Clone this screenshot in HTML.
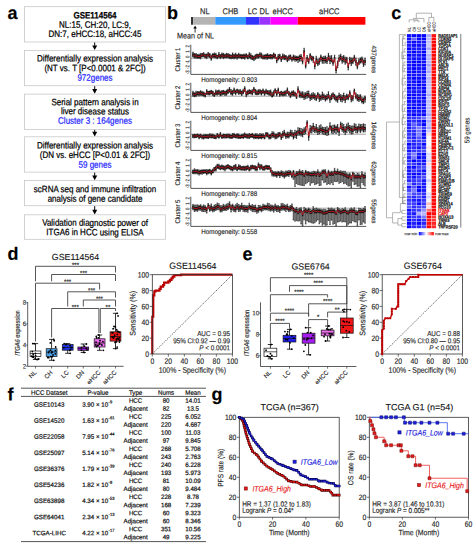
<!DOCTYPE html>
<html><head><meta charset="utf-8">
<style>
html,body{margin:0;padding:0;background:#fff;width:476px;height:550px;overflow:hidden}
svg{display:block;font-family:"Liberation Sans", sans-serif;text-rendering:geometricPrecision}
</style></head><body>
<svg width="476" height="550" viewBox="0 0 476 550">
<rect x="0" y="0" width="476" height="550" fill="#fff"/>
<text x="0" y="0" transform="translate(7.50 18.90) rotate(0.05)" font-size="18.0" font-weight="bold" fill="#000" stroke="#000" stroke-width="0.15">a</text>
<rect x="24.50" y="6.70" width="141.00" height="35.30" fill="#fff" stroke="#c8c8c8" stroke-width="0.8"/>
<text x="0" y="2.88" transform="translate(95.00 15.10) rotate(0.05) scale(1.0 1.17)" font-size="8" text-anchor="middle" fill="#000" font-weight="bold" stroke="#000" stroke-width="0.2">GSE114564</text>
<text x="0" y="2.88" transform="translate(95.00 24.50) rotate(0.05) scale(1.0 1.17)" font-size="8" text-anchor="middle" fill="#000" stroke="#000" stroke-width="0.2">NL:15, CH:20, LC:9,</text>
<text x="0" y="2.88" transform="translate(95.00 33.60) rotate(0.05) scale(1.0 1.17)" font-size="8" text-anchor="middle" fill="#000" stroke="#000" stroke-width="0.2">DN:7, eHCC:18, aHCC:45</text>
<line x1="94.70" y1="42.50" x2="94.70" y2="45.90" stroke="#000" stroke-width="1.0"/>
<path d="M92.20,45.40 L97.20,45.40 L94.70,50.10 Z" stroke="#000" stroke-width="0" fill="#000"/>
<rect x="24.50" y="50.40" width="141.00" height="35.30" fill="#fff" stroke="#c8c8c8" stroke-width="0.8"/>
<text x="0" y="2.88" transform="translate(95.00 58.20) rotate(0.05) scale(1.0 1.17)" font-size="8" text-anchor="middle" fill="#000" stroke="#000" stroke-width="0.2">Differentially expression analysis</text>
<text x="0" y="2.88" transform="translate(95.00 67.90) rotate(0.05) scale(1.0 1.17)" font-size="8" text-anchor="middle" fill="#000" stroke="#000" stroke-width="0.2">(NT vs. T [P&lt;0.0001 &amp; 2FC])</text>
<text x="0" y="2.88" transform="translate(95.00 77.30) rotate(0.05) scale(1.0 1.17)" font-size="8" text-anchor="middle" fill="#2a2aff" stroke="#2a2aff" stroke-width="0.2">972genes</text>
<line x1="94.70" y1="86.20" x2="94.70" y2="89.60" stroke="#000" stroke-width="1.0"/>
<path d="M92.20,89.10 L97.20,89.10 L94.70,93.80 Z" stroke="#000" stroke-width="0" fill="#000"/>
<rect x="24.50" y="94.10" width="141.00" height="35.30" fill="#fff" stroke="#c8c8c8" stroke-width="0.8"/>
<text x="0" y="2.88" transform="translate(95.00 101.80) rotate(0.05) scale(1.0 1.17)" font-size="8" text-anchor="middle" fill="#000" stroke="#000" stroke-width="0.2">Serial pattern analysis in</text>
<text x="0" y="2.88" transform="translate(95.00 111.00) rotate(0.05) scale(1.0 1.17)" font-size="8" text-anchor="middle" fill="#000" stroke="#000" stroke-width="0.2">liver disease status</text>
<text x="0" y="2.88" transform="translate(95.00 120.30) rotate(0.05) scale(1.0 1.17)" font-size="8" text-anchor="middle" fill="#2a2aff" stroke="#2a2aff" stroke-width="0.2">Cluster 3 : 164genes</text>
<line x1="94.70" y1="129.90" x2="94.70" y2="132.30" stroke="#000" stroke-width="1.0"/>
<path d="M92.20,131.80 L97.20,131.80 L94.70,136.50 Z" stroke="#000" stroke-width="0" fill="#000"/>
<rect x="24.50" y="136.80" width="141.00" height="35.30" fill="#fff" stroke="#c8c8c8" stroke-width="0.8"/>
<text x="0" y="2.88" transform="translate(95.00 145.20) rotate(0.05) scale(1.0 1.17)" font-size="8" text-anchor="middle" fill="#000" stroke="#000" stroke-width="0.2">Differentially expression analysis</text>
<text x="0" y="2.88" transform="translate(95.00 154.60) rotate(0.05) scale(1.0 1.17)" font-size="8" text-anchor="middle" fill="#000" stroke="#000" stroke-width="0.2">(DN vs. eHCC [P&lt;0.01 &amp; 2FC])</text>
<text x="0" y="2.88" transform="translate(95.00 164.40) rotate(0.05) scale(1.0 1.17)" font-size="8" text-anchor="middle" fill="#2a2aff" stroke="#2a2aff" stroke-width="0.2">59 genes</text>
<line x1="94.70" y1="172.60" x2="94.70" y2="176.00" stroke="#000" stroke-width="1.0"/>
<path d="M92.20,175.50 L97.20,175.50 L94.70,180.20 Z" stroke="#000" stroke-width="0" fill="#000"/>
<rect x="24.50" y="180.50" width="141.00" height="25.20" fill="#fff" stroke="#c8c8c8" stroke-width="0.8"/>
<text x="0" y="2.88" transform="translate(95.00 188.90) rotate(0.05) scale(1.0 1.17)" font-size="8" text-anchor="middle" fill="#000" stroke="#000" stroke-width="0.2">scRNA seq and immune infiltration</text>
<text x="0" y="2.88" transform="translate(95.00 198.30) rotate(0.05) scale(1.0 1.17)" font-size="8" text-anchor="middle" fill="#000" stroke="#000" stroke-width="0.2">analysis of gene candidate</text>
<line x1="94.70" y1="206.20" x2="94.70" y2="210.30" stroke="#000" stroke-width="1.0"/>
<path d="M92.20,209.80 L97.20,209.80 L94.70,214.50 Z" stroke="#000" stroke-width="0" fill="#000"/>
<rect x="24.50" y="214.80" width="141.00" height="24.50" fill="#fff" stroke="#c8c8c8" stroke-width="0.8"/>
<text x="0" y="2.88" transform="translate(95.00 222.50) rotate(0.05) scale(1.0 1.17)" font-size="8" text-anchor="middle" fill="#000" stroke="#000" stroke-width="0.2">Validation diagnostic power of</text>
<text x="0" y="2.88" transform="translate(95.00 232.00) rotate(0.05) scale(1.0 1.17)" font-size="8" text-anchor="middle" fill="#000" stroke="#000" stroke-width="0.2">ITGA6 in HCC using ELISA</text>
<text x="0" y="0" transform="translate(167.00 18.90) rotate(0.05)" font-size="18.0" font-weight="bold" fill="#000" stroke="#000" stroke-width="0.15">b</text>
<rect x="191.00" y="17.00" width="2.20" height="7.70" fill="#333333" stroke="none" stroke-width="1"/>
<rect x="193.20" y="17.00" width="22.10" height="7.70" fill="#b4b4b4" stroke="none" stroke-width="1"/>
<rect x="215.30" y="17.00" width="30.70" height="7.70" fill="#3399ff" stroke="none" stroke-width="1"/>
<rect x="246.00" y="17.00" width="13.40" height="7.70" fill="#3333ff" stroke="none" stroke-width="1"/>
<rect x="259.40" y="17.00" width="10.90" height="7.70" fill="#9933ff" stroke="none" stroke-width="1"/>
<rect x="270.30" y="17.00" width="27.50" height="7.70" fill="#ff00ff" stroke="none" stroke-width="1"/>
<rect x="297.80" y="17.00" width="67.60" height="7.70" fill="#ff0000" stroke="none" stroke-width="1"/>
<text x="0" y="2.70" transform="translate(204.80 11.20) rotate(0.05) scale(1.0 1.15)" font-size="7.5" text-anchor="middle" fill="#222" stroke="#222" stroke-width="0.12">NL</text>
<text x="0" y="2.70" transform="translate(230.40 11.20) rotate(0.05) scale(1.0 1.15)" font-size="7.5" text-anchor="middle" fill="#222" stroke="#222" stroke-width="0.12">CHB</text>
<text x="0" y="2.70" transform="translate(252.50 11.20) rotate(0.05) scale(1.0 1.15)" font-size="7.5" text-anchor="middle" fill="#222" stroke="#222" stroke-width="0.12">LC</text>
<text x="0" y="2.70" transform="translate(264.30 11.20) rotate(0.05) scale(1.0 1.15)" font-size="7.5" text-anchor="middle" fill="#222" stroke="#222" stroke-width="0.12">DL</text>
<text x="0" y="2.70" transform="translate(282.70 11.20) rotate(0.05) scale(1.0 1.15)" font-size="7.5" text-anchor="middle" fill="#222" stroke="#222" stroke-width="0.12">eHCC</text>
<text x="0" y="2.70" transform="translate(329.30 11.20) rotate(0.05) scale(1.0 1.15)" font-size="7.5" text-anchor="middle" fill="#222" stroke="#222" stroke-width="0.12">aHCC</text>
<line x1="195.10" y1="27.50" x2="195.10" y2="32.50" stroke="#000" stroke-width="0.8"/>
<path d="M193.3,28.6 L196.9,28.6 L195.1,25.8 Z" stroke="#000" stroke-width="0" fill="#000"/>
<text x="0" y="2.59" transform="translate(195.50 35.50) rotate(0.05) scale(1.0 1.15)" font-size="7.2" text-anchor="middle" fill="#222" stroke="#222" stroke-width="0.12">Mean of NL</text>
<text x="0" y="2.27" transform="translate(374.20 59.25) rotate(90.05) scale(1.0 1.05)" font-size="6.3" text-anchor="middle" fill="#222" stroke="#222" stroke-width="0.12">437genes</text>
<text x="0" y="2.16" transform="translate(177.60 59.55) rotate(-89.95) scale(1.0 1.14)" font-size="6.0" text-anchor="middle" fill="#222" stroke="#222" stroke-width="0.12">Cluster 1</text>
<text x="0" y="1.55" transform="translate(187.40 46.30) rotate(-89.95) scale(1.0 1.2)" font-size="4.3" text-anchor="middle" fill="#333" stroke="#333" stroke-width="0.12">2</text>
<text x="0" y="1.55" transform="translate(187.40 51.50) rotate(-89.95) scale(1.0 1.2)" font-size="4.3" text-anchor="middle" fill="#333" stroke="#333" stroke-width="0.12">1</text>
<text x="0" y="1.55" transform="translate(187.40 56.70) rotate(-89.95) scale(1.0 1.2)" font-size="4.3" text-anchor="middle" fill="#333" stroke="#333" stroke-width="0.12">0</text>
<text x="0" y="1.55" transform="translate(187.40 61.90) rotate(-89.95) scale(1.0 1.2)" font-size="4.3" text-anchor="middle" fill="#333" stroke="#333" stroke-width="0.12">-1</text>
<text x="0" y="1.55" transform="translate(187.40 67.10) rotate(-89.95) scale(1.0 1.2)" font-size="4.3" text-anchor="middle" fill="#333" stroke="#333" stroke-width="0.12">-2</text>
<text x="0" y="1.55" transform="translate(187.40 72.30) rotate(-89.95) scale(1.0 1.2)" font-size="4.3" text-anchor="middle" fill="#333" stroke="#333" stroke-width="0.12">-3</text>
<text x="0" y="2.25" transform="translate(201.20 79.60) rotate(0.05) scale(1.0 1.1)" font-size="6.25" text-anchor="start" fill="#222" stroke="#222" stroke-width="0.12">Homogeneity: 0.803</text>
<line x1="191.00" y1="58.20" x2="366.00" y2="58.20" stroke="#9a9a9a" stroke-width="0.9"/>
<path d="M193.00,52.11V56.98M194.52,53.62V58.07M196.04,53.52V58.34M197.57,54.62V58.24M199.09,54.09V58.26M200.61,53.38V58.86M202.13,53.39V56.83M203.65,52.68V56.66M205.18,54.22V57.95M206.70,53.94V58.60M208.22,52.54V57.10M209.74,53.38V57.51M211.27,55.07V60.15M212.79,53.66V57.55M214.31,53.02V57.71M215.83,53.22V58.00M217.35,55.33V58.80M218.88,52.57V57.53M220.40,54.68V58.68M221.92,53.00V57.60M223.44,53.34V58.69M224.96,54.29V57.98M226.49,53.25V57.80M228.01,53.53V58.03M229.53,54.37V58.50M231.05,55.01V58.90M232.58,52.96V58.41M234.10,54.27V58.90M235.62,53.16V58.30M237.14,54.70V59.17M238.66,53.24V57.95M240.19,54.29V58.09M241.71,54.62V58.90M243.23,54.17V58.48M244.75,54.17V59.20M246.27,53.79V57.54M247.80,55.07V58.95M249.32,52.66V58.00M250.84,53.81V59.02M252.36,55.60V59.65M253.88,56.06V60.48M255.41,54.76V59.34M256.93,54.01V58.37M258.45,54.38V58.08M259.97,52.70V57.23M261.50,53.15V58.03M263.02,54.98V59.06M264.54,54.92V58.94M266.06,54.31V59.15M267.58,53.69V59.16M269.11,54.76V58.40M270.63,54.44V58.83M272.15,54.85V58.97M273.67,53.02V57.89M275.19,54.30V58.41M276.72,57.31V62.74M278.24,54.56V60.09M279.76,54.17V58.84M281.28,56.62V61.49M282.81,53.88V59.16M284.33,54.74V59.66M285.85,55.53V59.78M287.37,56.83V61.74M288.89,55.22V60.36M290.42,54.90V59.29M291.94,57.01V61.17M293.46,55.01V60.02M294.98,55.85V61.20M296.50,56.30V60.95M298.03,56.29V62.40M299.55,55.13V61.18M301.07,54.58V61.02M302.59,57.86V63.87M304.12,48.30V55.35M305.64,62.62V68.10M307.16,55.62V61.46M308.68,58.72V63.40M310.20,53.77V59.37M311.73,56.00V60.73M313.25,56.59V62.33M314.77,62.25V68.83M316.29,56.25V63.46M317.81,59.56V65.60M319.34,58.18V64.31M320.86,54.98V61.33M322.38,57.16V63.16M323.90,56.37V63.31M325.42,55.99V62.78M326.95,57.49V63.46M328.47,53.37V60.26M329.99,55.95V63.63M331.51,55.62V62.00M333.04,59.96V65.25M334.56,55.22V61.81M336.08,66.73V72.96M337.60,60.89V67.90M339.12,55.18V61.51M340.65,54.22V60.08M342.17,56.34V63.16M343.69,55.60V62.01M345.21,57.13V64.13M346.73,57.30V62.93M348.26,63.56V69.93M349.78,57.31V63.69M351.30,58.01V65.57M352.82,58.08V63.61M354.35,55.26V61.08M355.87,58.19V65.13M357.39,62.64V68.84M358.91,58.91V64.67M360.43,57.88V63.11M361.96,56.99V62.81M363.48,59.96V66.38M365.00,58.21V65.04" stroke="#333" stroke-width="1.1" fill="none"/>
<path d="M192.30,52.11h1.4M192.30,56.98h1.4M193.82,53.62h1.4M193.82,58.07h1.4M195.34,53.52h1.4M195.34,58.34h1.4M196.87,54.62h1.4M196.87,58.24h1.4M198.39,54.09h1.4M198.39,58.26h1.4M199.91,53.38h1.4M199.91,58.86h1.4M201.43,53.39h1.4M201.43,56.83h1.4M202.95,52.68h1.4M202.95,56.66h1.4M204.48,54.22h1.4M204.48,57.95h1.4M206.00,53.94h1.4M206.00,58.60h1.4M207.52,52.54h1.4M207.52,57.10h1.4M209.04,53.38h1.4M209.04,57.51h1.4M210.57,55.07h1.4M210.57,60.15h1.4M212.09,53.66h1.4M212.09,57.55h1.4M213.61,53.02h1.4M213.61,57.71h1.4M215.13,53.22h1.4M215.13,58.00h1.4M216.65,55.33h1.4M216.65,58.80h1.4M218.18,52.57h1.4M218.18,57.53h1.4M219.70,54.68h1.4M219.70,58.68h1.4M221.22,53.00h1.4M221.22,57.60h1.4M222.74,53.34h1.4M222.74,58.69h1.4M224.26,54.29h1.4M224.26,57.98h1.4M225.79,53.25h1.4M225.79,57.80h1.4M227.31,53.53h1.4M227.31,58.03h1.4M228.83,54.37h1.4M228.83,58.50h1.4M230.35,55.01h1.4M230.35,58.90h1.4M231.88,52.96h1.4M231.88,58.41h1.4M233.40,54.27h1.4M233.40,58.90h1.4M234.92,53.16h1.4M234.92,58.30h1.4M236.44,54.70h1.4M236.44,59.17h1.4M237.96,53.24h1.4M237.96,57.95h1.4M239.49,54.29h1.4M239.49,58.09h1.4M241.01,54.62h1.4M241.01,58.90h1.4M242.53,54.17h1.4M242.53,58.48h1.4M244.05,54.17h1.4M244.05,59.20h1.4M245.57,53.79h1.4M245.57,57.54h1.4M247.10,55.07h1.4M247.10,58.95h1.4M248.62,52.66h1.4M248.62,58.00h1.4M250.14,53.81h1.4M250.14,59.02h1.4M251.66,55.60h1.4M251.66,59.65h1.4M253.18,56.06h1.4M253.18,60.48h1.4M254.71,54.76h1.4M254.71,59.34h1.4M256.23,54.01h1.4M256.23,58.37h1.4M257.75,54.38h1.4M257.75,58.08h1.4M259.27,52.70h1.4M259.27,57.23h1.4M260.80,53.15h1.4M260.80,58.03h1.4M262.32,54.98h1.4M262.32,59.06h1.4M263.84,54.92h1.4M263.84,58.94h1.4M265.36,54.31h1.4M265.36,59.15h1.4M266.88,53.69h1.4M266.88,59.16h1.4M268.41,54.76h1.4M268.41,58.40h1.4M269.93,54.44h1.4M269.93,58.83h1.4M271.45,54.85h1.4M271.45,58.97h1.4M272.97,53.02h1.4M272.97,57.89h1.4M274.49,54.30h1.4M274.49,58.41h1.4M276.02,57.31h1.4M276.02,62.74h1.4M277.54,54.56h1.4M277.54,60.09h1.4M279.06,54.17h1.4M279.06,58.84h1.4M280.58,56.62h1.4M280.58,61.49h1.4M282.11,53.88h1.4M282.11,59.16h1.4M283.63,54.74h1.4M283.63,59.66h1.4M285.15,55.53h1.4M285.15,59.78h1.4M286.67,56.83h1.4M286.67,61.74h1.4M288.19,55.22h1.4M288.19,60.36h1.4M289.72,54.90h1.4M289.72,59.29h1.4M291.24,57.01h1.4M291.24,61.17h1.4M292.76,55.01h1.4M292.76,60.02h1.4M294.28,55.85h1.4M294.28,61.20h1.4M295.80,56.30h1.4M295.80,60.95h1.4M297.33,56.29h1.4M297.33,62.40h1.4M298.85,55.13h1.4M298.85,61.18h1.4M300.37,54.58h1.4M300.37,61.02h1.4M301.89,57.86h1.4M301.89,63.87h1.4M303.42,48.30h1.4M303.42,55.35h1.4M304.94,62.62h1.4M304.94,68.10h1.4M306.46,55.62h1.4M306.46,61.46h1.4M307.98,58.72h1.4M307.98,63.40h1.4M309.50,53.77h1.4M309.50,59.37h1.4M311.03,56.00h1.4M311.03,60.73h1.4M312.55,56.59h1.4M312.55,62.33h1.4M314.07,62.25h1.4M314.07,68.83h1.4M315.59,56.25h1.4M315.59,63.46h1.4M317.11,59.56h1.4M317.11,65.60h1.4M318.64,58.18h1.4M318.64,64.31h1.4M320.16,54.98h1.4M320.16,61.33h1.4M321.68,57.16h1.4M321.68,63.16h1.4M323.20,56.37h1.4M323.20,63.31h1.4M324.72,55.99h1.4M324.72,62.78h1.4M326.25,57.49h1.4M326.25,63.46h1.4M327.77,53.37h1.4M327.77,60.26h1.4M329.29,55.95h1.4M329.29,63.63h1.4M330.81,55.62h1.4M330.81,62.00h1.4M332.34,59.96h1.4M332.34,65.25h1.4M333.86,55.22h1.4M333.86,61.81h1.4M335.38,66.73h1.4M335.38,72.96h1.4M336.90,60.89h1.4M336.90,67.90h1.4M338.42,55.18h1.4M338.42,61.51h1.4M339.95,54.22h1.4M339.95,60.08h1.4M341.47,56.34h1.4M341.47,63.16h1.4M342.99,55.60h1.4M342.99,62.01h1.4M344.51,57.13h1.4M344.51,64.13h1.4M346.03,57.30h1.4M346.03,62.93h1.4M347.56,63.56h1.4M347.56,69.93h1.4M349.08,57.31h1.4M349.08,63.69h1.4M350.60,58.01h1.4M350.60,65.57h1.4M352.12,58.08h1.4M352.12,63.61h1.4M353.65,55.26h1.4M353.65,61.08h1.4M355.17,58.19h1.4M355.17,65.13h1.4M356.69,62.64h1.4M356.69,68.84h1.4M358.21,58.91h1.4M358.21,64.67h1.4M359.73,57.88h1.4M359.73,63.11h1.4M361.26,56.99h1.4M361.26,62.81h1.4M362.78,59.96h1.4M362.78,66.38h1.4M364.30,58.21h1.4M364.30,65.04h1.4" stroke="#222" stroke-width="0.7" fill="none"/>
<path d="M193.00,53.27v3.2M194.52,54.23v3.2M196.04,54.30v3.2M197.57,54.69v3.2M199.09,54.96v3.2M200.61,54.63v3.2M202.13,53.55v3.2M203.65,53.33v3.2M205.18,54.22v3.2M206.70,54.49v3.2M208.22,53.17v3.2M209.74,53.96v3.2M211.27,56.17v3.2M212.79,54.05v3.2M214.31,54.02v3.2M215.83,54.33v3.2M217.35,55.30v3.2M218.88,53.77v3.2M220.40,54.76v3.2M221.92,54.03v3.2M223.44,54.62v3.2M224.96,54.43v3.2M226.49,54.32v3.2M228.01,54.27v3.2M229.53,54.54v3.2M231.05,55.16v3.2M232.58,54.28v3.2M234.10,54.68v3.2M235.62,54.33v3.2M237.14,54.83v3.2M238.66,54.30v3.2M240.19,54.70v3.2M241.71,54.96v3.2M243.23,54.69v3.2M244.75,54.98v3.2M246.27,54.06v3.2M247.80,55.43v3.2M249.32,53.70v3.2M250.84,55.05v3.2M252.36,56.20v3.2M253.88,56.41v3.2M255.41,55.14v3.2M256.93,54.28v3.2M258.45,54.50v3.2M259.97,53.59v3.2M261.50,54.47v3.2M263.02,55.64v3.2M264.54,55.20v3.2M266.06,54.86v3.2M267.58,55.11v3.2M269.11,55.00v3.2M270.63,54.51v3.2M272.15,54.93v3.2M273.67,53.75v3.2M275.19,54.46v3.2M276.72,58.41v3.2M278.24,55.74v3.2M279.76,54.73v3.2M281.28,57.27v3.2M282.81,55.17v3.2M284.33,55.63v3.2M285.85,55.71v3.2M287.37,57.94v3.2M288.89,56.34v3.2M290.42,55.09v3.2M291.94,57.13v3.2M293.46,56.09v3.2M294.98,56.81v3.2M296.50,56.82v3.2M298.03,57.10v3.2M299.55,56.22v3.2M301.07,55.86v3.2M302.59,59.41v3.2M304.12,50.33v3.2M305.64,63.51v3.2M307.16,57.01v3.2M308.68,59.36v3.2M310.20,54.35v3.2M311.73,56.53v3.2M313.25,57.14v3.2M314.77,63.89v3.2M316.29,58.47v3.2M317.81,61.34v3.2M319.34,59.30v3.2M320.86,56.19v3.2M322.38,57.81v3.2M323.90,58.00v3.2M325.42,57.51v3.2M326.95,59.16v3.2M328.47,55.34v3.2M329.99,58.22v3.2M331.51,57.54v3.2M333.04,60.61v3.2M334.56,57.10v3.2M336.08,67.83v3.2M337.60,62.69v3.2M339.12,57.39v3.2M340.65,55.66v3.2M342.17,58.36v3.2M343.69,56.79v3.2M345.21,59.37v3.2M346.73,58.16v3.2M348.26,64.78v3.2M349.78,58.69v3.2M351.30,60.24v3.2M352.82,59.43v3.2M354.35,56.62v3.2M355.87,59.80v3.2M357.39,64.38v3.2M358.91,60.52v3.2M360.43,58.83v3.2M361.96,58.27v3.2M363.48,61.61v3.2M365.00,59.81v3.2" stroke="#151515" stroke-width="1.5" fill="none"/>
<polyline points="193.00,54.87 194.52,55.83 196.04,55.90 197.57,56.29 199.09,56.56 200.61,56.23 202.13,55.15 203.65,54.93 205.18,55.82 206.70,56.09 208.22,54.77 209.74,55.56 211.27,57.77 212.79,55.65 214.31,55.62 215.83,55.93 217.35,56.90 218.88,55.37 220.40,56.36 221.92,55.63 223.44,56.22 224.96,56.03 226.49,55.92 228.01,55.87 229.53,56.14 231.05,56.76 232.58,55.88 234.10,56.28 235.62,55.93 237.14,56.43 238.66,55.90 240.19,56.30 241.71,56.56 243.23,56.29 244.75,56.58 246.27,55.66 247.80,57.03 249.32,55.30 250.84,56.65 252.36,57.80 253.88,58.01 255.41,56.74 256.93,55.88 258.45,56.10 259.97,55.19 261.50,56.07 263.02,57.24 264.54,56.80 266.06,56.46 267.58,56.71 269.11,56.60 270.63,56.11 272.15,56.53 273.67,55.35 275.19,56.06 276.72,60.01 278.24,57.34 279.76,56.33 281.28,58.87 282.81,56.77 284.33,57.23 285.85,57.31 287.37,59.54 288.89,57.94 290.42,56.69 291.94,58.73 293.46,57.69 294.98,58.41 296.50,58.42 298.03,58.70 299.55,57.82 301.07,57.46 302.59,61.01 304.12,51.93 305.64,65.11 307.16,58.61 308.68,60.96 310.20,55.95 311.73,58.13 313.25,58.74 314.77,65.49 316.29,60.07 317.81,62.94 319.34,60.90 320.86,57.79 322.38,59.41 323.90,59.60 325.42,59.11 326.95,60.76 328.47,56.94 329.99,59.82 331.51,59.14 333.04,62.21 334.56,58.70 336.08,69.43 337.60,64.29 339.12,58.99 340.65,57.26 342.17,59.96 343.69,58.39 345.21,60.97 346.73,59.76 348.26,66.38 349.78,60.29 351.30,61.84 352.82,61.03 354.35,58.22 355.87,61.40 357.39,65.98 358.91,62.12 360.43,60.43 361.96,59.87 363.48,63.21 365.00,61.41" fill="none" stroke="#c8141e" stroke-width="0.9"/>
<line x1="190.80" y1="44.70" x2="190.80" y2="74.40" stroke="#444" stroke-width="0.9"/>
<line x1="190.80" y1="74.40" x2="366.20" y2="74.40" stroke="#444" stroke-width="0.9"/>
<text x="0" y="2.27" transform="translate(374.20 97.25) rotate(90.05) scale(1.0 1.05)" font-size="6.3" text-anchor="middle" fill="#222" stroke="#222" stroke-width="0.12">252genes</text>
<text x="0" y="2.16" transform="translate(177.60 97.55) rotate(-89.95) scale(1.0 1.14)" font-size="6.0" text-anchor="middle" fill="#222" stroke="#222" stroke-width="0.12">Cluster 2</text>
<text x="0" y="1.55" transform="translate(187.40 84.30) rotate(-89.95) scale(1.0 1.2)" font-size="4.3" text-anchor="middle" fill="#333" stroke="#333" stroke-width="0.12">2</text>
<text x="0" y="1.55" transform="translate(187.40 89.50) rotate(-89.95) scale(1.0 1.2)" font-size="4.3" text-anchor="middle" fill="#333" stroke="#333" stroke-width="0.12">1</text>
<text x="0" y="1.55" transform="translate(187.40 94.70) rotate(-89.95) scale(1.0 1.2)" font-size="4.3" text-anchor="middle" fill="#333" stroke="#333" stroke-width="0.12">0</text>
<text x="0" y="1.55" transform="translate(187.40 99.90) rotate(-89.95) scale(1.0 1.2)" font-size="4.3" text-anchor="middle" fill="#333" stroke="#333" stroke-width="0.12">-1</text>
<text x="0" y="1.55" transform="translate(187.40 105.10) rotate(-89.95) scale(1.0 1.2)" font-size="4.3" text-anchor="middle" fill="#333" stroke="#333" stroke-width="0.12">-2</text>
<text x="0" y="1.55" transform="translate(187.40 110.30) rotate(-89.95) scale(1.0 1.2)" font-size="4.3" text-anchor="middle" fill="#333" stroke="#333" stroke-width="0.12">-3</text>
<text x="0" y="2.25" transform="translate(201.20 117.60) rotate(0.05) scale(1.0 1.1)" font-size="6.25" text-anchor="start" fill="#222" stroke="#222" stroke-width="0.12">Homogeneity: 0.804</text>
<line x1="191.00" y1="96.20" x2="366.00" y2="96.20" stroke="#9a9a9a" stroke-width="0.9"/>
<path d="M193.00,91.22V96.37M194.52,92.84V96.76M196.04,91.17V96.57M197.57,91.58V95.20M199.09,91.73V95.89M200.61,90.77V95.33M202.13,91.43V95.57M203.65,92.02V96.19M205.18,93.18V97.06M206.70,89.64V94.38M208.22,91.33V94.76M209.74,91.06V94.91M211.27,90.35V93.97M212.79,91.08V95.44M214.31,92.95V96.39M215.83,89.94V94.94M217.35,90.70V95.11M218.88,89.97V94.42M220.40,91.19V95.78M221.92,90.59V95.23M223.44,90.41V94.43M224.96,91.26V95.46M226.49,90.15V95.25M228.01,89.20V93.65M229.53,87.54V92.19M231.05,89.47V94.77M232.58,90.41V95.19M234.10,88.05V93.27M235.62,90.20V94.80M237.14,89.13V92.89M238.66,89.90V94.36M240.19,89.61V94.02M241.71,91.03V95.50M243.23,89.14V93.81M244.75,86.77V91.71M246.27,91.35V96.76M247.80,90.24V94.87M249.32,89.71V93.67M250.84,90.25V94.00M252.36,89.69V94.87M253.88,87.35V92.54M255.41,89.35V94.45M256.93,90.35V94.82M258.45,89.71V94.55M259.97,89.38V94.09M261.50,90.65V95.10M263.02,88.98V93.59M264.54,90.88V95.36M266.06,89.22V93.93M267.58,90.66V94.34M269.11,90.43V95.30M270.63,89.97V95.43M272.15,92.30V97.12M273.67,90.83V95.98M275.19,88.79V93.11M276.72,90.52V96.04M278.24,88.12V93.35M279.76,92.05V96.31M281.28,91.21V95.28M282.81,91.94V96.03M284.33,91.21V95.65M285.85,90.73V95.61M287.37,87.90V93.51M288.89,91.45V95.37M290.42,92.81V97.55M291.94,91.23V95.82M293.46,90.69V95.88M294.98,92.06V96.07M296.50,93.63V98.42M298.03,86.76V92.37M299.55,91.02V97.33M301.07,92.04V97.71M302.59,91.74V97.70M304.12,92.78V99.43M305.64,92.84V98.75M307.16,91.25V98.11M308.68,91.03V97.61M310.20,94.84V100.54M311.73,93.28V99.42M313.25,92.65V98.50M314.77,93.80V99.68M316.29,95.38V100.44M317.81,92.63V98.14M319.34,94.24V101.52M320.86,95.03V100.36M322.38,92.10V99.34M323.90,93.98V99.52M325.42,95.62V101.09M326.95,94.32V99.92M328.47,91.84V98.16M329.99,95.63V102.30M331.51,93.89V99.78M333.04,92.80V98.30M334.56,94.35V99.71M336.08,96.07V101.16M337.60,95.96V102.28M339.12,93.09V99.31M340.65,94.68V101.28M342.17,95.22V101.92M343.69,93.11V100.16M345.21,95.83V102.54M346.73,94.09V99.39M348.26,94.83V99.76M349.78,90.86V97.05M351.30,95.27V101.83M352.82,95.71V100.79M354.35,89.04V94.10M355.87,92.95V98.68M357.39,94.54V100.67M358.91,95.00V101.47M360.43,94.73V100.43M361.96,97.39V102.90M363.48,97.88V103.63M365.00,96.06V102.24" stroke="#333" stroke-width="1.1" fill="none"/>
<path d="M192.30,91.22h1.4M192.30,96.37h1.4M193.82,92.84h1.4M193.82,96.76h1.4M195.34,91.17h1.4M195.34,96.57h1.4M196.87,91.58h1.4M196.87,95.20h1.4M198.39,91.73h1.4M198.39,95.89h1.4M199.91,90.77h1.4M199.91,95.33h1.4M201.43,91.43h1.4M201.43,95.57h1.4M202.95,92.02h1.4M202.95,96.19h1.4M204.48,93.18h1.4M204.48,97.06h1.4M206.00,89.64h1.4M206.00,94.38h1.4M207.52,91.33h1.4M207.52,94.76h1.4M209.04,91.06h1.4M209.04,94.91h1.4M210.57,90.35h1.4M210.57,93.97h1.4M212.09,91.08h1.4M212.09,95.44h1.4M213.61,92.95h1.4M213.61,96.39h1.4M215.13,89.94h1.4M215.13,94.94h1.4M216.65,90.70h1.4M216.65,95.11h1.4M218.18,89.97h1.4M218.18,94.42h1.4M219.70,91.19h1.4M219.70,95.78h1.4M221.22,90.59h1.4M221.22,95.23h1.4M222.74,90.41h1.4M222.74,94.43h1.4M224.26,91.26h1.4M224.26,95.46h1.4M225.79,90.15h1.4M225.79,95.25h1.4M227.31,89.20h1.4M227.31,93.65h1.4M228.83,87.54h1.4M228.83,92.19h1.4M230.35,89.47h1.4M230.35,94.77h1.4M231.88,90.41h1.4M231.88,95.19h1.4M233.40,88.05h1.4M233.40,93.27h1.4M234.92,90.20h1.4M234.92,94.80h1.4M236.44,89.13h1.4M236.44,92.89h1.4M237.96,89.90h1.4M237.96,94.36h1.4M239.49,89.61h1.4M239.49,94.02h1.4M241.01,91.03h1.4M241.01,95.50h1.4M242.53,89.14h1.4M242.53,93.81h1.4M244.05,86.77h1.4M244.05,91.71h1.4M245.57,91.35h1.4M245.57,96.76h1.4M247.10,90.24h1.4M247.10,94.87h1.4M248.62,89.71h1.4M248.62,93.67h1.4M250.14,90.25h1.4M250.14,94.00h1.4M251.66,89.69h1.4M251.66,94.87h1.4M253.18,87.35h1.4M253.18,92.54h1.4M254.71,89.35h1.4M254.71,94.45h1.4M256.23,90.35h1.4M256.23,94.82h1.4M257.75,89.71h1.4M257.75,94.55h1.4M259.27,89.38h1.4M259.27,94.09h1.4M260.80,90.65h1.4M260.80,95.10h1.4M262.32,88.98h1.4M262.32,93.59h1.4M263.84,90.88h1.4M263.84,95.36h1.4M265.36,89.22h1.4M265.36,93.93h1.4M266.88,90.66h1.4M266.88,94.34h1.4M268.41,90.43h1.4M268.41,95.30h1.4M269.93,89.97h1.4M269.93,95.43h1.4M271.45,92.30h1.4M271.45,97.12h1.4M272.97,90.83h1.4M272.97,95.98h1.4M274.49,88.79h1.4M274.49,93.11h1.4M276.02,90.52h1.4M276.02,96.04h1.4M277.54,88.12h1.4M277.54,93.35h1.4M279.06,92.05h1.4M279.06,96.31h1.4M280.58,91.21h1.4M280.58,95.28h1.4M282.11,91.94h1.4M282.11,96.03h1.4M283.63,91.21h1.4M283.63,95.65h1.4M285.15,90.73h1.4M285.15,95.61h1.4M286.67,87.90h1.4M286.67,93.51h1.4M288.19,91.45h1.4M288.19,95.37h1.4M289.72,92.81h1.4M289.72,97.55h1.4M291.24,91.23h1.4M291.24,95.82h1.4M292.76,90.69h1.4M292.76,95.88h1.4M294.28,92.06h1.4M294.28,96.07h1.4M295.80,93.63h1.4M295.80,98.42h1.4M297.33,86.76h1.4M297.33,92.37h1.4M298.85,91.02h1.4M298.85,97.33h1.4M300.37,92.04h1.4M300.37,97.71h1.4M301.89,91.74h1.4M301.89,97.70h1.4M303.42,92.78h1.4M303.42,99.43h1.4M304.94,92.84h1.4M304.94,98.75h1.4M306.46,91.25h1.4M306.46,98.11h1.4M307.98,91.03h1.4M307.98,97.61h1.4M309.50,94.84h1.4M309.50,100.54h1.4M311.03,93.28h1.4M311.03,99.42h1.4M312.55,92.65h1.4M312.55,98.50h1.4M314.07,93.80h1.4M314.07,99.68h1.4M315.59,95.38h1.4M315.59,100.44h1.4M317.11,92.63h1.4M317.11,98.14h1.4M318.64,94.24h1.4M318.64,101.52h1.4M320.16,95.03h1.4M320.16,100.36h1.4M321.68,92.10h1.4M321.68,99.34h1.4M323.20,93.98h1.4M323.20,99.52h1.4M324.72,95.62h1.4M324.72,101.09h1.4M326.25,94.32h1.4M326.25,99.92h1.4M327.77,91.84h1.4M327.77,98.16h1.4M329.29,95.63h1.4M329.29,102.30h1.4M330.81,93.89h1.4M330.81,99.78h1.4M332.34,92.80h1.4M332.34,98.30h1.4M333.86,94.35h1.4M333.86,99.71h1.4M335.38,96.07h1.4M335.38,101.16h1.4M336.90,95.96h1.4M336.90,102.28h1.4M338.42,93.09h1.4M338.42,99.31h1.4M339.95,94.68h1.4M339.95,101.28h1.4M341.47,95.22h1.4M341.47,101.92h1.4M342.99,93.11h1.4M342.99,100.16h1.4M344.51,95.83h1.4M344.51,102.54h1.4M346.03,94.09h1.4M346.03,99.39h1.4M347.56,94.83h1.4M347.56,99.76h1.4M349.08,90.86h1.4M349.08,97.05h1.4M350.60,95.27h1.4M350.60,101.83h1.4M352.12,95.71h1.4M352.12,100.79h1.4M353.65,89.04h1.4M353.65,94.10h1.4M355.17,92.95h1.4M355.17,98.68h1.4M356.69,94.54h1.4M356.69,100.67h1.4M358.21,95.00h1.4M358.21,101.47h1.4M359.73,94.73h1.4M359.73,100.43h1.4M361.26,97.39h1.4M361.26,102.90h1.4M362.78,97.88h1.4M362.78,103.63h1.4M364.30,96.06h1.4M364.30,102.24h1.4" stroke="#222" stroke-width="0.7" fill="none"/>
<path d="M193.00,92.23v3.2M194.52,93.19v3.2M196.04,92.43v3.2M197.57,91.71v3.2M199.09,91.81v3.2M200.61,91.29v3.2M202.13,92.29v3.2M203.65,92.25v3.2M205.18,93.29v3.2M206.70,90.61v3.2M208.22,91.38v3.2M209.74,91.08v3.2M211.27,90.51v3.2M212.79,91.32v3.2M214.31,93.04v3.2M215.83,91.20v3.2M217.35,91.31v3.2M218.88,90.53v3.2M220.40,92.30v3.2M221.92,91.18v3.2M223.44,90.62v3.2M224.96,91.26v3.2M226.49,91.31v3.2M228.01,89.74v3.2M229.53,88.63v3.2M231.05,90.71v3.2M232.58,90.96v3.2M234.10,89.25v3.2M235.62,90.75v3.2M237.14,89.22v3.2M238.66,90.38v3.2M240.19,90.47v3.2M241.71,91.50v3.2M243.23,89.94v3.2M244.75,87.66v3.2M246.27,92.42v3.2M247.80,91.28v3.2M249.32,90.28v3.2M250.84,90.41v3.2M252.36,90.96v3.2M253.88,88.16v3.2M255.41,90.27v3.2M256.93,91.43v3.2M258.45,91.04v3.2M259.97,90.10v3.2M261.50,90.76v3.2M263.02,89.85v3.2M264.54,91.32v3.2M266.06,90.27v3.2M267.58,90.72v3.2M269.11,91.53v3.2M270.63,91.28v3.2M272.15,93.68v3.2M273.67,92.16v3.2M275.19,89.19v3.2M276.72,91.90v3.2M278.24,89.34v3.2M279.76,92.27v3.2M281.28,91.34v3.2M282.81,92.18v3.2M284.33,91.65v3.2M285.85,91.39v3.2M287.37,89.33v3.2M288.89,91.86v3.2M290.42,93.77v3.2M291.94,91.69v3.2M293.46,91.68v3.2M294.98,92.41v3.2M296.50,94.98v3.2M298.03,88.38v3.2M299.55,92.73v3.2M301.07,93.21v3.2M302.59,93.75v3.2M304.12,94.73v3.2M305.64,93.80v3.2M307.16,92.92v3.2M308.68,93.19v3.2M310.20,95.51v3.2M311.73,94.65v3.2M313.25,94.55v3.2M314.77,94.85v3.2M316.29,96.39v3.2M317.81,93.34v3.2M319.34,96.40v3.2M320.86,96.08v3.2M322.38,94.28v3.2M323.90,95.14v3.2M325.42,96.47v3.2M326.95,95.83v3.2M328.47,93.93v3.2M329.99,97.15v3.2M331.51,95.84v3.2M333.04,93.45v3.2M334.56,95.00v3.2M336.08,97.02v3.2M337.60,97.40v3.2M339.12,94.80v3.2M340.65,96.47v3.2M342.17,96.92v3.2M343.69,95.11v3.2M345.21,97.61v3.2M346.73,95.35v3.2M348.26,95.63v3.2M349.78,91.89v3.2M351.30,96.94v3.2M352.82,96.32v3.2M354.35,89.93v3.2M355.87,94.52v3.2M357.39,96.40v3.2M358.91,96.97v3.2M360.43,95.84v3.2M361.96,98.75v3.2M363.48,99.07v3.2M365.00,97.06v3.2" stroke="#151515" stroke-width="1.5" fill="none"/>
<polyline points="193.00,93.83 194.52,94.79 196.04,94.03 197.57,93.31 199.09,93.41 200.61,92.89 202.13,93.89 203.65,93.85 205.18,94.89 206.70,92.21 208.22,92.98 209.74,92.68 211.27,92.11 212.79,92.92 214.31,94.64 215.83,92.80 217.35,92.91 218.88,92.13 220.40,93.90 221.92,92.78 223.44,92.22 224.96,92.86 226.49,92.91 228.01,91.34 229.53,90.23 231.05,92.31 232.58,92.56 234.10,90.85 235.62,92.35 237.14,90.82 238.66,91.98 240.19,92.07 241.71,93.10 243.23,91.54 244.75,89.26 246.27,94.02 247.80,92.88 249.32,91.88 250.84,92.01 252.36,92.56 253.88,89.76 255.41,91.87 256.93,93.03 258.45,92.64 259.97,91.70 261.50,92.36 263.02,91.45 264.54,92.92 266.06,91.87 267.58,92.32 269.11,93.13 270.63,92.88 272.15,95.28 273.67,93.76 275.19,90.79 276.72,93.50 278.24,90.94 279.76,93.87 281.28,92.94 282.81,93.78 284.33,93.25 285.85,92.99 287.37,90.93 288.89,93.46 290.42,95.37 291.94,93.29 293.46,93.28 294.98,94.01 296.50,96.58 298.03,89.98 299.55,94.33 301.07,94.81 302.59,95.35 304.12,96.33 305.64,95.40 307.16,94.52 308.68,94.79 310.20,97.11 311.73,96.25 313.25,96.15 314.77,96.45 316.29,97.99 317.81,94.94 319.34,98.00 320.86,97.68 322.38,95.88 323.90,96.74 325.42,98.07 326.95,97.43 328.47,95.53 329.99,98.75 331.51,97.44 333.04,95.05 334.56,96.60 336.08,98.62 337.60,99.00 339.12,96.40 340.65,98.07 342.17,98.52 343.69,96.71 345.21,99.21 346.73,96.95 348.26,97.23 349.78,93.49 351.30,98.54 352.82,97.92 354.35,91.53 355.87,96.12 357.39,98.00 358.91,98.57 360.43,97.44 361.96,100.35 363.48,100.67 365.00,98.66" fill="none" stroke="#c8141e" stroke-width="0.9"/>
<line x1="190.80" y1="82.70" x2="190.80" y2="112.40" stroke="#444" stroke-width="0.9"/>
<line x1="190.80" y1="112.40" x2="366.20" y2="112.40" stroke="#444" stroke-width="0.9"/>
<text x="0" y="2.27" transform="translate(374.20 135.25) rotate(90.05) scale(1.0 1.05)" font-size="6.3" text-anchor="middle" fill="#222" stroke="#222" stroke-width="0.12">164genes</text>
<text x="0" y="2.16" transform="translate(177.60 135.55) rotate(-89.95) scale(1.0 1.14)" font-size="6.0" text-anchor="middle" fill="#222" stroke="#222" stroke-width="0.12">Cluster 3</text>
<text x="0" y="1.55" transform="translate(187.40 122.30) rotate(-89.95) scale(1.0 1.2)" font-size="4.3" text-anchor="middle" fill="#333" stroke="#333" stroke-width="0.12">2</text>
<text x="0" y="1.55" transform="translate(187.40 127.50) rotate(-89.95) scale(1.0 1.2)" font-size="4.3" text-anchor="middle" fill="#333" stroke="#333" stroke-width="0.12">1</text>
<text x="0" y="1.55" transform="translate(187.40 132.70) rotate(-89.95) scale(1.0 1.2)" font-size="4.3" text-anchor="middle" fill="#333" stroke="#333" stroke-width="0.12">0</text>
<text x="0" y="1.55" transform="translate(187.40 137.90) rotate(-89.95) scale(1.0 1.2)" font-size="4.3" text-anchor="middle" fill="#333" stroke="#333" stroke-width="0.12">-1</text>
<text x="0" y="1.55" transform="translate(187.40 143.10) rotate(-89.95) scale(1.0 1.2)" font-size="4.3" text-anchor="middle" fill="#333" stroke="#333" stroke-width="0.12">-2</text>
<text x="0" y="1.55" transform="translate(187.40 148.30) rotate(-89.95) scale(1.0 1.2)" font-size="4.3" text-anchor="middle" fill="#333" stroke="#333" stroke-width="0.12">-3</text>
<text x="0" y="2.25" transform="translate(201.20 155.60) rotate(0.05) scale(1.0 1.1)" font-size="6.25" text-anchor="start" fill="#222" stroke="#222" stroke-width="0.12">Homogeneity: 0.815</text>
<line x1="191.00" y1="134.20" x2="366.00" y2="134.20" stroke="#9a9a9a" stroke-width="0.9"/>
<path d="M193.00,134.73V137.73M194.52,134.22V137.89M196.04,134.60V137.53M197.57,133.89V137.10M199.09,134.64V138.82M200.61,134.16V137.56M202.13,135.43V138.79M203.65,134.69V139.01M205.18,134.46V138.05M206.70,134.56V138.21M208.22,134.61V138.56M209.74,133.79V137.77M211.27,134.14V138.01M212.79,134.13V137.96M214.31,135.08V138.48M215.83,135.65V138.79M217.35,133.56V137.37M218.88,134.91V138.18M220.40,132.42V136.78M221.92,135.18V138.35M223.44,134.06V137.97M224.96,134.40V138.14M226.49,134.21V138.06M228.01,133.98V137.78M229.53,134.18V138.13M231.05,135.01V138.40M232.58,133.60V138.15M234.10,133.38V137.47M235.62,134.74V137.93M237.14,133.71V138.13M238.66,134.02V138.54M240.19,135.23V138.51M241.71,134.44V137.98M243.23,133.89V138.41M244.75,132.89V137.60M246.27,134.20V138.00M247.80,134.14V138.32M249.32,133.56V138.57M250.84,134.19V137.57M252.36,133.42V137.52M253.88,134.38V138.85M255.41,133.79V138.51M256.93,133.82V138.60M258.45,134.79V138.82M259.97,133.60V138.48M261.50,134.02V138.89M263.02,133.76V137.90M264.54,135.41V138.90M266.06,132.50V137.00M267.58,132.82V136.92M269.11,134.87V139.12M270.63,134.24V138.76M272.15,131.72V137.33M273.67,132.02V137.26M275.19,133.97V138.92M276.72,133.94V138.59M278.24,132.52V137.20M279.76,132.43V136.55M281.28,134.04V139.44M282.81,131.47V137.58M284.33,130.31V135.87M285.85,133.17V138.40M287.37,132.11V137.73M288.89,132.27V138.05M290.42,130.13V135.96M291.94,130.43V136.60M293.46,132.71V139.01M294.98,130.28V137.45M296.50,130.96V138.47M298.03,127.77V135.28M299.55,128.10V135.13M301.07,128.53V136.06M302.59,129.21V136.84M304.12,127.85V134.59M305.64,126.69V133.56M307.16,120.70V126.47M308.68,132.18V140.19M310.20,125.53V132.83M311.73,126.26V132.98M313.25,123.44V131.39M314.77,126.49V132.55M316.29,124.47V132.17M317.81,127.70V134.48M319.34,125.70V133.93M320.86,124.86V132.47M322.38,126.94V133.84M323.90,127.60V134.45M325.42,127.36V134.76M326.95,126.64V135.49M328.47,128.07V134.94M329.99,122.78V130.11M331.51,125.91V132.99M333.04,125.29V133.73M334.56,124.88V132.59M336.08,126.03V133.39M337.60,124.54V132.14M339.12,127.93V135.39M340.65,122.14V128.71M342.17,123.37V131.24M343.69,124.44V132.40M345.21,126.62V134.60M346.73,124.05V132.53M348.26,122.93V131.04M349.78,125.57V132.97M351.30,126.07V134.10M352.82,125.89V133.81M354.35,123.74V130.65M355.87,124.26V132.65M357.39,126.41V133.04M358.91,124.02V131.26M360.43,124.48V132.54M361.96,124.47V131.06M363.48,123.87V132.07M365.00,124.44V131.80" stroke="#333" stroke-width="1.1" fill="none"/>
<path d="M192.30,134.73h1.4M192.30,137.73h1.4M193.82,134.22h1.4M193.82,137.89h1.4M195.34,134.60h1.4M195.34,137.53h1.4M196.87,133.89h1.4M196.87,137.10h1.4M198.39,134.64h1.4M198.39,138.82h1.4M199.91,134.16h1.4M199.91,137.56h1.4M201.43,135.43h1.4M201.43,138.79h1.4M202.95,134.69h1.4M202.95,139.01h1.4M204.48,134.46h1.4M204.48,138.05h1.4M206.00,134.56h1.4M206.00,138.21h1.4M207.52,134.61h1.4M207.52,138.56h1.4M209.04,133.79h1.4M209.04,137.77h1.4M210.57,134.14h1.4M210.57,138.01h1.4M212.09,134.13h1.4M212.09,137.96h1.4M213.61,135.08h1.4M213.61,138.48h1.4M215.13,135.65h1.4M215.13,138.79h1.4M216.65,133.56h1.4M216.65,137.37h1.4M218.18,134.91h1.4M218.18,138.18h1.4M219.70,132.42h1.4M219.70,136.78h1.4M221.22,135.18h1.4M221.22,138.35h1.4M222.74,134.06h1.4M222.74,137.97h1.4M224.26,134.40h1.4M224.26,138.14h1.4M225.79,134.21h1.4M225.79,138.06h1.4M227.31,133.98h1.4M227.31,137.78h1.4M228.83,134.18h1.4M228.83,138.13h1.4M230.35,135.01h1.4M230.35,138.40h1.4M231.88,133.60h1.4M231.88,138.15h1.4M233.40,133.38h1.4M233.40,137.47h1.4M234.92,134.74h1.4M234.92,137.93h1.4M236.44,133.71h1.4M236.44,138.13h1.4M237.96,134.02h1.4M237.96,138.54h1.4M239.49,135.23h1.4M239.49,138.51h1.4M241.01,134.44h1.4M241.01,137.98h1.4M242.53,133.89h1.4M242.53,138.41h1.4M244.05,132.89h1.4M244.05,137.60h1.4M245.57,134.20h1.4M245.57,138.00h1.4M247.10,134.14h1.4M247.10,138.32h1.4M248.62,133.56h1.4M248.62,138.57h1.4M250.14,134.19h1.4M250.14,137.57h1.4M251.66,133.42h1.4M251.66,137.52h1.4M253.18,134.38h1.4M253.18,138.85h1.4M254.71,133.79h1.4M254.71,138.51h1.4M256.23,133.82h1.4M256.23,138.60h1.4M257.75,134.79h1.4M257.75,138.82h1.4M259.27,133.60h1.4M259.27,138.48h1.4M260.80,134.02h1.4M260.80,138.89h1.4M262.32,133.76h1.4M262.32,137.90h1.4M263.84,135.41h1.4M263.84,138.90h1.4M265.36,132.50h1.4M265.36,137.00h1.4M266.88,132.82h1.4M266.88,136.92h1.4M268.41,134.87h1.4M268.41,139.12h1.4M269.93,134.24h1.4M269.93,138.76h1.4M271.45,131.72h1.4M271.45,137.33h1.4M272.97,132.02h1.4M272.97,137.26h1.4M274.49,133.97h1.4M274.49,138.92h1.4M276.02,133.94h1.4M276.02,138.59h1.4M277.54,132.52h1.4M277.54,137.20h1.4M279.06,132.43h1.4M279.06,136.55h1.4M280.58,134.04h1.4M280.58,139.44h1.4M282.11,131.47h1.4M282.11,137.58h1.4M283.63,130.31h1.4M283.63,135.87h1.4M285.15,133.17h1.4M285.15,138.40h1.4M286.67,132.11h1.4M286.67,137.73h1.4M288.19,132.27h1.4M288.19,138.05h1.4M289.72,130.13h1.4M289.72,135.96h1.4M291.24,130.43h1.4M291.24,136.60h1.4M292.76,132.71h1.4M292.76,139.01h1.4M294.28,130.28h1.4M294.28,137.45h1.4M295.80,130.96h1.4M295.80,138.47h1.4M297.33,127.77h1.4M297.33,135.28h1.4M298.85,128.10h1.4M298.85,135.13h1.4M300.37,128.53h1.4M300.37,136.06h1.4M301.89,129.21h1.4M301.89,136.84h1.4M303.42,127.85h1.4M303.42,134.59h1.4M304.94,126.69h1.4M304.94,133.56h1.4M306.46,120.70h1.4M306.46,126.47h1.4M307.98,132.18h1.4M307.98,140.19h1.4M309.50,125.53h1.4M309.50,132.83h1.4M311.03,126.26h1.4M311.03,132.98h1.4M312.55,123.44h1.4M312.55,131.39h1.4M314.07,126.49h1.4M314.07,132.55h1.4M315.59,124.47h1.4M315.59,132.17h1.4M317.11,127.70h1.4M317.11,134.48h1.4M318.64,125.70h1.4M318.64,133.93h1.4M320.16,124.86h1.4M320.16,132.47h1.4M321.68,126.94h1.4M321.68,133.84h1.4M323.20,127.60h1.4M323.20,134.45h1.4M324.72,127.36h1.4M324.72,134.76h1.4M326.25,126.64h1.4M326.25,135.49h1.4M327.77,128.07h1.4M327.77,134.94h1.4M329.29,122.78h1.4M329.29,130.11h1.4M330.81,125.91h1.4M330.81,132.99h1.4M332.34,125.29h1.4M332.34,133.73h1.4M333.86,124.88h1.4M333.86,132.59h1.4M335.38,126.03h1.4M335.38,133.39h1.4M336.90,124.54h1.4M336.90,132.14h1.4M338.42,127.93h1.4M338.42,135.39h1.4M339.95,122.14h1.4M339.95,128.71h1.4M341.47,123.37h1.4M341.47,131.24h1.4M342.99,124.44h1.4M342.99,132.40h1.4M344.51,126.62h1.4M344.51,134.60h1.4M346.03,124.05h1.4M346.03,132.53h1.4M347.56,122.93h1.4M347.56,131.04h1.4M349.08,125.57h1.4M349.08,132.97h1.4M350.60,126.07h1.4M350.60,134.10h1.4M352.12,125.89h1.4M352.12,133.81h1.4M353.65,123.74h1.4M353.65,130.65h1.4M355.17,124.26h1.4M355.17,132.65h1.4M356.69,126.41h1.4M356.69,133.04h1.4M358.21,124.02h1.4M358.21,131.26h1.4M359.73,124.48h1.4M359.73,132.54h1.4M361.26,124.47h1.4M361.26,131.06h1.4M362.78,123.87h1.4M362.78,132.07h1.4M364.30,124.44h1.4M364.30,131.80h1.4" stroke="#222" stroke-width="0.7" fill="none"/>
<path d="M193.00,134.40v3.2M194.52,134.29v3.2M196.04,134.44v3.2M197.57,133.92v3.2M199.09,135.02v3.2M200.61,134.14v3.2M202.13,135.13v3.2M203.65,135.33v3.2M205.18,134.97v3.2M206.70,134.81v3.2M208.22,135.29v3.2M209.74,134.40v3.2M211.27,134.81v3.2M212.79,134.48v3.2M214.31,135.18v3.2M215.83,135.48v3.2M217.35,133.73v3.2M218.88,134.78v3.2M220.40,133.15v3.2M221.92,134.96v3.2M223.44,134.49v3.2M224.96,134.18v3.2M226.49,134.72v3.2M228.01,134.22v3.2M229.53,134.44v3.2M231.05,135.12v3.2M232.58,134.54v3.2M234.10,134.06v3.2M235.62,134.72v3.2M237.14,134.36v3.2M238.66,134.87v3.2M240.19,135.17v3.2M241.71,134.78v3.2M243.23,134.87v3.2M244.75,133.69v3.2M246.27,134.53v3.2M247.80,134.50v3.2M249.32,134.66v3.2M250.84,134.08v3.2M252.36,133.72v3.2M253.88,134.91v3.2M255.41,134.73v3.2M256.93,134.87v3.2M258.45,135.14v3.2M259.97,134.77v3.2M261.50,134.86v3.2M263.02,134.48v3.2M264.54,135.43v3.2M266.06,132.85v3.2M267.58,133.23v3.2M269.11,134.98v3.2M270.63,134.93v3.2M272.15,132.98v3.2M273.67,133.24v3.2M275.19,134.50v3.2M276.72,134.46v3.2M278.24,133.58v3.2M279.76,132.74v3.2M281.28,135.42v3.2M282.81,132.95v3.2M284.33,132.10v3.2M285.85,133.98v3.2M287.37,133.64v3.2M288.89,133.78v3.2M290.42,131.94v3.2M291.94,132.38v3.2M293.46,134.34v3.2M294.98,132.29v3.2M296.50,132.76v3.2M298.03,130.42v3.2M299.55,130.06v3.2M301.07,131.31v3.2M302.59,131.64v3.2M304.12,129.38v3.2M305.64,128.65v3.2M307.16,121.70v3.2M308.68,134.51v3.2M310.20,128.18v3.2M311.73,127.39v3.2M313.25,125.54v3.2M314.77,128.13v3.2M316.29,127.19v3.2M317.81,129.33v3.2M319.34,128.81v3.2M320.86,127.80v3.2M322.38,128.70v3.2M323.90,129.03v3.2M325.42,130.30v3.2M326.95,129.65v3.2M328.47,129.38v3.2M329.99,125.38v3.2M331.51,127.46v3.2M333.04,128.31v3.2M334.56,126.59v3.2M336.08,127.28v3.2M337.60,126.79v3.2M339.12,129.57v3.2M340.65,123.77v3.2M342.17,126.72v3.2M343.69,127.26v3.2M345.21,129.00v3.2M346.73,126.67v3.2M348.26,125.63v3.2M349.78,127.09v3.2M351.30,128.23v3.2M352.82,128.87v3.2M354.35,126.05v3.2M355.87,127.09v3.2M357.39,127.61v3.2M358.91,126.23v3.2M360.43,127.00v3.2M361.96,126.22v3.2M363.48,126.54v3.2M365.00,127.05v3.2" stroke="#151515" stroke-width="1.5" fill="none"/>
<polyline points="193.00,136.00 194.52,135.89 196.04,136.04 197.57,135.52 199.09,136.62 200.61,135.74 202.13,136.73 203.65,136.93 205.18,136.57 206.70,136.41 208.22,136.89 209.74,136.00 211.27,136.41 212.79,136.08 214.31,136.78 215.83,137.08 217.35,135.33 218.88,136.38 220.40,134.75 221.92,136.56 223.44,136.09 224.96,135.78 226.49,136.32 228.01,135.82 229.53,136.04 231.05,136.72 232.58,136.14 234.10,135.66 235.62,136.32 237.14,135.96 238.66,136.47 240.19,136.77 241.71,136.38 243.23,136.47 244.75,135.29 246.27,136.13 247.80,136.10 249.32,136.26 250.84,135.68 252.36,135.32 253.88,136.51 255.41,136.33 256.93,136.47 258.45,136.74 259.97,136.37 261.50,136.46 263.02,136.08 264.54,137.03 266.06,134.45 267.58,134.83 269.11,136.58 270.63,136.53 272.15,134.58 273.67,134.84 275.19,136.10 276.72,136.06 278.24,135.18 279.76,134.34 281.28,137.02 282.81,134.55 284.33,133.70 285.85,135.58 287.37,135.24 288.89,135.38 290.42,133.54 291.94,133.98 293.46,135.94 294.98,133.89 296.50,134.36 298.03,132.02 299.55,131.66 301.07,132.91 302.59,133.24 304.12,130.98 305.64,130.25 307.16,123.30 308.68,136.11 310.20,129.78 311.73,128.99 313.25,127.14 314.77,129.73 316.29,128.79 317.81,130.93 319.34,130.41 320.86,129.40 322.38,130.30 323.90,130.63 325.42,131.90 326.95,131.25 328.47,130.98 329.99,126.98 331.51,129.06 333.04,129.91 334.56,128.19 336.08,128.88 337.60,128.39 339.12,131.17 340.65,125.37 342.17,128.32 343.69,128.86 345.21,130.60 346.73,128.27 348.26,127.23 349.78,128.69 351.30,129.83 352.82,130.47 354.35,127.65 355.87,128.69 357.39,129.21 358.91,127.83 360.43,128.60 361.96,127.82 363.48,128.14 365.00,128.65" fill="none" stroke="#c8141e" stroke-width="0.9"/>
<line x1="190.80" y1="120.70" x2="190.80" y2="150.40" stroke="#444" stroke-width="0.9"/>
<line x1="190.80" y1="150.40" x2="366.20" y2="150.40" stroke="#444" stroke-width="0.9"/>
<text x="0" y="2.27" transform="translate(374.20 173.25) rotate(90.05) scale(1.0 1.05)" font-size="6.3" text-anchor="middle" fill="#222" stroke="#222" stroke-width="0.12">62genes</text>
<text x="0" y="2.16" transform="translate(177.60 173.55) rotate(-89.95) scale(1.0 1.14)" font-size="6.0" text-anchor="middle" fill="#222" stroke="#222" stroke-width="0.12">Cluster 4</text>
<text x="0" y="1.55" transform="translate(187.40 160.30) rotate(-89.95) scale(1.0 1.2)" font-size="4.3" text-anchor="middle" fill="#333" stroke="#333" stroke-width="0.12">2</text>
<text x="0" y="1.55" transform="translate(187.40 165.50) rotate(-89.95) scale(1.0 1.2)" font-size="4.3" text-anchor="middle" fill="#333" stroke="#333" stroke-width="0.12">1</text>
<text x="0" y="1.55" transform="translate(187.40 170.70) rotate(-89.95) scale(1.0 1.2)" font-size="4.3" text-anchor="middle" fill="#333" stroke="#333" stroke-width="0.12">0</text>
<text x="0" y="1.55" transform="translate(187.40 175.90) rotate(-89.95) scale(1.0 1.2)" font-size="4.3" text-anchor="middle" fill="#333" stroke="#333" stroke-width="0.12">-1</text>
<text x="0" y="1.55" transform="translate(187.40 181.10) rotate(-89.95) scale(1.0 1.2)" font-size="4.3" text-anchor="middle" fill="#333" stroke="#333" stroke-width="0.12">-2</text>
<text x="0" y="1.55" transform="translate(187.40 186.30) rotate(-89.95) scale(1.0 1.2)" font-size="4.3" text-anchor="middle" fill="#333" stroke="#333" stroke-width="0.12">-3</text>
<text x="0" y="2.25" transform="translate(201.20 193.60) rotate(0.05) scale(1.0 1.1)" font-size="6.25" text-anchor="start" fill="#222" stroke="#222" stroke-width="0.12">Homogeneity: 0.788</text>
<line x1="191.00" y1="172.20" x2="366.00" y2="172.20" stroke="#9a9a9a" stroke-width="0.9"/>
<path d="M193.00,170.01V173.69M194.52,168.86V173.78M196.04,169.68V173.77M197.57,169.63V174.07M199.09,169.95V175.12M200.61,170.19V174.02M202.13,169.84V174.22M203.65,169.77V173.54M205.18,169.83V173.16M206.70,169.57V174.83M208.22,169.77V173.84M209.74,169.32V173.28M211.27,170.35V174.96M212.79,169.07V173.10M214.31,167.46V171.07M215.83,166.08V171.04M217.35,164.25V168.44M218.88,164.21V168.89M220.40,165.80V169.63M221.92,164.92V169.00M223.44,165.69V169.81M224.96,166.07V170.84M226.49,165.24V169.08M228.01,164.70V168.67M229.53,165.74V169.13M231.05,166.28V170.20M232.58,166.89V170.79M234.10,165.39V169.71M235.62,164.37V169.41M237.14,167.15V170.69M238.66,164.75V169.43M240.19,165.36V170.08M241.71,166.58V170.13M243.23,166.23V170.21M244.75,166.27V170.56M246.27,166.12V170.19M247.80,165.20V169.41M249.32,167.17V170.91M250.84,165.46V170.02M252.36,165.07V168.84M253.88,165.79V169.06M255.41,165.79V170.38M256.93,166.56V170.81M258.45,162.88V167.50M259.97,164.45V169.76M261.50,164.72V168.85M263.02,166.38V170.14M264.54,166.12V170.14M266.06,165.28V169.08M267.58,165.54V169.53M269.11,165.72V169.38M270.63,167.64V171.98M272.15,170.58V176.03M273.67,171.87V176.14M275.19,171.70V176.18M276.72,171.96V177.21M278.24,171.36V175.57M279.76,172.07V177.46M281.28,170.79V175.86M282.81,171.42V176.69M284.33,172.28V178.11M285.85,170.94V176.72M287.37,171.07V175.88M288.89,170.41V176.60M290.42,170.87V174.92M291.94,172.79V177.81M293.46,170.52V179.35M294.98,173.76V186.59M296.50,171.38V183.43M298.03,171.48V184.61M299.55,169.69V184.81M301.07,171.27V185.23M302.59,170.51V185.39M304.12,173.21V185.69M305.64,170.53V183.79M307.16,171.81V182.75M308.68,171.65V181.57M310.20,172.42V185.20M311.73,172.03V183.00M313.25,171.25V182.39M314.77,171.35V184.68M316.29,171.90V184.03M317.81,169.83V183.23M319.34,172.13V185.58M320.86,172.13V185.24M322.38,170.17V180.02M323.90,169.80V182.59M325.42,169.69V182.03M326.95,173.22V184.45M328.47,170.23V183.50M329.99,172.27V184.25M331.51,171.16V182.69M333.04,171.69V184.65M334.56,168.38V181.33M336.08,171.10V181.65M337.60,169.01V181.27M339.12,171.21V183.31M340.65,170.66V182.50M342.17,171.39V181.60M343.69,171.20V183.69M345.21,171.37V183.18M346.73,173.15V184.45M348.26,174.03V185.93M349.78,173.25V185.75M351.30,175.24V187.90M352.82,172.23V181.36M354.35,173.58V184.54M355.87,174.87V184.14M357.39,173.33V186.25M358.91,173.87V186.11M360.43,175.23V187.50M361.96,171.85V182.53M363.48,174.38V184.74M365.00,173.31V186.06" stroke="#5e5e5e" stroke-width="1.4" fill="none"/>
<path d="M192.30,170.01h1.4M192.30,173.69h1.4M193.82,168.86h1.4M193.82,173.78h1.4M195.34,169.68h1.4M195.34,173.77h1.4M196.87,169.63h1.4M196.87,174.07h1.4M198.39,169.95h1.4M198.39,175.12h1.4M199.91,170.19h1.4M199.91,174.02h1.4M201.43,169.84h1.4M201.43,174.22h1.4M202.95,169.77h1.4M202.95,173.54h1.4M204.48,169.83h1.4M204.48,173.16h1.4M206.00,169.57h1.4M206.00,174.83h1.4M207.52,169.77h1.4M207.52,173.84h1.4M209.04,169.32h1.4M209.04,173.28h1.4M210.57,170.35h1.4M210.57,174.96h1.4M212.09,169.07h1.4M212.09,173.10h1.4M213.61,167.46h1.4M213.61,171.07h1.4M215.13,166.08h1.4M215.13,171.04h1.4M216.65,164.25h1.4M216.65,168.44h1.4M218.18,164.21h1.4M218.18,168.89h1.4M219.70,165.80h1.4M219.70,169.63h1.4M221.22,164.92h1.4M221.22,169.00h1.4M222.74,165.69h1.4M222.74,169.81h1.4M224.26,166.07h1.4M224.26,170.84h1.4M225.79,165.24h1.4M225.79,169.08h1.4M227.31,164.70h1.4M227.31,168.67h1.4M228.83,165.74h1.4M228.83,169.13h1.4M230.35,166.28h1.4M230.35,170.20h1.4M231.88,166.89h1.4M231.88,170.79h1.4M233.40,165.39h1.4M233.40,169.71h1.4M234.92,164.37h1.4M234.92,169.41h1.4M236.44,167.15h1.4M236.44,170.69h1.4M237.96,164.75h1.4M237.96,169.43h1.4M239.49,165.36h1.4M239.49,170.08h1.4M241.01,166.58h1.4M241.01,170.13h1.4M242.53,166.23h1.4M242.53,170.21h1.4M244.05,166.27h1.4M244.05,170.56h1.4M245.57,166.12h1.4M245.57,170.19h1.4M247.10,165.20h1.4M247.10,169.41h1.4M248.62,167.17h1.4M248.62,170.91h1.4M250.14,165.46h1.4M250.14,170.02h1.4M251.66,165.07h1.4M251.66,168.84h1.4M253.18,165.79h1.4M253.18,169.06h1.4M254.71,165.79h1.4M254.71,170.38h1.4M256.23,166.56h1.4M256.23,170.81h1.4M257.75,162.88h1.4M257.75,167.50h1.4M259.27,164.45h1.4M259.27,169.76h1.4M260.80,164.72h1.4M260.80,168.85h1.4M262.32,166.38h1.4M262.32,170.14h1.4M263.84,166.12h1.4M263.84,170.14h1.4M265.36,165.28h1.4M265.36,169.08h1.4M266.88,165.54h1.4M266.88,169.53h1.4M268.41,165.72h1.4M268.41,169.38h1.4M269.93,167.64h1.4M269.93,171.98h1.4M271.45,170.58h1.4M271.45,176.03h1.4M272.97,171.87h1.4M272.97,176.14h1.4M274.49,171.70h1.4M274.49,176.18h1.4M276.02,171.96h1.4M276.02,177.21h1.4M277.54,171.36h1.4M277.54,175.57h1.4M279.06,172.07h1.4M279.06,177.46h1.4M280.58,170.79h1.4M280.58,175.86h1.4M282.11,171.42h1.4M282.11,176.69h1.4M283.63,172.28h1.4M283.63,178.11h1.4M285.15,170.94h1.4M285.15,176.72h1.4M286.67,171.07h1.4M286.67,175.88h1.4M288.19,170.41h1.4M288.19,176.60h1.4M289.72,170.87h1.4M289.72,174.92h1.4M291.24,172.79h1.4M291.24,177.81h1.4M292.76,170.52h1.4M292.76,179.35h1.4M294.28,173.76h1.4M294.28,186.59h1.4M295.80,171.38h1.4M295.80,183.43h1.4M297.33,171.48h1.4M297.33,184.61h1.4M298.85,169.69h1.4M298.85,184.81h1.4M300.37,171.27h1.4M300.37,185.23h1.4M301.89,170.51h1.4M301.89,185.39h1.4M303.42,173.21h1.4M303.42,185.69h1.4M304.94,170.53h1.4M304.94,183.79h1.4M306.46,171.81h1.4M306.46,182.75h1.4M307.98,171.65h1.4M307.98,181.57h1.4M309.50,172.42h1.4M309.50,185.20h1.4M311.03,172.03h1.4M311.03,183.00h1.4M312.55,171.25h1.4M312.55,182.39h1.4M314.07,171.35h1.4M314.07,184.68h1.4M315.59,171.90h1.4M315.59,184.03h1.4M317.11,169.83h1.4M317.11,183.23h1.4M318.64,172.13h1.4M318.64,185.58h1.4M320.16,172.13h1.4M320.16,185.24h1.4M321.68,170.17h1.4M321.68,180.02h1.4M323.20,169.80h1.4M323.20,182.59h1.4M324.72,169.69h1.4M324.72,182.03h1.4M326.25,173.22h1.4M326.25,184.45h1.4M327.77,170.23h1.4M327.77,183.50h1.4M329.29,172.27h1.4M329.29,184.25h1.4M330.81,171.16h1.4M330.81,182.69h1.4M332.34,171.69h1.4M332.34,184.65h1.4M333.86,168.38h1.4M333.86,181.33h1.4M335.38,171.10h1.4M335.38,181.65h1.4M336.90,169.01h1.4M336.90,181.27h1.4M338.42,171.21h1.4M338.42,183.31h1.4M339.95,170.66h1.4M339.95,182.50h1.4M341.47,171.39h1.4M341.47,181.60h1.4M342.99,171.20h1.4M342.99,183.69h1.4M344.51,171.37h1.4M344.51,183.18h1.4M346.03,173.15h1.4M346.03,184.45h1.4M347.56,174.03h1.4M347.56,185.93h1.4M349.08,173.25h1.4M349.08,185.75h1.4M350.60,175.24h1.4M350.60,187.90h1.4M352.12,172.23h1.4M352.12,181.36h1.4M353.65,173.58h1.4M353.65,184.54h1.4M355.17,174.87h1.4M355.17,184.14h1.4M356.69,173.33h1.4M356.69,186.25h1.4M358.21,173.87h1.4M358.21,186.11h1.4M359.73,175.23h1.4M359.73,187.50h1.4M361.26,171.85h1.4M361.26,182.53h1.4M362.78,174.38h1.4M362.78,184.74h1.4M364.30,173.31h1.4M364.30,186.06h1.4" stroke="#222" stroke-width="0.7" fill="none"/>
<path d="M193.00,170.28v3.2M194.52,169.71v3.2M196.04,170.16v3.2M197.57,169.86v3.2M199.09,170.90v3.2M200.61,170.32v3.2M202.13,170.09v3.2M203.65,169.90v3.2M205.18,169.87v3.2M206.70,170.83v3.2M208.22,170.05v3.2M209.74,169.58v3.2M211.27,170.73v3.2M212.79,169.81v3.2M214.31,167.48v3.2M215.83,166.94v3.2M217.35,164.80v3.2M218.88,165.26v3.2M220.40,166.20v3.2M221.92,165.59v3.2M223.44,166.25v3.2M224.96,166.60v3.2M226.49,165.45v3.2M228.01,164.73v3.2M229.53,165.70v3.2M231.05,166.57v3.2M232.58,167.18v3.2M234.10,165.54v3.2M235.62,165.26v3.2M237.14,167.12v3.2M238.66,165.86v3.2M240.19,166.32v3.2M241.71,166.84v3.2M243.23,166.37v3.2M244.75,166.77v3.2M246.27,166.24v3.2M247.80,166.02v3.2M249.32,167.38v3.2M250.84,165.91v3.2M252.36,165.30v3.2M253.88,165.78v3.2M255.41,166.57v3.2M256.93,166.90v3.2M258.45,164.03v3.2M259.97,165.65v3.2M261.50,164.97v3.2M263.02,166.83v3.2M264.54,166.57v3.2M266.06,165.43v3.2M267.58,166.11v3.2M269.11,165.79v3.2M270.63,168.37v3.2M272.15,171.66v3.2M273.67,172.13v3.2M275.19,172.56v3.2M276.72,172.98v3.2M278.24,172.00v3.2M279.76,172.87v3.2M281.28,172.10v3.2M282.81,172.42v3.2M284.33,173.46v3.2M285.85,172.43v3.2M287.37,172.00v3.2M288.89,172.02v3.2M290.42,171.21v3.2M291.94,173.89v3.2M293.46,171.05v3.2M294.98,174.42v3.2M296.50,172.56v3.2M298.03,172.58v3.2M299.55,171.35v3.2M301.07,172.14v3.2M302.59,171.95v3.2M304.12,173.79v3.2M305.64,171.32v3.2M307.16,172.52v3.2M308.68,172.19v3.2M310.20,172.93v3.2M311.73,173.17v3.2M313.25,173.04v3.2M314.77,172.36v3.2M316.29,173.45v3.2M317.81,171.58v3.2M319.34,173.68v3.2M320.86,173.13v3.2M322.38,170.86v3.2M323.90,170.40v3.2M325.42,171.15v3.2M326.95,174.82v3.2M328.47,171.11v3.2M329.99,172.71v3.2M331.51,172.20v3.2M333.04,172.77v3.2M334.56,170.48v3.2M336.08,171.77v3.2M337.60,171.04v3.2M339.12,171.67v3.2M340.65,172.17v3.2M342.17,172.27v3.2M343.69,173.19v3.2M345.21,173.55v3.2M346.73,174.44v3.2M348.26,175.44v3.2M349.78,174.19v3.2M351.30,177.17v3.2M352.82,172.74v3.2M354.35,175.38v3.2M355.87,175.36v3.2M357.39,175.24v3.2M358.91,175.06v3.2M360.43,175.89v3.2M361.96,173.60v3.2M363.48,175.28v3.2M365.00,174.98v3.2" stroke="#151515" stroke-width="1.5" fill="none"/>
<polyline points="193.00,171.88 194.52,171.31 196.04,171.76 197.57,171.46 199.09,172.50 200.61,171.92 202.13,171.69 203.65,171.50 205.18,171.47 206.70,172.43 208.22,171.65 209.74,171.18 211.27,172.33 212.79,171.41 214.31,169.08 215.83,168.54 217.35,166.40 218.88,166.86 220.40,167.80 221.92,167.19 223.44,167.85 224.96,168.20 226.49,167.05 228.01,166.33 229.53,167.30 231.05,168.17 232.58,168.78 234.10,167.14 235.62,166.86 237.14,168.72 238.66,167.46 240.19,167.92 241.71,168.44 243.23,167.97 244.75,168.37 246.27,167.84 247.80,167.62 249.32,168.98 250.84,167.51 252.36,166.90 253.88,167.38 255.41,168.17 256.93,168.50 258.45,165.63 259.97,167.25 261.50,166.57 263.02,168.43 264.54,168.17 266.06,167.03 267.58,167.71 269.11,167.39 270.63,169.97 272.15,173.26 273.67,173.73 275.19,174.16 276.72,174.58 278.24,173.60 279.76,174.47 281.28,173.70 282.81,174.02 284.33,175.06 285.85,174.03 287.37,173.60 288.89,173.62 290.42,172.81 291.94,175.49 293.46,172.65 294.98,176.02 296.50,174.16 298.03,174.18 299.55,172.95 301.07,173.74 302.59,173.55 304.12,175.39 305.64,172.92 307.16,174.12 308.68,173.79 310.20,174.53 311.73,174.77 313.25,174.64 314.77,173.96 316.29,175.05 317.81,173.18 319.34,175.28 320.86,174.73 322.38,172.46 323.90,172.00 325.42,172.75 326.95,176.42 328.47,172.71 329.99,174.31 331.51,173.80 333.04,174.37 334.56,172.08 336.08,173.37 337.60,172.64 339.12,173.27 340.65,173.77 342.17,173.87 343.69,174.79 345.21,175.15 346.73,176.04 348.26,177.04 349.78,175.79 351.30,178.77 352.82,174.34 354.35,176.98 355.87,176.96 357.39,176.84 358.91,176.66 360.43,177.49 361.96,175.20 363.48,176.88 365.00,176.58" fill="none" stroke="#c8141e" stroke-width="0.9"/>
<line x1="190.80" y1="158.70" x2="190.80" y2="188.40" stroke="#444" stroke-width="0.9"/>
<line x1="190.80" y1="188.40" x2="366.20" y2="188.40" stroke="#444" stroke-width="0.9"/>
<text x="0" y="2.27" transform="translate(374.20 211.25) rotate(90.05) scale(1.0 1.05)" font-size="6.3" text-anchor="middle" fill="#222" stroke="#222" stroke-width="0.12">55genes</text>
<text x="0" y="2.16" transform="translate(177.60 211.55) rotate(-89.95) scale(1.0 1.14)" font-size="6.0" text-anchor="middle" fill="#222" stroke="#222" stroke-width="0.12">Cluster 5</text>
<text x="0" y="1.55" transform="translate(187.40 198.30) rotate(-89.95) scale(1.0 1.2)" font-size="4.3" text-anchor="middle" fill="#333" stroke="#333" stroke-width="0.12">2</text>
<text x="0" y="1.55" transform="translate(187.40 203.50) rotate(-89.95) scale(1.0 1.2)" font-size="4.3" text-anchor="middle" fill="#333" stroke="#333" stroke-width="0.12">1</text>
<text x="0" y="1.55" transform="translate(187.40 208.70) rotate(-89.95) scale(1.0 1.2)" font-size="4.3" text-anchor="middle" fill="#333" stroke="#333" stroke-width="0.12">0</text>
<text x="0" y="1.55" transform="translate(187.40 213.90) rotate(-89.95) scale(1.0 1.2)" font-size="4.3" text-anchor="middle" fill="#333" stroke="#333" stroke-width="0.12">-1</text>
<text x="0" y="1.55" transform="translate(187.40 219.10) rotate(-89.95) scale(1.0 1.2)" font-size="4.3" text-anchor="middle" fill="#333" stroke="#333" stroke-width="0.12">-2</text>
<text x="0" y="1.55" transform="translate(187.40 224.30) rotate(-89.95) scale(1.0 1.2)" font-size="4.3" text-anchor="middle" fill="#333" stroke="#333" stroke-width="0.12">-3</text>
<text x="0" y="2.25" transform="translate(201.20 231.60) rotate(0.05) scale(1.0 1.1)" font-size="6.25" text-anchor="start" fill="#222" stroke="#222" stroke-width="0.12">Homogeneity: 0.558</text>
<line x1="191.00" y1="208.20" x2="366.00" y2="208.20" stroke="#9a9a9a" stroke-width="0.9"/>
<path d="M193.00,204.41V209.77M194.52,205.03V211.44M196.04,205.07V211.04M197.57,204.87V211.29M199.09,205.40V210.13M200.61,204.71V210.27M202.13,206.03V211.54M203.65,204.89V211.49M205.18,205.69V211.64M206.70,207.22V213.10M208.22,203.51V208.80M209.74,205.42V211.28M211.27,203.91V210.40M212.79,206.69V211.86M214.31,205.12V211.13M215.83,204.61V210.41M217.35,202.97V209.71M218.88,203.73V209.76M220.40,205.75V211.96M221.92,205.65V211.76M223.44,204.27V210.47M224.96,205.27V210.59M226.49,204.10V210.32M228.01,203.47V209.70M229.53,201.87V207.98M231.05,204.99V212.00M232.58,204.18V210.10M234.10,205.90V211.45M235.62,204.77V211.93M237.14,203.32V209.80M238.66,204.55V211.42M240.19,205.34V211.23M241.71,203.22V209.40M243.23,205.60V211.32M244.75,205.36V211.79M246.27,205.85V211.72M247.80,205.72V212.28M249.32,203.19V209.18M250.84,205.47V210.35M252.36,204.54V211.57M253.88,205.51V211.70M255.41,205.06V211.74M256.93,207.76V213.33M258.45,205.36V212.27M259.97,205.45V210.60M261.50,206.42V211.81M263.02,204.23V210.60M264.54,204.96V209.80M266.06,205.22V209.96M267.58,203.17V210.04M269.11,203.64V210.72M270.63,204.93V211.10M272.15,205.20V210.66M273.67,205.89V212.11M275.19,204.06V210.59M276.72,205.71V211.64M278.24,205.40V211.44M279.76,206.46V212.48M281.28,203.68V210.23M282.81,203.57V210.07M284.33,204.73V210.22M285.85,205.11V211.54M287.37,204.22V210.11M288.89,206.41V211.68M290.42,205.59V211.16M291.94,203.90V210.87M293.46,207.43V219.90M294.98,208.82V221.13M296.50,207.36V220.61M298.03,208.94V221.11M299.55,208.07V220.82M301.07,207.74V223.98M302.59,210.98V225.90M304.12,207.38V219.85M305.64,208.29V223.93M307.16,209.16V220.88M308.68,208.09V221.95M310.20,209.21V222.15M311.73,209.95V222.84M313.25,206.64V223.22M314.77,208.80V222.76M316.29,208.05V221.32M317.81,208.88V219.90M319.34,209.05V223.78M320.86,209.23V222.21M322.38,209.75V225.14M323.90,209.32V224.02M325.42,209.63V225.36M326.95,210.28V224.96M328.47,208.09V220.50M329.99,208.83V224.51M331.51,208.03V220.13M333.04,209.06V224.16M334.56,208.92V223.38M336.08,210.47V225.90M337.60,207.53V222.08M339.12,208.69V221.68M340.65,209.72V221.12M342.17,208.79V222.11M343.69,209.12V221.49M345.21,207.81V221.92M346.73,209.90V225.77M348.26,210.25V224.22M349.78,209.12V223.02M351.30,207.95V222.96M352.82,208.98V220.74M354.35,207.83V221.72M355.87,210.12V222.12M357.39,210.89V225.87M358.91,208.26V220.04M360.43,208.63V224.57M361.96,209.25V224.26M363.48,208.30V222.04M365.00,206.51V223.17" stroke="#5e5e5e" stroke-width="1.4" fill="none"/>
<path d="M192.30,204.41h1.4M192.30,209.77h1.4M193.82,205.03h1.4M193.82,211.44h1.4M195.34,205.07h1.4M195.34,211.04h1.4M196.87,204.87h1.4M196.87,211.29h1.4M198.39,205.40h1.4M198.39,210.13h1.4M199.91,204.71h1.4M199.91,210.27h1.4M201.43,206.03h1.4M201.43,211.54h1.4M202.95,204.89h1.4M202.95,211.49h1.4M204.48,205.69h1.4M204.48,211.64h1.4M206.00,207.22h1.4M206.00,213.10h1.4M207.52,203.51h1.4M207.52,208.80h1.4M209.04,205.42h1.4M209.04,211.28h1.4M210.57,203.91h1.4M210.57,210.40h1.4M212.09,206.69h1.4M212.09,211.86h1.4M213.61,205.12h1.4M213.61,211.13h1.4M215.13,204.61h1.4M215.13,210.41h1.4M216.65,202.97h1.4M216.65,209.71h1.4M218.18,203.73h1.4M218.18,209.76h1.4M219.70,205.75h1.4M219.70,211.96h1.4M221.22,205.65h1.4M221.22,211.76h1.4M222.74,204.27h1.4M222.74,210.47h1.4M224.26,205.27h1.4M224.26,210.59h1.4M225.79,204.10h1.4M225.79,210.32h1.4M227.31,203.47h1.4M227.31,209.70h1.4M228.83,201.87h1.4M228.83,207.98h1.4M230.35,204.99h1.4M230.35,212.00h1.4M231.88,204.18h1.4M231.88,210.10h1.4M233.40,205.90h1.4M233.40,211.45h1.4M234.92,204.77h1.4M234.92,211.93h1.4M236.44,203.32h1.4M236.44,209.80h1.4M237.96,204.55h1.4M237.96,211.42h1.4M239.49,205.34h1.4M239.49,211.23h1.4M241.01,203.22h1.4M241.01,209.40h1.4M242.53,205.60h1.4M242.53,211.32h1.4M244.05,205.36h1.4M244.05,211.79h1.4M245.57,205.85h1.4M245.57,211.72h1.4M247.10,205.72h1.4M247.10,212.28h1.4M248.62,203.19h1.4M248.62,209.18h1.4M250.14,205.47h1.4M250.14,210.35h1.4M251.66,204.54h1.4M251.66,211.57h1.4M253.18,205.51h1.4M253.18,211.70h1.4M254.71,205.06h1.4M254.71,211.74h1.4M256.23,207.76h1.4M256.23,213.33h1.4M257.75,205.36h1.4M257.75,212.27h1.4M259.27,205.45h1.4M259.27,210.60h1.4M260.80,206.42h1.4M260.80,211.81h1.4M262.32,204.23h1.4M262.32,210.60h1.4M263.84,204.96h1.4M263.84,209.80h1.4M265.36,205.22h1.4M265.36,209.96h1.4M266.88,203.17h1.4M266.88,210.04h1.4M268.41,203.64h1.4M268.41,210.72h1.4M269.93,204.93h1.4M269.93,211.10h1.4M271.45,205.20h1.4M271.45,210.66h1.4M272.97,205.89h1.4M272.97,212.11h1.4M274.49,204.06h1.4M274.49,210.59h1.4M276.02,205.71h1.4M276.02,211.64h1.4M277.54,205.40h1.4M277.54,211.44h1.4M279.06,206.46h1.4M279.06,212.48h1.4M280.58,203.68h1.4M280.58,210.23h1.4M282.11,203.57h1.4M282.11,210.07h1.4M283.63,204.73h1.4M283.63,210.22h1.4M285.15,205.11h1.4M285.15,211.54h1.4M286.67,204.22h1.4M286.67,210.11h1.4M288.19,206.41h1.4M288.19,211.68h1.4M289.72,205.59h1.4M289.72,211.16h1.4M291.24,203.90h1.4M291.24,210.87h1.4M292.76,207.43h1.4M292.76,219.90h1.4M294.28,208.82h1.4M294.28,221.13h1.4M295.80,207.36h1.4M295.80,220.61h1.4M297.33,208.94h1.4M297.33,221.11h1.4M298.85,208.07h1.4M298.85,220.82h1.4M300.37,207.74h1.4M300.37,223.98h1.4M301.89,210.98h1.4M301.89,225.90h1.4M303.42,207.38h1.4M303.42,219.85h1.4M304.94,208.29h1.4M304.94,223.93h1.4M306.46,209.16h1.4M306.46,220.88h1.4M307.98,208.09h1.4M307.98,221.95h1.4M309.50,209.21h1.4M309.50,222.15h1.4M311.03,209.95h1.4M311.03,222.84h1.4M312.55,206.64h1.4M312.55,223.22h1.4M314.07,208.80h1.4M314.07,222.76h1.4M315.59,208.05h1.4M315.59,221.32h1.4M317.11,208.88h1.4M317.11,219.90h1.4M318.64,209.05h1.4M318.64,223.78h1.4M320.16,209.23h1.4M320.16,222.21h1.4M321.68,209.75h1.4M321.68,225.14h1.4M323.20,209.32h1.4M323.20,224.02h1.4M324.72,209.63h1.4M324.72,225.36h1.4M326.25,210.28h1.4M326.25,224.96h1.4M327.77,208.09h1.4M327.77,220.50h1.4M329.29,208.83h1.4M329.29,224.51h1.4M330.81,208.03h1.4M330.81,220.13h1.4M332.34,209.06h1.4M332.34,224.16h1.4M333.86,208.92h1.4M333.86,223.38h1.4M335.38,210.47h1.4M335.38,225.90h1.4M336.90,207.53h1.4M336.90,222.08h1.4M338.42,208.69h1.4M338.42,221.68h1.4M339.95,209.72h1.4M339.95,221.12h1.4M341.47,208.79h1.4M341.47,222.11h1.4M342.99,209.12h1.4M342.99,221.49h1.4M344.51,207.81h1.4M344.51,221.92h1.4M346.03,209.90h1.4M346.03,225.77h1.4M347.56,210.25h1.4M347.56,224.22h1.4M349.08,209.12h1.4M349.08,223.02h1.4M350.60,207.95h1.4M350.60,222.96h1.4M352.12,208.98h1.4M352.12,220.74h1.4M353.65,207.83h1.4M353.65,221.72h1.4M355.17,210.12h1.4M355.17,222.12h1.4M356.69,210.89h1.4M356.69,225.87h1.4M358.21,208.26h1.4M358.21,220.04h1.4M359.73,208.63h1.4M359.73,224.57h1.4M361.26,209.25h1.4M361.26,224.26h1.4M362.78,208.30h1.4M362.78,222.04h1.4M364.30,206.51h1.4M364.30,223.17h1.4" stroke="#222" stroke-width="0.7" fill="none"/>
<path d="M193.00,205.55v3.2M194.52,207.16v3.2M196.04,206.90v3.2M197.57,206.71v3.2M199.09,206.09v3.2M200.61,205.84v3.2M202.13,207.26v3.2M203.65,206.36v3.2M205.18,206.77v3.2M206.70,207.91v3.2M208.22,204.40v3.2M209.74,207.19v3.2M211.27,206.12v3.2M212.79,207.52v3.2M214.31,206.77v3.2M215.83,206.27v3.2M217.35,205.01v3.2M218.88,205.14v3.2M220.40,207.49v3.2M221.92,207.34v3.2M223.44,205.85v3.2M224.96,206.70v3.2M226.49,205.66v3.2M228.01,205.64v3.2M229.53,203.70v3.2M231.05,206.82v3.2M232.58,204.91v3.2M234.10,207.28v3.2M235.62,206.96v3.2M237.14,205.26v3.2M238.66,206.61v3.2M240.19,206.29v3.2M241.71,205.28v3.2M243.23,206.60v3.2M244.75,207.28v3.2M246.27,206.79v3.2M247.80,207.21v3.2M249.32,205.13v3.2M250.84,206.03v3.2M252.36,206.60v3.2M253.88,206.71v3.2M255.41,206.67v3.2M256.93,208.64v3.2M258.45,207.44v3.2M259.97,206.73v3.2M261.50,207.53v3.2M263.02,205.81v3.2M264.54,205.78v3.2M266.06,205.96v3.2M267.58,205.37v3.2M269.11,205.93v3.2M270.63,206.76v3.2M272.15,205.96v3.2M273.67,207.15v3.2M275.19,205.47v3.2M276.72,206.84v3.2M278.24,206.41v3.2M279.76,207.48v3.2M281.28,205.86v3.2M282.81,205.41v3.2M284.33,205.99v3.2M285.85,206.41v3.2M287.37,205.93v3.2M288.89,207.65v3.2M290.42,206.85v3.2M291.94,205.87v3.2M293.46,208.11v3.2M294.98,209.48v3.2M296.50,209.06v3.2M298.03,211.15v3.2M299.55,209.40v3.2M301.07,209.33v3.2M302.59,212.97v3.2M304.12,209.67v3.2M305.64,209.18v3.2M307.16,210.32v3.2M308.68,208.89v3.2M310.20,211.05v3.2M311.73,210.67v3.2M313.25,208.69v3.2M314.77,210.27v3.2M316.29,209.97v3.2M317.81,209.61v3.2M319.34,210.08v3.2M320.86,210.12v3.2M322.38,211.08v3.2M323.90,211.57v3.2M325.42,211.23v3.2M326.95,211.06v3.2M328.47,209.88v3.2M329.99,209.87v3.2M331.51,210.06v3.2M333.04,209.76v3.2M334.56,210.30v3.2M336.08,211.87v3.2M337.60,208.57v3.2M339.12,210.05v3.2M340.65,211.03v3.2M342.17,210.28v3.2M343.69,209.80v3.2M345.21,209.66v3.2M346.73,211.13v3.2M348.26,211.41v3.2M349.78,210.16v3.2M351.30,209.38v3.2M352.82,209.64v3.2M354.35,209.88v3.2M355.87,211.85v3.2M357.39,211.96v3.2M358.91,209.91v3.2M360.43,210.13v3.2M361.96,209.79v3.2M363.48,210.12v3.2M365.00,208.78v3.2" stroke="#151515" stroke-width="1.5" fill="none"/>
<polyline points="193.00,207.15 194.52,208.76 196.04,208.50 197.57,208.31 199.09,207.69 200.61,207.44 202.13,208.86 203.65,207.96 205.18,208.37 206.70,209.51 208.22,206.00 209.74,208.79 211.27,207.72 212.79,209.12 214.31,208.37 215.83,207.87 217.35,206.61 218.88,206.74 220.40,209.09 221.92,208.94 223.44,207.45 224.96,208.30 226.49,207.26 228.01,207.24 229.53,205.30 231.05,208.42 232.58,206.51 234.10,208.88 235.62,208.56 237.14,206.86 238.66,208.21 240.19,207.89 241.71,206.88 243.23,208.20 244.75,208.88 246.27,208.39 247.80,208.81 249.32,206.73 250.84,207.63 252.36,208.20 253.88,208.31 255.41,208.27 256.93,210.24 258.45,209.04 259.97,208.33 261.50,209.13 263.02,207.41 264.54,207.38 266.06,207.56 267.58,206.97 269.11,207.53 270.63,208.36 272.15,207.56 273.67,208.75 275.19,207.07 276.72,208.44 278.24,208.01 279.76,209.08 281.28,207.46 282.81,207.01 284.33,207.59 285.85,208.01 287.37,207.53 288.89,209.25 290.42,208.45 291.94,207.47 293.46,209.71 294.98,211.08 296.50,210.66 298.03,212.75 299.55,211.00 301.07,210.93 302.59,214.57 304.12,211.27 305.64,210.78 307.16,211.92 308.68,210.49 310.20,212.65 311.73,212.27 313.25,210.29 314.77,211.87 316.29,211.57 317.81,211.21 319.34,211.68 320.86,211.72 322.38,212.68 323.90,213.17 325.42,212.83 326.95,212.66 328.47,211.48 329.99,211.47 331.51,211.66 333.04,211.36 334.56,211.90 336.08,213.47 337.60,210.17 339.12,211.65 340.65,212.63 342.17,211.88 343.69,211.40 345.21,211.26 346.73,212.73 348.26,213.01 349.78,211.76 351.30,210.98 352.82,211.24 354.35,211.48 355.87,213.45 357.39,213.56 358.91,211.51 360.43,211.73 361.96,211.39 363.48,211.72 365.00,210.38" fill="none" stroke="#c8141e" stroke-width="0.9"/>
<line x1="190.80" y1="196.70" x2="190.80" y2="226.40" stroke="#444" stroke-width="0.9"/>
<line x1="190.80" y1="226.40" x2="366.20" y2="226.40" stroke="#444" stroke-width="0.9"/>
<text x="0" y="0" transform="translate(391.30 18.90) rotate(0.05)" font-size="18.0" font-weight="bold" fill="#000" stroke="#000" stroke-width="0.15">c</text>
<rect x="406.70" y="33.90" width="29.58" height="194.50" fill="#fff" stroke="none" stroke-width="1"/>
<rect x="406.90" y="34.10" width="4.53" height="2.90" fill="rgb(11,11,255)" stroke="none" stroke-width="1"/>
<rect x="411.83" y="34.10" width="4.53" height="2.90" fill="rgb(7,7,255)" stroke="none" stroke-width="1"/>
<rect x="416.76" y="34.10" width="4.53" height="2.90" fill="rgb(6,6,255)" stroke="none" stroke-width="1"/>
<rect x="421.69" y="34.10" width="4.53" height="2.90" fill="rgb(1,1,255)" stroke="none" stroke-width="1"/>
<rect x="426.62" y="34.10" width="4.53" height="2.90" fill="rgb(168,168,255)" stroke="none" stroke-width="1"/>
<rect x="431.55" y="34.10" width="4.53" height="2.90" fill="rgb(255,17,17)" stroke="none" stroke-width="1"/>
<rect x="406.90" y="37.40" width="4.53" height="2.90" fill="rgb(16,16,255)" stroke="none" stroke-width="1"/>
<rect x="411.83" y="37.40" width="4.53" height="2.90" fill="rgb(101,101,255)" stroke="none" stroke-width="1"/>
<rect x="416.76" y="37.40" width="4.53" height="2.90" fill="rgb(10,10,255)" stroke="none" stroke-width="1"/>
<rect x="421.69" y="37.40" width="4.53" height="2.90" fill="rgb(3,3,255)" stroke="none" stroke-width="1"/>
<rect x="426.62" y="37.40" width="4.53" height="2.90" fill="rgb(189,189,255)" stroke="none" stroke-width="1"/>
<rect x="431.55" y="37.40" width="4.53" height="2.90" fill="rgb(255,16,16)" stroke="none" stroke-width="1"/>
<rect x="406.90" y="40.69" width="4.53" height="2.90" fill="rgb(22,22,255)" stroke="none" stroke-width="1"/>
<rect x="411.83" y="40.69" width="4.53" height="2.90" fill="rgb(8,8,255)" stroke="none" stroke-width="1"/>
<rect x="416.76" y="40.69" width="4.53" height="2.90" fill="rgb(18,18,255)" stroke="none" stroke-width="1"/>
<rect x="421.69" y="40.69" width="4.53" height="2.90" fill="rgb(25,25,255)" stroke="none" stroke-width="1"/>
<rect x="426.62" y="40.69" width="4.53" height="2.90" fill="rgb(189,189,255)" stroke="none" stroke-width="1"/>
<rect x="431.55" y="40.69" width="4.53" height="2.90" fill="rgb(255,4,4)" stroke="none" stroke-width="1"/>
<rect x="406.90" y="43.99" width="4.53" height="2.90" fill="rgb(28,28,255)" stroke="none" stroke-width="1"/>
<rect x="411.83" y="43.99" width="4.53" height="2.90" fill="rgb(11,11,255)" stroke="none" stroke-width="1"/>
<rect x="416.76" y="43.99" width="4.53" height="2.90" fill="rgb(16,16,255)" stroke="none" stroke-width="1"/>
<rect x="421.69" y="43.99" width="4.53" height="2.90" fill="rgb(26,26,255)" stroke="none" stroke-width="1"/>
<rect x="426.62" y="43.99" width="4.53" height="2.90" fill="rgb(203,203,255)" stroke="none" stroke-width="1"/>
<rect x="431.55" y="43.99" width="4.53" height="2.90" fill="rgb(255,4,4)" stroke="none" stroke-width="1"/>
<rect x="406.90" y="47.29" width="4.53" height="2.90" fill="rgb(1,1,255)" stroke="none" stroke-width="1"/>
<rect x="411.83" y="47.29" width="4.53" height="2.90" fill="rgb(25,25,255)" stroke="none" stroke-width="1"/>
<rect x="416.76" y="47.29" width="4.53" height="2.90" fill="rgb(25,25,255)" stroke="none" stroke-width="1"/>
<rect x="421.69" y="47.29" width="4.53" height="2.90" fill="rgb(21,21,255)" stroke="none" stroke-width="1"/>
<rect x="426.62" y="47.29" width="4.53" height="2.90" fill="rgb(170,170,255)" stroke="none" stroke-width="1"/>
<rect x="431.55" y="47.29" width="4.53" height="2.90" fill="rgb(255,6,6)" stroke="none" stroke-width="1"/>
<rect x="406.90" y="50.58" width="4.53" height="2.90" fill="rgb(25,25,255)" stroke="none" stroke-width="1"/>
<rect x="411.83" y="50.58" width="4.53" height="2.90" fill="rgb(0,0,255)" stroke="none" stroke-width="1"/>
<rect x="416.76" y="50.58" width="4.53" height="2.90" fill="rgb(24,24,255)" stroke="none" stroke-width="1"/>
<rect x="421.69" y="50.58" width="4.53" height="2.90" fill="rgb(1,1,255)" stroke="none" stroke-width="1"/>
<rect x="426.62" y="50.58" width="4.53" height="2.90" fill="rgb(203,203,255)" stroke="none" stroke-width="1"/>
<rect x="431.55" y="50.58" width="4.53" height="2.90" fill="rgb(255,10,10)" stroke="none" stroke-width="1"/>
<rect x="406.90" y="53.88" width="4.53" height="2.90" fill="rgb(1,1,255)" stroke="none" stroke-width="1"/>
<rect x="411.83" y="53.88" width="4.53" height="2.90" fill="rgb(22,22,255)" stroke="none" stroke-width="1"/>
<rect x="416.76" y="53.88" width="4.53" height="2.90" fill="rgb(20,20,255)" stroke="none" stroke-width="1"/>
<rect x="421.69" y="53.88" width="4.53" height="2.90" fill="rgb(5,5,255)" stroke="none" stroke-width="1"/>
<rect x="426.62" y="53.88" width="4.53" height="2.90" fill="rgb(181,181,255)" stroke="none" stroke-width="1"/>
<rect x="431.55" y="53.88" width="4.53" height="2.90" fill="rgb(255,5,5)" stroke="none" stroke-width="1"/>
<rect x="406.90" y="57.18" width="4.53" height="2.90" fill="rgb(28,28,255)" stroke="none" stroke-width="1"/>
<rect x="411.83" y="57.18" width="4.53" height="2.90" fill="rgb(19,19,255)" stroke="none" stroke-width="1"/>
<rect x="416.76" y="57.18" width="4.53" height="2.90" fill="rgb(21,21,255)" stroke="none" stroke-width="1"/>
<rect x="421.69" y="57.18" width="4.53" height="2.90" fill="rgb(9,9,255)" stroke="none" stroke-width="1"/>
<rect x="426.62" y="57.18" width="4.53" height="2.90" fill="rgb(185,185,255)" stroke="none" stroke-width="1"/>
<rect x="431.55" y="57.18" width="4.53" height="2.90" fill="rgb(255,14,14)" stroke="none" stroke-width="1"/>
<rect x="406.90" y="60.47" width="4.53" height="2.90" fill="rgb(22,22,255)" stroke="none" stroke-width="1"/>
<rect x="411.83" y="60.47" width="4.53" height="2.90" fill="rgb(1,1,255)" stroke="none" stroke-width="1"/>
<rect x="416.76" y="60.47" width="4.53" height="2.90" fill="rgb(1,1,255)" stroke="none" stroke-width="1"/>
<rect x="421.69" y="60.47" width="4.53" height="2.90" fill="rgb(19,19,255)" stroke="none" stroke-width="1"/>
<rect x="426.62" y="60.47" width="4.53" height="2.90" fill="rgb(182,182,255)" stroke="none" stroke-width="1"/>
<rect x="431.55" y="60.47" width="4.53" height="2.90" fill="rgb(255,10,10)" stroke="none" stroke-width="1"/>
<rect x="406.90" y="63.77" width="4.53" height="2.90" fill="rgb(19,19,255)" stroke="none" stroke-width="1"/>
<rect x="411.83" y="63.77" width="4.53" height="2.90" fill="rgb(4,4,255)" stroke="none" stroke-width="1"/>
<rect x="416.76" y="63.77" width="4.53" height="2.90" fill="rgb(16,16,255)" stroke="none" stroke-width="1"/>
<rect x="421.69" y="63.77" width="4.53" height="2.90" fill="rgb(8,8,255)" stroke="none" stroke-width="1"/>
<rect x="426.62" y="63.77" width="4.53" height="2.90" fill="rgb(167,167,255)" stroke="none" stroke-width="1"/>
<rect x="431.55" y="63.77" width="4.53" height="2.90" fill="rgb(255,15,15)" stroke="none" stroke-width="1"/>
<rect x="406.90" y="67.07" width="4.53" height="2.90" fill="rgb(23,23,255)" stroke="none" stroke-width="1"/>
<rect x="411.83" y="67.07" width="4.53" height="2.90" fill="rgb(5,5,255)" stroke="none" stroke-width="1"/>
<rect x="416.76" y="67.07" width="4.53" height="2.90" fill="rgb(16,16,255)" stroke="none" stroke-width="1"/>
<rect x="421.69" y="67.07" width="4.53" height="2.90" fill="rgb(14,14,255)" stroke="none" stroke-width="1"/>
<rect x="426.62" y="67.07" width="4.53" height="2.90" fill="rgb(194,194,255)" stroke="none" stroke-width="1"/>
<rect x="431.55" y="67.07" width="4.53" height="2.90" fill="rgb(255,9,9)" stroke="none" stroke-width="1"/>
<rect x="406.90" y="70.36" width="4.53" height="2.90" fill="rgb(12,12,255)" stroke="none" stroke-width="1"/>
<rect x="411.83" y="70.36" width="4.53" height="2.90" fill="rgb(6,6,255)" stroke="none" stroke-width="1"/>
<rect x="416.76" y="70.36" width="4.53" height="2.90" fill="rgb(19,19,255)" stroke="none" stroke-width="1"/>
<rect x="421.69" y="70.36" width="4.53" height="2.90" fill="rgb(21,21,255)" stroke="none" stroke-width="1"/>
<rect x="426.62" y="70.36" width="4.53" height="2.90" fill="rgb(166,166,255)" stroke="none" stroke-width="1"/>
<rect x="431.55" y="70.36" width="4.53" height="2.90" fill="rgb(255,14,14)" stroke="none" stroke-width="1"/>
<rect x="406.90" y="73.66" width="4.53" height="2.90" fill="rgb(14,14,255)" stroke="none" stroke-width="1"/>
<rect x="411.83" y="73.66" width="4.53" height="2.90" fill="rgb(19,19,255)" stroke="none" stroke-width="1"/>
<rect x="416.76" y="73.66" width="4.53" height="2.90" fill="rgb(26,26,255)" stroke="none" stroke-width="1"/>
<rect x="421.69" y="73.66" width="4.53" height="2.90" fill="rgb(22,22,255)" stroke="none" stroke-width="1"/>
<rect x="426.62" y="73.66" width="4.53" height="2.90" fill="rgb(200,200,255)" stroke="none" stroke-width="1"/>
<rect x="431.55" y="73.66" width="4.53" height="2.90" fill="rgb(255,5,5)" stroke="none" stroke-width="1"/>
<rect x="406.90" y="76.96" width="4.53" height="2.90" fill="rgb(21,21,255)" stroke="none" stroke-width="1"/>
<rect x="411.83" y="76.96" width="4.53" height="2.90" fill="rgb(6,6,255)" stroke="none" stroke-width="1"/>
<rect x="416.76" y="76.96" width="4.53" height="2.90" fill="rgb(11,11,255)" stroke="none" stroke-width="1"/>
<rect x="421.69" y="76.96" width="4.53" height="2.90" fill="rgb(8,8,255)" stroke="none" stroke-width="1"/>
<rect x="426.62" y="76.96" width="4.53" height="2.90" fill="rgb(185,185,255)" stroke="none" stroke-width="1"/>
<rect x="431.55" y="76.96" width="4.53" height="2.90" fill="rgb(255,4,4)" stroke="none" stroke-width="1"/>
<rect x="406.90" y="80.25" width="4.53" height="2.90" fill="rgb(28,28,255)" stroke="none" stroke-width="1"/>
<rect x="411.83" y="80.25" width="4.53" height="2.90" fill="rgb(12,12,255)" stroke="none" stroke-width="1"/>
<rect x="416.76" y="80.25" width="4.53" height="2.90" fill="rgb(2,2,255)" stroke="none" stroke-width="1"/>
<rect x="421.69" y="80.25" width="4.53" height="2.90" fill="rgb(29,29,255)" stroke="none" stroke-width="1"/>
<rect x="426.62" y="80.25" width="4.53" height="2.90" fill="rgb(190,190,255)" stroke="none" stroke-width="1"/>
<rect x="431.55" y="80.25" width="4.53" height="2.90" fill="rgb(255,13,13)" stroke="none" stroke-width="1"/>
<rect x="406.90" y="83.55" width="4.53" height="2.90" fill="rgb(10,10,255)" stroke="none" stroke-width="1"/>
<rect x="411.83" y="83.55" width="4.53" height="2.90" fill="rgb(26,26,255)" stroke="none" stroke-width="1"/>
<rect x="416.76" y="83.55" width="4.53" height="2.90" fill="rgb(0,0,255)" stroke="none" stroke-width="1"/>
<rect x="421.69" y="83.55" width="4.53" height="2.90" fill="rgb(11,11,255)" stroke="none" stroke-width="1"/>
<rect x="426.62" y="83.55" width="4.53" height="2.90" fill="rgb(191,191,255)" stroke="none" stroke-width="1"/>
<rect x="431.55" y="83.55" width="4.53" height="2.90" fill="rgb(255,14,14)" stroke="none" stroke-width="1"/>
<rect x="406.90" y="86.85" width="4.53" height="2.90" fill="rgb(0,0,255)" stroke="none" stroke-width="1"/>
<rect x="411.83" y="86.85" width="4.53" height="2.90" fill="rgb(13,13,255)" stroke="none" stroke-width="1"/>
<rect x="416.76" y="86.85" width="4.53" height="2.90" fill="rgb(26,26,255)" stroke="none" stroke-width="1"/>
<rect x="421.69" y="86.85" width="4.53" height="2.90" fill="rgb(3,3,255)" stroke="none" stroke-width="1"/>
<rect x="426.62" y="86.85" width="4.53" height="2.90" fill="rgb(197,197,255)" stroke="none" stroke-width="1"/>
<rect x="431.55" y="86.85" width="4.53" height="2.90" fill="rgb(255,11,11)" stroke="none" stroke-width="1"/>
<rect x="406.90" y="90.14" width="4.53" height="2.90" fill="rgb(28,28,255)" stroke="none" stroke-width="1"/>
<rect x="411.83" y="90.14" width="4.53" height="2.90" fill="rgb(17,17,255)" stroke="none" stroke-width="1"/>
<rect x="416.76" y="90.14" width="4.53" height="2.90" fill="rgb(26,26,255)" stroke="none" stroke-width="1"/>
<rect x="421.69" y="90.14" width="4.53" height="2.90" fill="rgb(2,2,255)" stroke="none" stroke-width="1"/>
<rect x="426.62" y="90.14" width="4.53" height="2.90" fill="rgb(197,197,255)" stroke="none" stroke-width="1"/>
<rect x="431.55" y="90.14" width="4.53" height="2.90" fill="rgb(255,8,8)" stroke="none" stroke-width="1"/>
<rect x="406.90" y="93.44" width="4.53" height="2.90" fill="rgb(1,1,255)" stroke="none" stroke-width="1"/>
<rect x="411.83" y="93.44" width="4.53" height="2.90" fill="rgb(9,9,255)" stroke="none" stroke-width="1"/>
<rect x="416.76" y="93.44" width="4.53" height="2.90" fill="rgb(20,20,255)" stroke="none" stroke-width="1"/>
<rect x="421.69" y="93.44" width="4.53" height="2.90" fill="rgb(22,22,255)" stroke="none" stroke-width="1"/>
<rect x="426.62" y="93.44" width="4.53" height="2.90" fill="rgb(169,169,255)" stroke="none" stroke-width="1"/>
<rect x="431.55" y="93.44" width="4.53" height="2.90" fill="rgb(255,15,15)" stroke="none" stroke-width="1"/>
<rect x="406.90" y="96.74" width="4.53" height="2.90" fill="rgb(5,5,255)" stroke="none" stroke-width="1"/>
<rect x="411.83" y="96.74" width="4.53" height="2.90" fill="rgb(14,14,255)" stroke="none" stroke-width="1"/>
<rect x="416.76" y="96.74" width="4.53" height="2.90" fill="rgb(25,25,255)" stroke="none" stroke-width="1"/>
<rect x="421.69" y="96.74" width="4.53" height="2.90" fill="rgb(1,1,255)" stroke="none" stroke-width="1"/>
<rect x="426.62" y="96.74" width="4.53" height="2.90" fill="rgb(197,197,255)" stroke="none" stroke-width="1"/>
<rect x="431.55" y="96.74" width="4.53" height="2.90" fill="rgb(255,9,9)" stroke="none" stroke-width="1"/>
<rect x="406.90" y="100.03" width="4.53" height="2.90" fill="rgb(14,14,255)" stroke="none" stroke-width="1"/>
<rect x="411.83" y="100.03" width="4.53" height="2.90" fill="rgb(13,13,255)" stroke="none" stroke-width="1"/>
<rect x="416.76" y="100.03" width="4.53" height="2.90" fill="rgb(15,15,255)" stroke="none" stroke-width="1"/>
<rect x="421.69" y="100.03" width="4.53" height="2.90" fill="rgb(28,28,255)" stroke="none" stroke-width="1"/>
<rect x="426.62" y="100.03" width="4.53" height="2.90" fill="rgb(190,190,255)" stroke="none" stroke-width="1"/>
<rect x="431.55" y="100.03" width="4.53" height="2.90" fill="rgb(255,7,7)" stroke="none" stroke-width="1"/>
<rect x="406.90" y="103.33" width="4.53" height="2.90" fill="rgb(29,29,255)" stroke="none" stroke-width="1"/>
<rect x="411.83" y="103.33" width="4.53" height="2.90" fill="rgb(21,21,255)" stroke="none" stroke-width="1"/>
<rect x="416.76" y="103.33" width="4.53" height="2.90" fill="rgb(13,13,255)" stroke="none" stroke-width="1"/>
<rect x="421.69" y="103.33" width="4.53" height="2.90" fill="rgb(10,10,255)" stroke="none" stroke-width="1"/>
<rect x="426.62" y="103.33" width="4.53" height="2.90" fill="rgb(193,193,255)" stroke="none" stroke-width="1"/>
<rect x="431.55" y="103.33" width="4.53" height="2.90" fill="rgb(255,0,0)" stroke="none" stroke-width="1"/>
<rect x="406.90" y="106.63" width="4.53" height="2.90" fill="rgb(8,8,255)" stroke="none" stroke-width="1"/>
<rect x="411.83" y="106.63" width="4.53" height="2.90" fill="rgb(1,1,255)" stroke="none" stroke-width="1"/>
<rect x="416.76" y="106.63" width="4.53" height="2.90" fill="rgb(20,20,255)" stroke="none" stroke-width="1"/>
<rect x="421.69" y="106.63" width="4.53" height="2.90" fill="rgb(25,25,255)" stroke="none" stroke-width="1"/>
<rect x="426.62" y="106.63" width="4.53" height="2.90" fill="rgb(185,185,255)" stroke="none" stroke-width="1"/>
<rect x="431.55" y="106.63" width="4.53" height="2.90" fill="rgb(255,4,4)" stroke="none" stroke-width="1"/>
<rect x="406.90" y="109.92" width="4.53" height="2.90" fill="rgb(20,20,255)" stroke="none" stroke-width="1"/>
<rect x="411.83" y="109.92" width="4.53" height="2.90" fill="rgb(22,22,255)" stroke="none" stroke-width="1"/>
<rect x="416.76" y="109.92" width="4.53" height="2.90" fill="rgb(21,21,255)" stroke="none" stroke-width="1"/>
<rect x="421.69" y="109.92" width="4.53" height="2.90" fill="rgb(15,15,255)" stroke="none" stroke-width="1"/>
<rect x="426.62" y="109.92" width="4.53" height="2.90" fill="rgb(190,190,255)" stroke="none" stroke-width="1"/>
<rect x="431.55" y="109.92" width="4.53" height="2.90" fill="rgb(255,12,12)" stroke="none" stroke-width="1"/>
<rect x="406.90" y="113.22" width="4.53" height="2.90" fill="rgb(20,20,255)" stroke="none" stroke-width="1"/>
<rect x="411.83" y="113.22" width="4.53" height="2.90" fill="rgb(1,1,255)" stroke="none" stroke-width="1"/>
<rect x="416.76" y="113.22" width="4.53" height="2.90" fill="rgb(18,18,255)" stroke="none" stroke-width="1"/>
<rect x="421.69" y="113.22" width="4.53" height="2.90" fill="rgb(2,2,255)" stroke="none" stroke-width="1"/>
<rect x="426.62" y="113.22" width="4.53" height="2.90" fill="rgb(170,170,255)" stroke="none" stroke-width="1"/>
<rect x="431.55" y="113.22" width="4.53" height="2.90" fill="rgb(255,9,9)" stroke="none" stroke-width="1"/>
<rect x="406.90" y="116.52" width="4.53" height="2.90" fill="rgb(48,48,255)" stroke="none" stroke-width="1"/>
<rect x="411.83" y="116.52" width="4.53" height="2.90" fill="rgb(50,50,255)" stroke="none" stroke-width="1"/>
<rect x="416.76" y="116.52" width="4.53" height="2.90" fill="rgb(65,65,255)" stroke="none" stroke-width="1"/>
<rect x="421.69" y="116.52" width="4.53" height="2.90" fill="rgb(107,107,255)" stroke="none" stroke-width="1"/>
<rect x="426.62" y="116.52" width="4.53" height="2.90" fill="rgb(193,193,255)" stroke="none" stroke-width="1"/>
<rect x="431.55" y="116.52" width="4.53" height="2.90" fill="rgb(255,16,16)" stroke="none" stroke-width="1"/>
<rect x="406.90" y="119.81" width="4.53" height="2.90" fill="rgb(25,25,255)" stroke="none" stroke-width="1"/>
<rect x="411.83" y="119.81" width="4.53" height="2.90" fill="rgb(44,44,255)" stroke="none" stroke-width="1"/>
<rect x="416.76" y="119.81" width="4.53" height="2.90" fill="rgb(29,29,255)" stroke="none" stroke-width="1"/>
<rect x="421.69" y="119.81" width="4.53" height="2.90" fill="rgb(4,4,255)" stroke="none" stroke-width="1"/>
<rect x="426.62" y="119.81" width="4.53" height="2.90" fill="rgb(168,168,255)" stroke="none" stroke-width="1"/>
<rect x="431.55" y="119.81" width="4.53" height="2.90" fill="rgb(255,12,12)" stroke="none" stroke-width="1"/>
<rect x="406.90" y="123.11" width="4.53" height="2.90" fill="rgb(34,34,255)" stroke="none" stroke-width="1"/>
<rect x="411.83" y="123.11" width="4.53" height="2.90" fill="rgb(94,94,255)" stroke="none" stroke-width="1"/>
<rect x="416.76" y="123.11" width="4.53" height="2.90" fill="rgb(55,55,255)" stroke="none" stroke-width="1"/>
<rect x="421.69" y="123.11" width="4.53" height="2.90" fill="rgb(0,0,255)" stroke="none" stroke-width="1"/>
<rect x="426.62" y="123.11" width="4.53" height="2.90" fill="rgb(195,195,255)" stroke="none" stroke-width="1"/>
<rect x="431.55" y="123.11" width="4.53" height="2.90" fill="rgb(255,5,5)" stroke="none" stroke-width="1"/>
<rect x="406.90" y="126.41" width="4.53" height="2.90" fill="rgb(28,28,255)" stroke="none" stroke-width="1"/>
<rect x="411.83" y="126.41" width="4.53" height="2.90" fill="rgb(73,73,255)" stroke="none" stroke-width="1"/>
<rect x="416.76" y="126.41" width="4.53" height="2.90" fill="rgb(120,120,255)" stroke="none" stroke-width="1"/>
<rect x="421.69" y="126.41" width="4.53" height="2.90" fill="rgb(59,59,255)" stroke="none" stroke-width="1"/>
<rect x="426.62" y="126.41" width="4.53" height="2.90" fill="rgb(166,166,255)" stroke="none" stroke-width="1"/>
<rect x="431.55" y="126.41" width="4.53" height="2.90" fill="rgb(255,9,9)" stroke="none" stroke-width="1"/>
<rect x="406.90" y="129.70" width="4.53" height="2.90" fill="rgb(34,34,255)" stroke="none" stroke-width="1"/>
<rect x="411.83" y="129.70" width="4.53" height="2.90" fill="rgb(44,44,255)" stroke="none" stroke-width="1"/>
<rect x="416.76" y="129.70" width="4.53" height="2.90" fill="rgb(116,116,255)" stroke="none" stroke-width="1"/>
<rect x="421.69" y="129.70" width="4.53" height="2.90" fill="rgb(25,25,255)" stroke="none" stroke-width="1"/>
<rect x="426.62" y="129.70" width="4.53" height="2.90" fill="rgb(203,203,255)" stroke="none" stroke-width="1"/>
<rect x="431.55" y="129.70" width="4.53" height="2.90" fill="rgb(255,10,10)" stroke="none" stroke-width="1"/>
<rect x="406.90" y="133.00" width="4.53" height="2.90" fill="rgb(55,55,255)" stroke="none" stroke-width="1"/>
<rect x="411.83" y="133.00" width="4.53" height="2.90" fill="rgb(45,45,255)" stroke="none" stroke-width="1"/>
<rect x="416.76" y="133.00" width="4.53" height="2.90" fill="rgb(125,125,255)" stroke="none" stroke-width="1"/>
<rect x="421.69" y="133.00" width="4.53" height="2.90" fill="rgb(12,12,255)" stroke="none" stroke-width="1"/>
<rect x="426.62" y="133.00" width="4.53" height="2.90" fill="rgb(255,225,225)" stroke="none" stroke-width="1"/>
<rect x="431.55" y="133.00" width="4.53" height="2.90" fill="rgb(255,8,8)" stroke="none" stroke-width="1"/>
<rect x="406.90" y="136.29" width="4.53" height="2.90" fill="rgb(50,50,255)" stroke="none" stroke-width="1"/>
<rect x="411.83" y="136.29" width="4.53" height="2.90" fill="rgb(32,32,255)" stroke="none" stroke-width="1"/>
<rect x="416.76" y="136.29" width="4.53" height="2.90" fill="rgb(81,81,255)" stroke="none" stroke-width="1"/>
<rect x="421.69" y="136.29" width="4.53" height="2.90" fill="rgb(13,13,255)" stroke="none" stroke-width="1"/>
<rect x="426.62" y="136.29" width="4.53" height="2.90" fill="rgb(251,251,255)" stroke="none" stroke-width="1"/>
<rect x="431.55" y="136.29" width="4.53" height="2.90" fill="rgb(255,15,15)" stroke="none" stroke-width="1"/>
<rect x="406.90" y="139.59" width="4.53" height="2.90" fill="rgb(81,81,255)" stroke="none" stroke-width="1"/>
<rect x="411.83" y="139.59" width="4.53" height="2.90" fill="rgb(40,40,255)" stroke="none" stroke-width="1"/>
<rect x="416.76" y="139.59" width="4.53" height="2.90" fill="rgb(61,61,255)" stroke="none" stroke-width="1"/>
<rect x="421.69" y="139.59" width="4.53" height="2.90" fill="rgb(66,66,255)" stroke="none" stroke-width="1"/>
<rect x="426.62" y="139.59" width="4.53" height="2.90" fill="rgb(255,250,250)" stroke="none" stroke-width="1"/>
<rect x="431.55" y="139.59" width="4.53" height="2.90" fill="rgb(255,12,12)" stroke="none" stroke-width="1"/>
<rect x="406.90" y="142.89" width="4.53" height="2.90" fill="rgb(6,6,255)" stroke="none" stroke-width="1"/>
<rect x="411.83" y="142.89" width="4.53" height="2.90" fill="rgb(35,35,255)" stroke="none" stroke-width="1"/>
<rect x="416.76" y="142.89" width="4.53" height="2.90" fill="rgb(51,51,255)" stroke="none" stroke-width="1"/>
<rect x="421.69" y="142.89" width="4.53" height="2.90" fill="rgb(9,9,255)" stroke="none" stroke-width="1"/>
<rect x="426.62" y="142.89" width="4.53" height="2.90" fill="rgb(254,254,255)" stroke="none" stroke-width="1"/>
<rect x="431.55" y="142.89" width="4.53" height="2.90" fill="rgb(255,0,0)" stroke="none" stroke-width="1"/>
<rect x="406.90" y="146.18" width="4.53" height="2.90" fill="rgb(38,38,255)" stroke="none" stroke-width="1"/>
<rect x="411.83" y="146.18" width="4.53" height="2.90" fill="rgb(39,39,255)" stroke="none" stroke-width="1"/>
<rect x="416.76" y="146.18" width="4.53" height="2.90" fill="rgb(22,22,255)" stroke="none" stroke-width="1"/>
<rect x="421.69" y="146.18" width="4.53" height="2.90" fill="rgb(47,47,255)" stroke="none" stroke-width="1"/>
<rect x="426.62" y="146.18" width="4.53" height="2.90" fill="rgb(255,230,230)" stroke="none" stroke-width="1"/>
<rect x="431.55" y="146.18" width="4.53" height="2.90" fill="rgb(255,7,7)" stroke="none" stroke-width="1"/>
<rect x="406.90" y="149.48" width="4.53" height="2.90" fill="rgb(19,19,255)" stroke="none" stroke-width="1"/>
<rect x="411.83" y="149.48" width="4.53" height="2.90" fill="rgb(53,53,255)" stroke="none" stroke-width="1"/>
<rect x="416.76" y="149.48" width="4.53" height="2.90" fill="rgb(57,57,255)" stroke="none" stroke-width="1"/>
<rect x="421.69" y="149.48" width="4.53" height="2.90" fill="rgb(74,74,255)" stroke="none" stroke-width="1"/>
<rect x="426.62" y="149.48" width="4.53" height="2.90" fill="rgb(255,244,244)" stroke="none" stroke-width="1"/>
<rect x="431.55" y="149.48" width="4.53" height="2.90" fill="rgb(255,1,1)" stroke="none" stroke-width="1"/>
<rect x="406.90" y="152.78" width="4.53" height="2.90" fill="rgb(65,65,255)" stroke="none" stroke-width="1"/>
<rect x="411.83" y="152.78" width="4.53" height="2.90" fill="rgb(125,125,255)" stroke="none" stroke-width="1"/>
<rect x="416.76" y="152.78" width="4.53" height="2.90" fill="rgb(26,26,255)" stroke="none" stroke-width="1"/>
<rect x="421.69" y="152.78" width="4.53" height="2.90" fill="rgb(2,2,255)" stroke="none" stroke-width="1"/>
<rect x="426.62" y="152.78" width="4.53" height="2.90" fill="rgb(219,219,255)" stroke="none" stroke-width="1"/>
<rect x="431.55" y="152.78" width="4.53" height="2.90" fill="rgb(255,17,17)" stroke="none" stroke-width="1"/>
<rect x="406.90" y="156.07" width="4.53" height="2.90" fill="rgb(35,35,255)" stroke="none" stroke-width="1"/>
<rect x="411.83" y="156.07" width="4.53" height="2.90" fill="rgb(112,112,255)" stroke="none" stroke-width="1"/>
<rect x="416.76" y="156.07" width="4.53" height="2.90" fill="rgb(4,4,255)" stroke="none" stroke-width="1"/>
<rect x="421.69" y="156.07" width="4.53" height="2.90" fill="rgb(16,16,255)" stroke="none" stroke-width="1"/>
<rect x="426.62" y="156.07" width="4.53" height="2.90" fill="rgb(228,228,255)" stroke="none" stroke-width="1"/>
<rect x="431.55" y="156.07" width="4.53" height="2.90" fill="rgb(255,12,12)" stroke="none" stroke-width="1"/>
<rect x="406.90" y="159.37" width="4.53" height="2.90" fill="rgb(38,38,255)" stroke="none" stroke-width="1"/>
<rect x="411.83" y="159.37" width="4.53" height="2.90" fill="rgb(0,0,255)" stroke="none" stroke-width="1"/>
<rect x="416.76" y="159.37" width="4.53" height="2.90" fill="rgb(36,36,255)" stroke="none" stroke-width="1"/>
<rect x="421.69" y="159.37" width="4.53" height="2.90" fill="rgb(10,10,255)" stroke="none" stroke-width="1"/>
<rect x="426.62" y="159.37" width="4.53" height="2.90" fill="rgb(213,213,255)" stroke="none" stroke-width="1"/>
<rect x="431.55" y="159.37" width="4.53" height="2.90" fill="rgb(255,17,17)" stroke="none" stroke-width="1"/>
<rect x="406.90" y="162.67" width="4.53" height="2.90" fill="rgb(66,66,255)" stroke="none" stroke-width="1"/>
<rect x="411.83" y="162.67" width="4.53" height="2.90" fill="rgb(54,54,255)" stroke="none" stroke-width="1"/>
<rect x="416.76" y="162.67" width="4.53" height="2.90" fill="rgb(22,22,255)" stroke="none" stroke-width="1"/>
<rect x="421.69" y="162.67" width="4.53" height="2.90" fill="rgb(29,29,255)" stroke="none" stroke-width="1"/>
<rect x="426.62" y="162.67" width="4.53" height="2.90" fill="rgb(255,219,219)" stroke="none" stroke-width="1"/>
<rect x="431.55" y="162.67" width="4.53" height="2.90" fill="rgb(255,11,11)" stroke="none" stroke-width="1"/>
<rect x="406.90" y="165.96" width="4.53" height="2.90" fill="rgb(24,24,255)" stroke="none" stroke-width="1"/>
<rect x="411.83" y="165.96" width="4.53" height="2.90" fill="rgb(14,14,255)" stroke="none" stroke-width="1"/>
<rect x="416.76" y="165.96" width="4.53" height="2.90" fill="rgb(66,66,255)" stroke="none" stroke-width="1"/>
<rect x="421.69" y="165.96" width="4.53" height="2.90" fill="rgb(76,76,255)" stroke="none" stroke-width="1"/>
<rect x="426.62" y="165.96" width="4.53" height="2.90" fill="rgb(232,232,255)" stroke="none" stroke-width="1"/>
<rect x="431.55" y="165.96" width="4.53" height="2.90" fill="rgb(255,15,15)" stroke="none" stroke-width="1"/>
<rect x="406.90" y="169.26" width="4.53" height="2.90" fill="rgb(23,23,255)" stroke="none" stroke-width="1"/>
<rect x="411.83" y="169.26" width="4.53" height="2.90" fill="rgb(61,61,255)" stroke="none" stroke-width="1"/>
<rect x="416.76" y="169.26" width="4.53" height="2.90" fill="rgb(43,43,255)" stroke="none" stroke-width="1"/>
<rect x="421.69" y="169.26" width="4.53" height="2.90" fill="rgb(14,14,255)" stroke="none" stroke-width="1"/>
<rect x="426.62" y="169.26" width="4.53" height="2.90" fill="rgb(231,231,255)" stroke="none" stroke-width="1"/>
<rect x="431.55" y="169.26" width="4.53" height="2.90" fill="rgb(255,0,0)" stroke="none" stroke-width="1"/>
<rect x="406.90" y="172.56" width="4.53" height="2.90" fill="rgb(26,26,255)" stroke="none" stroke-width="1"/>
<rect x="411.83" y="172.56" width="4.53" height="2.90" fill="rgb(10,10,255)" stroke="none" stroke-width="1"/>
<rect x="416.76" y="172.56" width="4.53" height="2.90" fill="rgb(12,12,255)" stroke="none" stroke-width="1"/>
<rect x="421.69" y="172.56" width="4.53" height="2.90" fill="rgb(40,40,255)" stroke="none" stroke-width="1"/>
<rect x="426.62" y="172.56" width="4.53" height="2.90" fill="rgb(229,229,255)" stroke="none" stroke-width="1"/>
<rect x="431.55" y="172.56" width="4.53" height="2.90" fill="rgb(255,1,1)" stroke="none" stroke-width="1"/>
<rect x="406.90" y="175.85" width="4.53" height="2.90" fill="rgb(40,40,255)" stroke="none" stroke-width="1"/>
<rect x="411.83" y="175.85" width="4.53" height="2.90" fill="rgb(18,18,255)" stroke="none" stroke-width="1"/>
<rect x="416.76" y="175.85" width="4.53" height="2.90" fill="rgb(53,53,255)" stroke="none" stroke-width="1"/>
<rect x="421.69" y="175.85" width="4.53" height="2.90" fill="rgb(76,76,255)" stroke="none" stroke-width="1"/>
<rect x="426.62" y="175.85" width="4.53" height="2.90" fill="rgb(241,241,255)" stroke="none" stroke-width="1"/>
<rect x="431.55" y="175.85" width="4.53" height="2.90" fill="rgb(255,6,6)" stroke="none" stroke-width="1"/>
<rect x="406.90" y="179.15" width="4.53" height="2.90" fill="rgb(40,40,255)" stroke="none" stroke-width="1"/>
<rect x="411.83" y="179.15" width="4.53" height="2.90" fill="rgb(52,52,255)" stroke="none" stroke-width="1"/>
<rect x="416.76" y="179.15" width="4.53" height="2.90" fill="rgb(63,63,255)" stroke="none" stroke-width="1"/>
<rect x="421.69" y="179.15" width="4.53" height="2.90" fill="rgb(23,23,255)" stroke="none" stroke-width="1"/>
<rect x="426.62" y="179.15" width="4.53" height="2.90" fill="rgb(206,206,255)" stroke="none" stroke-width="1"/>
<rect x="431.55" y="179.15" width="4.53" height="2.90" fill="rgb(255,8,8)" stroke="none" stroke-width="1"/>
<rect x="406.90" y="182.45" width="4.53" height="2.90" fill="rgb(122,122,255)" stroke="none" stroke-width="1"/>
<rect x="411.83" y="182.45" width="4.53" height="2.90" fill="rgb(35,35,255)" stroke="none" stroke-width="1"/>
<rect x="416.76" y="182.45" width="4.53" height="2.90" fill="rgb(72,72,255)" stroke="none" stroke-width="1"/>
<rect x="421.69" y="182.45" width="4.53" height="2.90" fill="rgb(20,20,255)" stroke="none" stroke-width="1"/>
<rect x="426.62" y="182.45" width="4.53" height="2.90" fill="rgb(234,234,255)" stroke="none" stroke-width="1"/>
<rect x="431.55" y="182.45" width="4.53" height="2.90" fill="rgb(255,17,17)" stroke="none" stroke-width="1"/>
<rect x="406.90" y="185.74" width="4.53" height="2.90" fill="rgb(21,21,255)" stroke="none" stroke-width="1"/>
<rect x="411.83" y="185.74" width="4.53" height="2.90" fill="rgb(80,80,255)" stroke="none" stroke-width="1"/>
<rect x="416.76" y="185.74" width="4.53" height="2.90" fill="rgb(0,0,255)" stroke="none" stroke-width="1"/>
<rect x="421.69" y="185.74" width="4.53" height="2.90" fill="rgb(22,22,255)" stroke="none" stroke-width="1"/>
<rect x="426.62" y="185.74" width="4.53" height="2.90" fill="rgb(238,238,255)" stroke="none" stroke-width="1"/>
<rect x="431.55" y="185.74" width="4.53" height="2.90" fill="rgb(255,3,3)" stroke="none" stroke-width="1"/>
<rect x="406.90" y="189.04" width="4.53" height="2.90" fill="rgb(67,67,255)" stroke="none" stroke-width="1"/>
<rect x="411.83" y="189.04" width="4.53" height="2.90" fill="rgb(117,117,255)" stroke="none" stroke-width="1"/>
<rect x="416.76" y="189.04" width="4.53" height="2.90" fill="rgb(0,0,255)" stroke="none" stroke-width="1"/>
<rect x="421.69" y="189.04" width="4.53" height="2.90" fill="rgb(22,22,255)" stroke="none" stroke-width="1"/>
<rect x="426.62" y="189.04" width="4.53" height="2.90" fill="rgb(255,253,253)" stroke="none" stroke-width="1"/>
<rect x="431.55" y="189.04" width="4.53" height="2.90" fill="rgb(255,14,14)" stroke="none" stroke-width="1"/>
<rect x="406.90" y="192.34" width="4.53" height="2.90" fill="rgb(124,124,255)" stroke="none" stroke-width="1"/>
<rect x="411.83" y="192.34" width="4.53" height="2.90" fill="rgb(73,73,255)" stroke="none" stroke-width="1"/>
<rect x="416.76" y="192.34" width="4.53" height="2.90" fill="rgb(68,68,255)" stroke="none" stroke-width="1"/>
<rect x="421.69" y="192.34" width="4.53" height="2.90" fill="rgb(47,47,255)" stroke="none" stroke-width="1"/>
<rect x="426.62" y="192.34" width="4.53" height="2.90" fill="rgb(226,226,255)" stroke="none" stroke-width="1"/>
<rect x="431.55" y="192.34" width="4.53" height="2.90" fill="rgb(255,2,2)" stroke="none" stroke-width="1"/>
<rect x="406.90" y="195.63" width="4.53" height="2.90" fill="rgb(66,66,255)" stroke="none" stroke-width="1"/>
<rect x="411.83" y="195.63" width="4.53" height="2.90" fill="rgb(43,43,255)" stroke="none" stroke-width="1"/>
<rect x="416.76" y="195.63" width="4.53" height="2.90" fill="rgb(74,74,255)" stroke="none" stroke-width="1"/>
<rect x="421.69" y="195.63" width="4.53" height="2.90" fill="rgb(30,30,255)" stroke="none" stroke-width="1"/>
<rect x="426.62" y="195.63" width="4.53" height="2.90" fill="rgb(211,211,255)" stroke="none" stroke-width="1"/>
<rect x="431.55" y="195.63" width="4.53" height="2.90" fill="rgb(255,15,15)" stroke="none" stroke-width="1"/>
<rect x="406.90" y="198.93" width="4.53" height="2.90" fill="rgb(53,53,255)" stroke="none" stroke-width="1"/>
<rect x="411.83" y="198.93" width="4.53" height="2.90" fill="rgb(32,32,255)" stroke="none" stroke-width="1"/>
<rect x="416.76" y="198.93" width="4.53" height="2.90" fill="rgb(24,24,255)" stroke="none" stroke-width="1"/>
<rect x="421.69" y="198.93" width="4.53" height="2.90" fill="rgb(54,54,255)" stroke="none" stroke-width="1"/>
<rect x="426.62" y="198.93" width="4.53" height="2.90" fill="rgb(244,244,255)" stroke="none" stroke-width="1"/>
<rect x="431.55" y="198.93" width="4.53" height="2.90" fill="rgb(255,13,13)" stroke="none" stroke-width="1"/>
<rect x="406.90" y="202.23" width="4.53" height="2.90" fill="rgb(71,71,255)" stroke="none" stroke-width="1"/>
<rect x="411.83" y="202.23" width="4.53" height="2.90" fill="rgb(58,58,255)" stroke="none" stroke-width="1"/>
<rect x="416.76" y="202.23" width="4.53" height="2.90" fill="rgb(12,12,255)" stroke="none" stroke-width="1"/>
<rect x="421.69" y="202.23" width="4.53" height="2.90" fill="rgb(54,54,255)" stroke="none" stroke-width="1"/>
<rect x="426.62" y="202.23" width="4.53" height="2.90" fill="rgb(255,188,188)" stroke="none" stroke-width="1"/>
<rect x="431.55" y="202.23" width="4.53" height="2.90" fill="rgb(255,2,2)" stroke="none" stroke-width="1"/>
<rect x="406.90" y="205.52" width="4.53" height="2.90" fill="rgb(95,95,255)" stroke="none" stroke-width="1"/>
<rect x="411.83" y="205.52" width="4.53" height="2.90" fill="rgb(46,46,255)" stroke="none" stroke-width="1"/>
<rect x="416.76" y="205.52" width="4.53" height="2.90" fill="rgb(66,66,255)" stroke="none" stroke-width="1"/>
<rect x="421.69" y="205.52" width="4.53" height="2.90" fill="rgb(75,75,255)" stroke="none" stroke-width="1"/>
<rect x="426.62" y="205.52" width="4.53" height="2.90" fill="rgb(255,224,224)" stroke="none" stroke-width="1"/>
<rect x="431.55" y="205.52" width="4.53" height="2.90" fill="rgb(255,15,15)" stroke="none" stroke-width="1"/>
<rect x="406.90" y="208.82" width="4.53" height="2.90" fill="rgb(15,15,255)" stroke="none" stroke-width="1"/>
<rect x="411.83" y="208.82" width="4.53" height="2.90" fill="rgb(51,51,255)" stroke="none" stroke-width="1"/>
<rect x="416.76" y="208.82" width="4.53" height="2.90" fill="rgb(66,66,255)" stroke="none" stroke-width="1"/>
<rect x="421.69" y="208.82" width="4.53" height="2.90" fill="rgb(142,142,255)" stroke="none" stroke-width="1"/>
<rect x="426.62" y="208.82" width="4.53" height="2.90" fill="rgb(255,111,111)" stroke="none" stroke-width="1"/>
<rect x="431.55" y="208.82" width="4.53" height="2.90" fill="rgb(255,5,5)" stroke="none" stroke-width="1"/>
<rect x="406.90" y="212.12" width="4.53" height="2.90" fill="rgb(37,37,255)" stroke="none" stroke-width="1"/>
<rect x="411.83" y="212.12" width="4.53" height="2.90" fill="rgb(26,26,255)" stroke="none" stroke-width="1"/>
<rect x="416.76" y="212.12" width="4.53" height="2.90" fill="rgb(171,171,255)" stroke="none" stroke-width="1"/>
<rect x="421.69" y="212.12" width="4.53" height="2.90" fill="rgb(184,184,255)" stroke="none" stroke-width="1"/>
<rect x="426.62" y="212.12" width="4.53" height="2.90" fill="rgb(255,1,1)" stroke="none" stroke-width="1"/>
<rect x="431.55" y="212.12" width="4.53" height="2.90" fill="rgb(255,8,8)" stroke="none" stroke-width="1"/>
<rect x="406.90" y="215.41" width="4.53" height="2.90" fill="rgb(29,29,255)" stroke="none" stroke-width="1"/>
<rect x="411.83" y="215.41" width="4.53" height="2.90" fill="rgb(57,57,255)" stroke="none" stroke-width="1"/>
<rect x="416.76" y="215.41" width="4.53" height="2.90" fill="rgb(54,54,255)" stroke="none" stroke-width="1"/>
<rect x="421.69" y="215.41" width="4.53" height="2.90" fill="rgb(119,119,255)" stroke="none" stroke-width="1"/>
<rect x="426.62" y="215.41" width="4.53" height="2.90" fill="rgb(255,6,6)" stroke="none" stroke-width="1"/>
<rect x="431.55" y="215.41" width="4.53" height="2.90" fill="rgb(255,56,56)" stroke="none" stroke-width="1"/>
<rect x="406.90" y="218.71" width="4.53" height="2.90" fill="rgb(14,14,255)" stroke="none" stroke-width="1"/>
<rect x="411.83" y="218.71" width="4.53" height="2.90" fill="rgb(45,45,255)" stroke="none" stroke-width="1"/>
<rect x="416.76" y="218.71" width="4.53" height="2.90" fill="rgb(19,19,255)" stroke="none" stroke-width="1"/>
<rect x="421.69" y="218.71" width="4.53" height="2.90" fill="rgb(49,49,255)" stroke="none" stroke-width="1"/>
<rect x="426.62" y="218.71" width="4.53" height="2.90" fill="rgb(255,23,23)" stroke="none" stroke-width="1"/>
<rect x="431.55" y="218.71" width="4.53" height="2.90" fill="rgb(255,56,56)" stroke="none" stroke-width="1"/>
<rect x="406.90" y="222.01" width="4.53" height="2.90" fill="rgb(6,6,255)" stroke="none" stroke-width="1"/>
<rect x="411.83" y="222.01" width="4.53" height="2.90" fill="rgb(30,30,255)" stroke="none" stroke-width="1"/>
<rect x="416.76" y="222.01" width="4.53" height="2.90" fill="rgb(7,7,255)" stroke="none" stroke-width="1"/>
<rect x="421.69" y="222.01" width="4.53" height="2.90" fill="rgb(36,36,255)" stroke="none" stroke-width="1"/>
<rect x="426.62" y="222.01" width="4.53" height="2.90" fill="rgb(255,15,15)" stroke="none" stroke-width="1"/>
<rect x="431.55" y="222.01" width="4.53" height="2.90" fill="rgb(255,34,34)" stroke="none" stroke-width="1"/>
<rect x="406.90" y="225.30" width="4.53" height="2.90" fill="rgb(9,9,255)" stroke="none" stroke-width="1"/>
<rect x="411.83" y="225.30" width="4.53" height="2.90" fill="rgb(43,43,255)" stroke="none" stroke-width="1"/>
<rect x="416.76" y="225.30" width="4.53" height="2.90" fill="rgb(40,40,255)" stroke="none" stroke-width="1"/>
<rect x="421.69" y="225.30" width="4.53" height="2.90" fill="rgb(73,73,255)" stroke="none" stroke-width="1"/>
<rect x="426.62" y="225.30" width="4.53" height="2.90" fill="rgb(255,4,4)" stroke="none" stroke-width="1"/>
<rect x="431.55" y="225.30" width="4.53" height="2.90" fill="rgb(255,39,39)" stroke="none" stroke-width="1"/>
<text x="0" y="3.60" transform="translate(438.30 35.55) rotate(0.35) scale(0.38 0.44)" font-size="10" text-anchor="start" fill="#333" stroke="#333" stroke-width="0.9">RAD51AP1</text>
<text x="0" y="3.60" transform="translate(438.30 38.84) rotate(0.35) scale(0.38 0.44)" font-size="10" text-anchor="start" fill="#333" stroke="#333" stroke-width="0.9">CDKN3</text>
<text x="0" y="3.60" transform="translate(438.30 42.14) rotate(0.35) scale(0.38 0.44)" font-size="10" text-anchor="start" fill="#333" stroke="#333" stroke-width="0.9">CENPF</text>
<text x="0" y="3.60" transform="translate(438.30 45.44) rotate(0.35) scale(0.38 0.44)" font-size="10" text-anchor="start" fill="#333" stroke="#333" stroke-width="0.9">TOP2A</text>
<text x="0" y="3.60" transform="translate(438.30 48.73) rotate(0.35) scale(0.38 0.44)" font-size="10" text-anchor="start" fill="#333" stroke="#333" stroke-width="0.9">CDK1</text>
<text x="0" y="3.60" transform="translate(438.30 52.03) rotate(0.35) scale(0.38 0.44)" font-size="10" text-anchor="start" fill="#333" stroke="#333" stroke-width="0.9">KIF20A</text>
<text x="0" y="3.60" transform="translate(438.30 55.33) rotate(0.35) scale(0.38 0.44)" font-size="10" text-anchor="start" fill="#333" stroke="#333" stroke-width="0.9">NUSAP1</text>
<text x="0" y="3.60" transform="translate(438.30 58.62) rotate(0.35) scale(0.38 0.44)" font-size="10" text-anchor="start" fill="#333" stroke="#333" stroke-width="0.9">DLGAP5</text>
<text x="0" y="3.60" transform="translate(438.30 61.92) rotate(0.35) scale(0.38 0.44)" font-size="10" text-anchor="start" fill="#333" stroke="#333" stroke-width="0.9">PLK1</text>
<text x="0" y="3.60" transform="translate(438.30 65.22) rotate(0.35) scale(0.38 0.44)" font-size="10" text-anchor="start" fill="#333" stroke="#333" stroke-width="0.9">ANLN</text>
<text x="0" y="3.60" transform="translate(438.30 68.51) rotate(0.35) scale(0.38 0.44)" font-size="10" text-anchor="start" fill="#333" stroke="#333" stroke-width="0.9">PRC1</text>
<text x="0" y="3.60" transform="translate(438.30 71.81) rotate(0.35) scale(0.38 0.44)" font-size="10" text-anchor="start" fill="#333" stroke="#333" stroke-width="0.9">TTK</text>
<text x="0" y="3.60" transform="translate(438.30 75.11) rotate(0.35) scale(0.38 0.44)" font-size="10" text-anchor="start" fill="#333" stroke="#333" stroke-width="0.9">MELK</text>
<text x="0" y="3.60" transform="translate(438.30 78.40) rotate(0.35) scale(0.38 0.44)" font-size="10" text-anchor="start" fill="#333" stroke="#333" stroke-width="0.9">KIF14</text>
<text x="0" y="3.60" transform="translate(438.30 81.70) rotate(0.35) scale(0.38 0.44)" font-size="10" text-anchor="start" fill="#333" stroke="#333" stroke-width="0.9">CCNB1</text>
<text x="0" y="3.60" transform="translate(438.30 85.00) rotate(0.35) scale(0.38 0.44)" font-size="10" text-anchor="start" fill="#333" stroke="#333" stroke-width="0.9">CENPA</text>
<text x="0" y="3.60" transform="translate(438.30 88.29) rotate(0.35) scale(0.38 0.44)" font-size="10" text-anchor="start" fill="#333" stroke="#333" stroke-width="0.9">ASPM</text>
<text x="0" y="3.60" transform="translate(438.30 91.59) rotate(0.35) scale(0.38 0.44)" font-size="10" text-anchor="start" fill="#333" stroke="#333" stroke-width="0.9">BUB1B</text>
<text x="0" y="3.60" transform="translate(438.30 94.89) rotate(0.35) scale(0.38 0.44)" font-size="10" text-anchor="start" fill="#333" stroke="#333" stroke-width="0.9">NCAPG</text>
<text x="0" y="3.60" transform="translate(438.30 98.18) rotate(0.35) scale(0.38 0.44)" font-size="10" text-anchor="start" fill="#333" stroke="#333" stroke-width="0.9">CDC20</text>
<text x="0" y="3.60" transform="translate(438.30 101.48) rotate(0.35) scale(0.38 0.44)" font-size="10" text-anchor="start" fill="#333" stroke="#333" stroke-width="0.9">KIF2C</text>
<text x="0" y="3.60" transform="translate(438.30 104.78) rotate(0.35) scale(0.38 0.44)" font-size="10" text-anchor="start" fill="#333" stroke="#333" stroke-width="0.9">BIRC5</text>
<text x="0" y="3.60" transform="translate(438.30 108.07) rotate(0.35) scale(0.38 0.44)" font-size="10" text-anchor="start" fill="#333" stroke="#333" stroke-width="0.9">TPX2</text>
<text x="0" y="3.60" transform="translate(438.30 111.37) rotate(0.35) scale(0.38 0.44)" font-size="10" text-anchor="start" fill="#333" stroke="#333" stroke-width="0.9">CCNA2</text>
<text x="0" y="3.60" transform="translate(438.30 114.67) rotate(0.35) scale(0.38 0.44)" font-size="10" text-anchor="start" fill="#333" stroke="#333" stroke-width="0.9">HMMR</text>
<text x="0" y="3.60" transform="translate(438.30 117.96) rotate(0.35) scale(0.38 0.44)" font-size="10" text-anchor="start" fill="#333" stroke="#333" stroke-width="0.9">RRM2</text>
<text x="0" y="3.60" transform="translate(438.30 121.26) rotate(0.35) scale(0.38 0.44)" font-size="10" text-anchor="start" fill="#333" stroke="#333" stroke-width="0.9">ZWINT</text>
<text x="0" y="3.60" transform="translate(438.30 124.56) rotate(0.35) scale(0.38 0.44)" font-size="10" text-anchor="start" fill="#333" stroke="#333" stroke-width="0.9">MAD2L1</text>
<text x="0" y="3.60" transform="translate(438.30 127.85) rotate(0.35) scale(0.38 0.44)" font-size="10" text-anchor="start" fill="#333" stroke="#333" stroke-width="0.9">PBK</text>
<text x="0" y="3.60" transform="translate(438.30 131.15) rotate(0.35) scale(0.38 0.44)" font-size="10" text-anchor="start" fill="#333" stroke="#333" stroke-width="0.9">UBE2C</text>
<text x="0" y="3.60" transform="translate(438.30 134.45) rotate(0.35) scale(0.38 0.44)" font-size="10" text-anchor="start" fill="#333" stroke="#333" stroke-width="0.9">NEK2</text>
<text x="0" y="3.60" transform="translate(438.30 137.74) rotate(0.35) scale(0.38 0.44)" font-size="10" text-anchor="start" fill="#333" stroke="#333" stroke-width="0.9">FOXM1</text>
<text x="0" y="3.60" transform="translate(438.30 141.04) rotate(0.35) scale(0.38 0.44)" font-size="10" text-anchor="start" fill="#333" stroke="#333" stroke-width="0.9">KIF4A</text>
<text x="0" y="3.60" transform="translate(438.30 144.34) rotate(0.35) scale(0.38 0.44)" font-size="10" text-anchor="start" fill="#333" stroke="#333" stroke-width="0.9">CENPE</text>
<text x="0" y="3.60" transform="translate(438.30 147.63) rotate(0.35) scale(0.38 0.44)" font-size="10" text-anchor="start" fill="#333" stroke="#333" stroke-width="0.9">DEPDC1</text>
<text x="0" y="3.60" transform="translate(438.30 150.93) rotate(0.35) scale(0.38 0.44)" font-size="10" text-anchor="start" fill="#333" stroke="#333" stroke-width="0.9">ECT2</text>
<text x="0" y="3.60" transform="translate(438.30 154.23) rotate(0.35) scale(0.38 0.44)" font-size="10" text-anchor="start" fill="#333" stroke="#333" stroke-width="0.9">EZH2</text>
<text x="0" y="3.60" transform="translate(438.30 157.52) rotate(0.35) scale(0.38 0.44)" font-size="10" text-anchor="start" fill="#333" stroke="#333" stroke-width="0.9">GINS1</text>
<text x="0" y="3.60" transform="translate(438.30 160.82) rotate(0.35) scale(0.38 0.44)" font-size="10" text-anchor="start" fill="#333" stroke="#333" stroke-width="0.9">SMC4</text>
<text x="0" y="3.60" transform="translate(438.30 164.12) rotate(0.35) scale(0.38 0.44)" font-size="10" text-anchor="start" fill="#333" stroke="#333" stroke-width="0.9">TMPO</text>
<text x="0" y="3.60" transform="translate(438.30 167.41) rotate(0.35) scale(0.38 0.44)" font-size="10" text-anchor="start" fill="#333" stroke="#333" stroke-width="0.9">PRIM1</text>
<text x="0" y="3.60" transform="translate(438.30 170.71) rotate(0.35) scale(0.38 0.44)" font-size="10" text-anchor="start" fill="#333" stroke="#333" stroke-width="0.9">RFC4</text>
<text x="0" y="3.60" transform="translate(438.30 174.01) rotate(0.35) scale(0.38 0.44)" font-size="10" text-anchor="start" fill="#333" stroke="#333" stroke-width="0.9">SPAG5</text>
<text x="0" y="3.60" transform="translate(438.30 177.30) rotate(0.35) scale(0.38 0.44)" font-size="10" text-anchor="start" fill="#333" stroke="#333" stroke-width="0.9">CKAP2</text>
<text x="0" y="3.60" transform="translate(438.30 180.60) rotate(0.35) scale(0.38 0.44)" font-size="10" text-anchor="start" fill="#333" stroke="#333" stroke-width="0.9">FAM111B</text>
<text x="0" y="3.60" transform="translate(438.30 183.90) rotate(0.35) scale(0.38 0.44)" font-size="10" text-anchor="start" fill="#333" stroke="#333" stroke-width="0.9">STMN1</text>
<text x="0" y="3.60" transform="translate(438.30 187.19) rotate(0.35) scale(0.38 0.44)" font-size="10" text-anchor="start" fill="#333" stroke="#333" stroke-width="0.9">SPC25</text>
<text x="0" y="3.60" transform="translate(438.30 190.49) rotate(0.35) scale(0.38 0.44)" font-size="10" text-anchor="start" fill="#333" stroke="#333" stroke-width="0.9">MCM2</text>
<text x="0" y="3.60" transform="translate(438.30 193.79) rotate(0.35) scale(0.38 0.44)" font-size="10" text-anchor="start" fill="#333" stroke="#333" stroke-width="0.9">TRIM59</text>
<text x="0" y="3.60" transform="translate(438.30 197.08) rotate(0.35) scale(0.38 0.44)" font-size="10" text-anchor="start" fill="#333" stroke="#333" stroke-width="0.9">PRIM2</text>
<text x="0" y="3.60" transform="translate(438.30 200.38) rotate(0.35) scale(0.38 0.44)" font-size="10" text-anchor="start" fill="#333" stroke="#333" stroke-width="0.9">RRM1</text>
<text x="0" y="3.60" transform="translate(438.30 203.68) rotate(0.35) scale(0.38 0.44)" font-size="10" text-anchor="start" fill="#333" stroke="#333" stroke-width="0.9">SPAN14</text>
<text x="0" y="3.60" transform="translate(438.30 206.97) rotate(0.35) scale(0.38 0.44)" font-size="10" text-anchor="start" fill="#333" stroke="#333" stroke-width="0.9">PEG10</text>
<text x="0" y="3.60" transform="translate(438.30 210.27) rotate(0.35) scale(0.38 0.44)" font-size="10" text-anchor="start" fill="#e02020" stroke="#e02020" stroke-width="0.9">ITGA6</text>
<text x="0" y="3.60" transform="translate(438.30 213.57) rotate(0.35) scale(0.38 0.44)" font-size="10" text-anchor="start" fill="#e02020" stroke="#e02020" stroke-width="0.9">CAP2</text>
<text x="0" y="3.60" transform="translate(438.30 216.86) rotate(0.35) scale(0.38 0.44)" font-size="10" text-anchor="start" fill="#333" stroke="#333" stroke-width="0.9">HOXA13</text>
<text x="0" y="3.60" transform="translate(438.30 220.16) rotate(0.35) scale(0.38 0.44)" font-size="10" text-anchor="start" fill="#333" stroke="#333" stroke-width="0.9">TNNI3</text>
<text x="0" y="3.60" transform="translate(438.30 223.46) rotate(0.35) scale(0.38 0.44)" font-size="10" text-anchor="start" fill="#333" stroke="#333" stroke-width="0.9">ALB</text>
<text x="0" y="3.60" transform="translate(438.30 226.75) rotate(0.35) scale(0.38 0.44)" font-size="10" text-anchor="start" fill="#333" stroke="#333" stroke-width="0.9">TNFRSF20</text>
<line x1="460.80" y1="33.90" x2="460.80" y2="227.60" stroke="#444" stroke-width="0.7"/>
<text x="0" y="2.23" transform="translate(467.00 130.50) rotate(-89.95) scale(1.0 1.15)" font-size="6.2" text-anchor="middle" fill="#333" stroke="#333" stroke-width="0.12">59 genes</text>
<text x="0" y="1.26" transform="translate(409.16 31.80) rotate(-89.95) scale(1.0 1.25)" font-size="3.5" text-anchor="start" fill="#333" stroke="#333" stroke-width="0.12">NL</text>
<text x="0" y="1.26" transform="translate(414.09 31.80) rotate(-89.95) scale(1.0 1.25)" font-size="3.5" text-anchor="start" fill="#333" stroke="#333" stroke-width="0.12">CH</text>
<text x="0" y="1.26" transform="translate(419.02 31.80) rotate(-89.95) scale(1.0 1.25)" font-size="3.5" text-anchor="start" fill="#333" stroke="#333" stroke-width="0.12">LC</text>
<text x="0" y="1.26" transform="translate(423.95 31.80) rotate(-89.95) scale(1.0 1.25)" font-size="3.5" text-anchor="start" fill="#333" stroke="#333" stroke-width="0.12">DN</text>
<text x="0" y="1.26" transform="translate(428.88 31.80) rotate(-89.95) scale(1.0 1.25)" font-size="3.5" text-anchor="start" fill="#333" stroke="#333" stroke-width="0.12">eHCC</text>
<text x="0" y="1.26" transform="translate(433.81 31.80) rotate(-89.95) scale(1.0 1.25)" font-size="3.5" text-anchor="start" fill="#333" stroke="#333" stroke-width="0.12">aHCC</text>
<path d="M414.09,22.4 V20.8 H419.02 V22.4" stroke="#808080" stroke-width="0.6" fill="none"/>
<path d="M409.16,22.4 V19.8 H417.5 V20.8" stroke="#808080" stroke-width="0.6" fill="none"/>
<path d="M413.5,19.8 V18.4 H423.95 V22.4" stroke="#808080" stroke-width="0.6" fill="none"/>
<path d="M428.88,22.4 V17.4 H433.81 V22.4" stroke="#808080" stroke-width="0.6" fill="none"/>
<path d="M416.3,18.4 V13.2 H431.5 V17.4" stroke="#808080" stroke-width="0.6" fill="none"/>
<path d="M405.90,35.55H403.73V38.84H405.90M405.90,42.14H405.10V45.44H405.90M405.90,48.73H404.25V52.03H405.90M405.90,55.33H403.50V58.62H405.90M405.90,61.92H403.98V65.22H405.90M405.90,68.51H404.33V71.81H405.90M405.90,75.11H404.26V78.40H405.90M405.90,81.70H404.92V85.00H405.90M405.90,88.29H404.82V91.59H405.90M405.90,94.89H404.81V98.18H405.90M405.90,101.48H404.43V104.78H405.90M405.90,108.07H404.41V111.37H405.90M405.90,114.67H403.52V117.96H405.90M405.90,121.26H404.83V124.56H405.90M405.90,127.85H404.64V131.15H405.90M405.90,134.45H404.60V137.74H405.90M405.90,141.04H404.81V144.34H405.90M405.90,147.63H404.58V150.93H405.90M405.90,154.23H404.68V157.52H405.90M405.90,160.82H404.23V164.12H405.90M405.90,167.41H405.04V170.71H405.90M405.90,174.01H403.44V177.30H405.90M405.90,180.60H404.44V183.90H405.90M405.90,187.19H403.41V190.49H405.90M405.90,193.79H403.86V197.08H405.90M405.90,200.38H403.89V203.68H405.90M404.30,38.84H402.44V45.44H404.30M404.30,52.03H401.78V58.62H404.30M404.30,65.22H402.93V71.81H404.30M404.30,78.40H402.16V85.00H404.30M404.30,91.59H402.69V98.18H404.30M404.30,104.78H402.16V111.37H404.30M404.30,117.96H402.08V124.56H404.30M404.30,131.15H402.87V137.74H404.30M404.30,144.34H402.82V150.93H404.30M404.30,157.52H403.07V164.12H404.30M404.30,170.71H402.78V177.30H404.30M404.30,183.90H402.99V190.49H404.30M404.30,197.08H402.54V203.68H404.30M402.70,35.55V203.68M405.90,34.50H399.4V197.5H405.90M399.4,122.0H386.5V217.8H392.6M405.90,210.27H401.90V213.57H405.90M405.90,216.86H401.90V220.16H405.90M405.90,223.46H401.90V226.75H405.90M401.90,211.92H400.4V203.5H405.90M400.4,211.92M392.6,212.7H399.90M392.6,212.7V223.0H397.90V218.51H401.90M397.90,223.0V225.10H401.90M399.90,212.7V211.92" stroke="#7a7a7a" stroke-width="0.55" fill="none"/>
<text x="0" y="1.30" transform="translate(404.60 233.80) rotate(0.05) scale(1.0 1.15)" font-size="3.6" text-anchor="start" fill="#333" stroke="#333" stroke-width="0.12">row min</text>
<defs><linearGradient id="lg" x1="0" x2="1" y1="0" y2="0"><stop offset="0" stop-color="#0000ff"/><stop offset="0.5" stop-color="#ffffff"/><stop offset="1" stop-color="#ff0000"/></linearGradient></defs>
<rect x="418.80" y="232.00" width="15.00" height="3.30" fill="url(#lg)" stroke="none" stroke-width="1"/>
<text x="0" y="1.30" transform="translate(435.00 233.80) rotate(0.05) scale(1.0 1.15)" font-size="3.6" text-anchor="start" fill="#333" stroke="#333" stroke-width="0.12">row max</text>
<text x="0" y="0" transform="translate(7.60 259.80) rotate(0.05)" font-size="18.0" font-weight="bold" fill="#000" stroke="#000" stroke-width="0.15">d</text>
<text x="0" y="3.17" transform="translate(75.50 256.80) rotate(0.05)" font-size="8.8" text-anchor="middle" fill="#111" stroke="#111" stroke-width="0.12">GSE114564</text>
<path d="M35.50,281.30V266.30H115.50V272.50" stroke="#444" stroke-width="0.9" fill="none"/>
<text x="0" y="2.16" transform="translate(75.50 264.70) rotate(0.05) scale(1.0 1.15)" font-size="6.0" text-anchor="middle" fill="#222" stroke="#222" stroke-width="0.12">***</text>
<path d="M51.60,281.30V274.50H115.50V281.00" stroke="#444" stroke-width="0.9" fill="none"/>
<text x="0" y="2.16" transform="translate(83.55 272.90) rotate(0.05) scale(1.0 1.15)" font-size="6.0" text-anchor="middle" fill="#222" stroke="#222" stroke-width="0.12">***</text>
<path d="M35.50,341.50V283.20H99.60V289.50" stroke="#444" stroke-width="0.9" fill="none"/>
<text x="0" y="2.16" transform="translate(67.55 281.60) rotate(0.05) scale(1.0 1.15)" font-size="6.0" text-anchor="middle" fill="#222" stroke="#222" stroke-width="0.12">***</text>
<path d="M67.70,306.50V291.80H115.50V297.50" stroke="#444" stroke-width="0.9" fill="none"/>
<text x="0" y="2.16" transform="translate(91.60 290.20) rotate(0.05) scale(1.0 1.15)" font-size="6.0" text-anchor="middle" fill="#222" stroke="#222" stroke-width="0.12">***</text>
<path d="M83.30,306.50V300.00H115.50V306.50" stroke="#444" stroke-width="0.9" fill="none"/>
<text x="0" y="2.16" transform="translate(99.40 298.40) rotate(0.05) scale(1.0 1.15)" font-size="6.0" text-anchor="middle" fill="#222" stroke="#222" stroke-width="0.12">***</text>
<path d="M51.60,337.50V308.50H98.90V333.00" stroke="#444" stroke-width="0.9" fill="none"/>
<text x="0" y="2.16" transform="translate(75.25 306.90) rotate(0.05) scale(1.0 1.15)" font-size="6.0" text-anchor="middle" fill="#222" stroke="#222" stroke-width="0.12">***</text>
<path d="M100.30,333.00V308.50H115.50V311.00" stroke="#444" stroke-width="0.9" fill="none"/>
<text x="0" y="2.16" transform="translate(107.90 306.90) rotate(0.05) scale(1.0 1.15)" font-size="6.0" text-anchor="middle" fill="#222" stroke="#222" stroke-width="0.12">**</text>
<line x1="27.70" y1="302.00" x2="27.70" y2="366.30" stroke="#333" stroke-width="0.8"/>
<line x1="27.70" y1="366.30" x2="123.60" y2="366.30" stroke="#333" stroke-width="0.8"/>
<line x1="26.10" y1="366.30" x2="27.70" y2="366.30" stroke="#333" stroke-width="0.7"/>
<text x="0" y="2.23" transform="translate(26.30 366.10) rotate(0.05) scale(1.0 1.05)" font-size="6.2" text-anchor="end" fill="#222" stroke="#222" stroke-width="0.12">2</text>
<line x1="26.10" y1="345.10" x2="27.70" y2="345.10" stroke="#333" stroke-width="0.7"/>
<text x="0" y="2.23" transform="translate(26.30 344.90) rotate(0.05) scale(1.0 1.05)" font-size="6.2" text-anchor="end" fill="#222" stroke="#222" stroke-width="0.12">4</text>
<line x1="26.10" y1="323.90" x2="27.70" y2="323.90" stroke="#333" stroke-width="0.7"/>
<text x="0" y="2.23" transform="translate(26.30 323.70) rotate(0.05) scale(1.0 1.05)" font-size="6.2" text-anchor="end" fill="#222" stroke="#222" stroke-width="0.12">6</text>
<line x1="26.10" y1="302.70" x2="27.70" y2="302.70" stroke="#333" stroke-width="0.7"/>
<text x="0" y="2.23" transform="translate(26.30 302.50) rotate(0.05) scale(1.0 1.05)" font-size="6.2" text-anchor="end" fill="#222" stroke="#222" stroke-width="0.12">8</text>
<line x1="35.50" y1="366.30" x2="35.50" y2="368.50" stroke="#333" stroke-width="0.7"/>
<line x1="51.60" y1="366.30" x2="51.60" y2="368.50" stroke="#333" stroke-width="0.7"/>
<line x1="67.70" y1="366.30" x2="67.70" y2="368.50" stroke="#333" stroke-width="0.7"/>
<line x1="83.30" y1="366.30" x2="83.30" y2="368.50" stroke="#333" stroke-width="0.7"/>
<line x1="99.60" y1="366.30" x2="99.60" y2="368.50" stroke="#333" stroke-width="0.7"/>
<line x1="115.50" y1="366.30" x2="115.50" y2="368.50" stroke="#333" stroke-width="0.7"/>
<text x="0" y="2.05" transform="translate(17.30 333.00) rotate(-89.95) scale(1.0 1.2)" font-size="5.7" text-anchor="middle" fill="#222" stroke="#222" stroke-width="0.12"><tspan font-style="italic">ITGA6</tspan> expression</text>
<line x1="35.50" y1="343.60" x2="35.50" y2="351.00" stroke="#000" stroke-width="0.8"/>
<line x1="35.50" y1="356.40" x2="35.50" y2="359.50" stroke="#000" stroke-width="0.8"/>
<line x1="32.90" y1="343.60" x2="38.10" y2="343.60" stroke="#000" stroke-width="0.8"/>
<line x1="32.90" y1="359.50" x2="38.10" y2="359.50" stroke="#000" stroke-width="0.8"/>
<rect x="30.10" y="351.00" width="10.80" height="5.40" fill="#ffffff" stroke="#111" stroke-width="0.7"/>
<line x1="30.10" y1="353.50" x2="40.90" y2="353.50" stroke="#111" stroke-width="0.7"/>
<path d="M32.75,343.60m-0.9,0a0.9,0.9 0 1,0 1.8,0a0.9,0.9 0 1,0 -1.8,0M37.06,359.50m-0.9,0a0.9,0.9 0 1,0 1.8,0a0.9,0.9 0 1,0 -1.8,0M33.17,354.21m-0.9,0a0.9,0.9 0 1,0 1.8,0a0.9,0.9 0 1,0 -1.8,0M35.60,355.56m-0.9,0a0.9,0.9 0 1,0 1.8,0a0.9,0.9 0 1,0 -1.8,0M34.44,343.65m-0.9,0a0.9,0.9 0 1,0 1.8,0a0.9,0.9 0 1,0 -1.8,0M33.30,356.22m-0.9,0a0.9,0.9 0 1,0 1.8,0a0.9,0.9 0 1,0 -1.8,0M37.46,359.46m-0.9,0a0.9,0.9 0 1,0 1.8,0a0.9,0.9 0 1,0 -1.8,0M31.68,356.26m-0.9,0a0.9,0.9 0 1,0 1.8,0a0.9,0.9 0 1,0 -1.8,0M32.35,351.59m-0.9,0a0.9,0.9 0 1,0 1.8,0a0.9,0.9 0 1,0 -1.8,0M32.67,356.92m-0.9,0a0.9,0.9 0 1,0 1.8,0a0.9,0.9 0 1,0 -1.8,0M35.12,358.35m-0.9,0a0.9,0.9 0 1,0 1.8,0a0.9,0.9 0 1,0 -1.8,0M35.37,353.50m-0.9,0a0.9,0.9 0 1,0 1.8,0a0.9,0.9 0 1,0 -1.8,0M33.32,357.37m-0.9,0a0.9,0.9 0 1,0 1.8,0a0.9,0.9 0 1,0 -1.8,0M38.73,359.00m-0.9,0a0.9,0.9 0 1,0 1.8,0a0.9,0.9 0 1,0 -1.8,0" stroke="none" stroke-width="0" fill="#000"/>
<line x1="51.60" y1="339.40" x2="51.60" y2="348.70" stroke="#000" stroke-width="0.8"/>
<line x1="51.60" y1="356.40" x2="51.60" y2="360.30" stroke="#000" stroke-width="0.8"/>
<line x1="49.00" y1="339.40" x2="54.20" y2="339.40" stroke="#000" stroke-width="0.8"/>
<line x1="49.00" y1="360.30" x2="54.20" y2="360.30" stroke="#000" stroke-width="0.8"/>
<rect x="46.20" y="348.70" width="10.80" height="7.70" fill="#4aa3ec" stroke="#111" stroke-width="0.7"/>
<line x1="46.20" y1="352.00" x2="57.00" y2="352.00" stroke="#111" stroke-width="0.7"/>
<path d="M53.69,339.40m-0.9,0a0.9,0.9 0 1,0 1.8,0a0.9,0.9 0 1,0 -1.8,0M53.76,360.30m-0.9,0a0.9,0.9 0 1,0 1.8,0a0.9,0.9 0 1,0 -1.8,0M48.50,352.68m-0.9,0a0.9,0.9 0 1,0 1.8,0a0.9,0.9 0 1,0 -1.8,0M49.15,351.46m-0.9,0a0.9,0.9 0 1,0 1.8,0a0.9,0.9 0 1,0 -1.8,0M50.86,356.67m-0.9,0a0.9,0.9 0 1,0 1.8,0a0.9,0.9 0 1,0 -1.8,0M50.66,350.17m-0.9,0a0.9,0.9 0 1,0 1.8,0a0.9,0.9 0 1,0 -1.8,0M47.72,357.51m-0.9,0a0.9,0.9 0 1,0 1.8,0a0.9,0.9 0 1,0 -1.8,0M55.65,347.00m-0.9,0a0.9,0.9 0 1,0 1.8,0a0.9,0.9 0 1,0 -1.8,0M52.01,351.69m-0.9,0a0.9,0.9 0 1,0 1.8,0a0.9,0.9 0 1,0 -1.8,0M52.06,352.13m-0.9,0a0.9,0.9 0 1,0 1.8,0a0.9,0.9 0 1,0 -1.8,0M50.35,342.95m-0.9,0a0.9,0.9 0 1,0 1.8,0a0.9,0.9 0 1,0 -1.8,0M52.40,356.72m-0.9,0a0.9,0.9 0 1,0 1.8,0a0.9,0.9 0 1,0 -1.8,0M54.17,340.77m-0.9,0a0.9,0.9 0 1,0 1.8,0a0.9,0.9 0 1,0 -1.8,0M53.10,354.97m-0.9,0a0.9,0.9 0 1,0 1.8,0a0.9,0.9 0 1,0 -1.8,0M55.36,353.79m-0.9,0a0.9,0.9 0 1,0 1.8,0a0.9,0.9 0 1,0 -1.8,0M55.39,350.66m-0.9,0a0.9,0.9 0 1,0 1.8,0a0.9,0.9 0 1,0 -1.8,0M51.53,352.80m-0.9,0a0.9,0.9 0 1,0 1.8,0a0.9,0.9 0 1,0 -1.8,0M48.83,357.71m-0.9,0a0.9,0.9 0 1,0 1.8,0a0.9,0.9 0 1,0 -1.8,0" stroke="none" stroke-width="0" fill="#000"/>
<line x1="67.70" y1="343.60" x2="67.70" y2="344.50" stroke="#000" stroke-width="0.8"/>
<line x1="67.70" y1="350.20" x2="67.70" y2="353.30" stroke="#000" stroke-width="0.8"/>
<line x1="65.10" y1="343.60" x2="70.30" y2="343.60" stroke="#000" stroke-width="0.8"/>
<line x1="65.10" y1="353.30" x2="70.30" y2="353.30" stroke="#000" stroke-width="0.8"/>
<rect x="62.30" y="344.50" width="10.80" height="5.70" fill="#1e32e6" stroke="#111" stroke-width="0.7"/>
<line x1="62.30" y1="347.50" x2="73.10" y2="347.50" stroke="#111" stroke-width="0.7"/>
<path d="M64.17,343.60m-0.9,0a0.9,0.9 0 1,0 1.8,0a0.9,0.9 0 1,0 -1.8,0M70.21,353.30m-0.9,0a0.9,0.9 0 1,0 1.8,0a0.9,0.9 0 1,0 -1.8,0M70.47,349.57m-0.9,0a0.9,0.9 0 1,0 1.8,0a0.9,0.9 0 1,0 -1.8,0M65.98,344.59m-0.9,0a0.9,0.9 0 1,0 1.8,0a0.9,0.9 0 1,0 -1.8,0M66.37,344.27m-0.9,0a0.9,0.9 0 1,0 1.8,0a0.9,0.9 0 1,0 -1.8,0M69.72,350.43m-0.9,0a0.9,0.9 0 1,0 1.8,0a0.9,0.9 0 1,0 -1.8,0M71.47,347.53m-0.9,0a0.9,0.9 0 1,0 1.8,0a0.9,0.9 0 1,0 -1.8,0M63.83,347.86m-0.9,0a0.9,0.9 0 1,0 1.8,0a0.9,0.9 0 1,0 -1.8,0M70.12,345.69m-0.9,0a0.9,0.9 0 1,0 1.8,0a0.9,0.9 0 1,0 -1.8,0" stroke="none" stroke-width="0" fill="#000"/>
<line x1="83.30" y1="344.00" x2="83.30" y2="347.00" stroke="#000" stroke-width="0.8"/>
<line x1="83.30" y1="350.30" x2="83.30" y2="352.50" stroke="#000" stroke-width="0.8"/>
<line x1="80.70" y1="344.00" x2="85.90" y2="344.00" stroke="#000" stroke-width="0.8"/>
<line x1="80.70" y1="352.50" x2="85.90" y2="352.50" stroke="#000" stroke-width="0.8"/>
<rect x="77.90" y="347.00" width="10.80" height="3.30" fill="#a41cf0" stroke="#111" stroke-width="0.7"/>
<line x1="77.90" y1="348.60" x2="88.70" y2="348.60" stroke="#111" stroke-width="0.7"/>
<path d="M86.43,344.00m-0.9,0a0.9,0.9 0 1,0 1.8,0a0.9,0.9 0 1,0 -1.8,0M84.13,352.50m-0.9,0a0.9,0.9 0 1,0 1.8,0a0.9,0.9 0 1,0 -1.8,0M86.17,348.17m-0.9,0a0.9,0.9 0 1,0 1.8,0a0.9,0.9 0 1,0 -1.8,0M81.46,347.60m-0.9,0a0.9,0.9 0 1,0 1.8,0a0.9,0.9 0 1,0 -1.8,0M87.03,349.83m-0.9,0a0.9,0.9 0 1,0 1.8,0a0.9,0.9 0 1,0 -1.8,0M84.48,346.21m-0.9,0a0.9,0.9 0 1,0 1.8,0a0.9,0.9 0 1,0 -1.8,0M81.31,350.24m-0.9,0a0.9,0.9 0 1,0 1.8,0a0.9,0.9 0 1,0 -1.8,0" stroke="none" stroke-width="0" fill="#000"/>
<line x1="99.60" y1="335.00" x2="99.60" y2="338.80" stroke="#000" stroke-width="0.8"/>
<line x1="99.60" y1="347.00" x2="99.60" y2="350.30" stroke="#000" stroke-width="0.8"/>
<line x1="97.00" y1="335.00" x2="102.20" y2="335.00" stroke="#000" stroke-width="0.8"/>
<line x1="97.00" y1="350.30" x2="102.20" y2="350.30" stroke="#000" stroke-width="0.8"/>
<rect x="94.20" y="338.80" width="10.80" height="8.20" fill="#f06cf0" stroke="#111" stroke-width="0.7"/>
<line x1="94.20" y1="343.00" x2="105.00" y2="343.00" stroke="#111" stroke-width="0.7"/>
<path d="M98.83,335.00m-0.9,0a0.9,0.9 0 1,0 1.8,0a0.9,0.9 0 1,0 -1.8,0M103.37,350.30m-0.9,0a0.9,0.9 0 1,0 1.8,0a0.9,0.9 0 1,0 -1.8,0M96.27,336.45m-0.9,0a0.9,0.9 0 1,0 1.8,0a0.9,0.9 0 1,0 -1.8,0M96.65,337.92m-0.9,0a0.9,0.9 0 1,0 1.8,0a0.9,0.9 0 1,0 -1.8,0M96.53,346.62m-0.9,0a0.9,0.9 0 1,0 1.8,0a0.9,0.9 0 1,0 -1.8,0M99.55,343.22m-0.9,0a0.9,0.9 0 1,0 1.8,0a0.9,0.9 0 1,0 -1.8,0M98.60,337.81m-0.9,0a0.9,0.9 0 1,0 1.8,0a0.9,0.9 0 1,0 -1.8,0M95.88,344.99m-0.9,0a0.9,0.9 0 1,0 1.8,0a0.9,0.9 0 1,0 -1.8,0M101.85,345.00m-0.9,0a0.9,0.9 0 1,0 1.8,0a0.9,0.9 0 1,0 -1.8,0M96.02,342.10m-0.9,0a0.9,0.9 0 1,0 1.8,0a0.9,0.9 0 1,0 -1.8,0M97.57,345.89m-0.9,0a0.9,0.9 0 1,0 1.8,0a0.9,0.9 0 1,0 -1.8,0M95.84,344.86m-0.9,0a0.9,0.9 0 1,0 1.8,0a0.9,0.9 0 1,0 -1.8,0M102.89,341.68m-0.9,0a0.9,0.9 0 1,0 1.8,0a0.9,0.9 0 1,0 -1.8,0M100.00,340.71m-0.9,0a0.9,0.9 0 1,0 1.8,0a0.9,0.9 0 1,0 -1.8,0M99.67,344.20m-0.9,0a0.9,0.9 0 1,0 1.8,0a0.9,0.9 0 1,0 -1.8,0M98.04,345.25m-0.9,0a0.9,0.9 0 1,0 1.8,0a0.9,0.9 0 1,0 -1.8,0" stroke="none" stroke-width="0" fill="#000"/>
<line x1="115.50" y1="313.30" x2="115.50" y2="331.80" stroke="#000" stroke-width="0.8"/>
<line x1="115.50" y1="341.10" x2="115.50" y2="348.60" stroke="#000" stroke-width="0.8"/>
<line x1="112.90" y1="313.30" x2="118.10" y2="313.30" stroke="#000" stroke-width="0.8"/>
<line x1="112.90" y1="348.60" x2="118.10" y2="348.60" stroke="#000" stroke-width="0.8"/>
<rect x="110.10" y="331.80" width="10.80" height="9.30" fill="#f01414" stroke="#111" stroke-width="0.7"/>
<line x1="110.10" y1="336.50" x2="120.90" y2="336.50" stroke="#111" stroke-width="0.7"/>
<path d="M117.14,313.30m-0.9,0a0.9,0.9 0 1,0 1.8,0a0.9,0.9 0 1,0 -1.8,0M115.71,348.60m-0.9,0a0.9,0.9 0 1,0 1.8,0a0.9,0.9 0 1,0 -1.8,0M119.41,342.06m-0.9,0a0.9,0.9 0 1,0 1.8,0a0.9,0.9 0 1,0 -1.8,0M119.55,332.32m-0.9,0a0.9,0.9 0 1,0 1.8,0a0.9,0.9 0 1,0 -1.8,0M118.08,315.89m-0.9,0a0.9,0.9 0 1,0 1.8,0a0.9,0.9 0 1,0 -1.8,0M116.50,339.24m-0.9,0a0.9,0.9 0 1,0 1.8,0a0.9,0.9 0 1,0 -1.8,0M115.03,326.59m-0.9,0a0.9,0.9 0 1,0 1.8,0a0.9,0.9 0 1,0 -1.8,0M114.69,335.10m-0.9,0a0.9,0.9 0 1,0 1.8,0a0.9,0.9 0 1,0 -1.8,0M113.42,328.62m-0.9,0a0.9,0.9 0 1,0 1.8,0a0.9,0.9 0 1,0 -1.8,0M117.34,338.29m-0.9,0a0.9,0.9 0 1,0 1.8,0a0.9,0.9 0 1,0 -1.8,0M115.39,326.90m-0.9,0a0.9,0.9 0 1,0 1.8,0a0.9,0.9 0 1,0 -1.8,0M112.10,337.05m-0.9,0a0.9,0.9 0 1,0 1.8,0a0.9,0.9 0 1,0 -1.8,0M117.28,334.45m-0.9,0a0.9,0.9 0 1,0 1.8,0a0.9,0.9 0 1,0 -1.8,0M116.54,341.48m-0.9,0a0.9,0.9 0 1,0 1.8,0a0.9,0.9 0 1,0 -1.8,0M118.45,339.22m-0.9,0a0.9,0.9 0 1,0 1.8,0a0.9,0.9 0 1,0 -1.8,0M113.41,338.20m-0.9,0a0.9,0.9 0 1,0 1.8,0a0.9,0.9 0 1,0 -1.8,0M116.44,341.93m-0.9,0a0.9,0.9 0 1,0 1.8,0a0.9,0.9 0 1,0 -1.8,0M119.52,340.35m-0.9,0a0.9,0.9 0 1,0 1.8,0a0.9,0.9 0 1,0 -1.8,0M113.95,326.36m-0.9,0a0.9,0.9 0 1,0 1.8,0a0.9,0.9 0 1,0 -1.8,0M112.05,332.83m-0.9,0a0.9,0.9 0 1,0 1.8,0a0.9,0.9 0 1,0 -1.8,0M117.49,331.42m-0.9,0a0.9,0.9 0 1,0 1.8,0a0.9,0.9 0 1,0 -1.8,0M117.17,347.05m-0.9,0a0.9,0.9 0 1,0 1.8,0a0.9,0.9 0 1,0 -1.8,0M116.66,329.77m-0.9,0a0.9,0.9 0 1,0 1.8,0a0.9,0.9 0 1,0 -1.8,0M119.20,337.91m-0.9,0a0.9,0.9 0 1,0 1.8,0a0.9,0.9 0 1,0 -1.8,0M118.33,331.76m-0.9,0a0.9,0.9 0 1,0 1.8,0a0.9,0.9 0 1,0 -1.8,0M113.04,328.87m-0.9,0a0.9,0.9 0 1,0 1.8,0a0.9,0.9 0 1,0 -1.8,0M114.51,336.48m-0.9,0a0.9,0.9 0 1,0 1.8,0a0.9,0.9 0 1,0 -1.8,0M114.98,342.34m-0.9,0a0.9,0.9 0 1,0 1.8,0a0.9,0.9 0 1,0 -1.8,0M112.83,336.80m-0.9,0a0.9,0.9 0 1,0 1.8,0a0.9,0.9 0 1,0 -1.8,0M112.94,332.83m-0.9,0a0.9,0.9 0 1,0 1.8,0a0.9,0.9 0 1,0 -1.8,0" stroke="none" stroke-width="0" fill="#000"/>
<text x="0" y="2.20" transform="translate(35.30 371.40) rotate(-44.95)" font-size="6.1" text-anchor="end" fill="#222" stroke="#222" stroke-width="0.12">NL</text>
<text x="0" y="2.20" transform="translate(51.40 371.40) rotate(-44.95)" font-size="6.1" text-anchor="end" fill="#222" stroke="#222" stroke-width="0.12">CH</text>
<text x="0" y="2.20" transform="translate(67.50 371.40) rotate(-44.95)" font-size="6.1" text-anchor="end" fill="#222" stroke="#222" stroke-width="0.12">LC</text>
<text x="0" y="2.20" transform="translate(83.10 371.40) rotate(-44.95)" font-size="6.1" text-anchor="end" fill="#222" stroke="#222" stroke-width="0.12">DN</text>
<text x="0" y="2.20" transform="translate(99.40 371.40) rotate(-44.95)" font-size="6.1" text-anchor="end" fill="#222" stroke="#222" stroke-width="0.12">eHCC</text>
<text x="0" y="2.20" transform="translate(115.30 371.40) rotate(-44.95)" font-size="6.1" text-anchor="end" fill="#222" stroke="#222" stroke-width="0.12">aHCC</text>
<text x="0" y="3.17" transform="translate(192.85 265.70) rotate(0.05)" font-size="8.8" text-anchor="middle" fill="#111" stroke="#111" stroke-width="0.12">GSE114564</text>
<line x1="152.30" y1="354.00" x2="232.40" y2="274.70" stroke="#444" stroke-width="0.75" stroke-dasharray="1.4 0.9"/>
<polyline points="152.30,354.00 152.30,316.73 153.26,316.73 153.26,295.32 154.30,295.32 154.30,291.35 155.50,291.35 155.50,290.56 159.51,290.56 159.51,288.97 160.71,288.97 160.71,286.59 163.11,286.59 163.11,285.01 164.15,285.01 164.15,282.63 168.32,282.63 168.32,281.44 169.92,281.44 169.92,279.85 171.52,279.85 171.52,278.27 172.73,278.27 172.73,276.68 174.33,276.68 174.33,275.26 181.14,275.26 181.14,274.70 232.40,274.70" fill="none" stroke="#b80000" stroke-width="2.2" stroke-linejoin="miter"/>
<rect x="152.30" y="274.70" width="80.10" height="79.30" fill="none" stroke="#333" stroke-width="0.8"/>
<line x1="149.70" y1="354.00" x2="152.30" y2="354.00" stroke="#333" stroke-width="0.7"/>
<text x="0" y="2.45" transform="translate(149.10 354.00) rotate(0.05) scale(1.0 1.15)" font-size="6.8" text-anchor="end" fill="#222" stroke="#222" stroke-width="0.12">0</text>
<line x1="152.30" y1="354.00" x2="152.30" y2="356.60" stroke="#333" stroke-width="0.7"/>
<text x="0" y="2.45" transform="translate(152.30 361.00) rotate(0.05) scale(1.0 1.15)" font-size="6.8" text-anchor="middle" fill="#222" stroke="#222" stroke-width="0.12">0</text>
<line x1="149.70" y1="338.14" x2="152.30" y2="338.14" stroke="#333" stroke-width="0.7"/>
<text x="0" y="2.45" transform="translate(149.10 338.14) rotate(0.05) scale(1.0 1.15)" font-size="6.8" text-anchor="end" fill="#222" stroke="#222" stroke-width="0.12">20</text>
<line x1="168.32" y1="354.00" x2="168.32" y2="356.60" stroke="#333" stroke-width="0.7"/>
<text x="0" y="2.45" transform="translate(168.32 361.00) rotate(0.05) scale(1.0 1.15)" font-size="6.8" text-anchor="middle" fill="#222" stroke="#222" stroke-width="0.12">20</text>
<line x1="149.70" y1="322.28" x2="152.30" y2="322.28" stroke="#333" stroke-width="0.7"/>
<text x="0" y="2.45" transform="translate(149.10 322.28) rotate(0.05) scale(1.0 1.15)" font-size="6.8" text-anchor="end" fill="#222" stroke="#222" stroke-width="0.12">40</text>
<line x1="184.34" y1="354.00" x2="184.34" y2="356.60" stroke="#333" stroke-width="0.7"/>
<text x="0" y="2.45" transform="translate(184.34 361.00) rotate(0.05) scale(1.0 1.15)" font-size="6.8" text-anchor="middle" fill="#222" stroke="#222" stroke-width="0.12">40</text>
<line x1="149.70" y1="306.42" x2="152.30" y2="306.42" stroke="#333" stroke-width="0.7"/>
<text x="0" y="2.45" transform="translate(149.10 306.42) rotate(0.05) scale(1.0 1.15)" font-size="6.8" text-anchor="end" fill="#222" stroke="#222" stroke-width="0.12">60</text>
<line x1="200.36" y1="354.00" x2="200.36" y2="356.60" stroke="#333" stroke-width="0.7"/>
<text x="0" y="2.45" transform="translate(200.36 361.00) rotate(0.05) scale(1.0 1.15)" font-size="6.8" text-anchor="middle" fill="#222" stroke="#222" stroke-width="0.12">60</text>
<line x1="149.70" y1="290.56" x2="152.30" y2="290.56" stroke="#333" stroke-width="0.7"/>
<text x="0" y="2.45" transform="translate(149.10 290.56) rotate(0.05) scale(1.0 1.15)" font-size="6.8" text-anchor="end" fill="#222" stroke="#222" stroke-width="0.12">80</text>
<line x1="216.38" y1="354.00" x2="216.38" y2="356.60" stroke="#333" stroke-width="0.7"/>
<text x="0" y="2.45" transform="translate(216.38 361.00) rotate(0.05) scale(1.0 1.15)" font-size="6.8" text-anchor="middle" fill="#222" stroke="#222" stroke-width="0.12">80</text>
<line x1="149.70" y1="274.70" x2="152.30" y2="274.70" stroke="#333" stroke-width="0.7"/>
<text x="0" y="2.45" transform="translate(149.10 274.70) rotate(0.05) scale(1.0 1.15)" font-size="6.8" text-anchor="end" fill="#222" stroke="#222" stroke-width="0.12">100</text>
<line x1="232.40" y1="354.00" x2="232.40" y2="356.60" stroke="#333" stroke-width="0.7"/>
<text x="0" y="2.45" transform="translate(232.40 361.00) rotate(0.05) scale(1.0 1.15)" font-size="6.8" text-anchor="middle" fill="#222" stroke="#222" stroke-width="0.12">100</text>
<text x="0" y="2.48" transform="translate(192.35 369.80) rotate(0.05) scale(1.0 1.15)" font-size="6.9" text-anchor="middle" fill="#222" stroke="#222" stroke-width="0.12">100% - Specificity (%)</text>
<text x="0" y="2.56" transform="translate(132.50 313.35) rotate(-89.95) scale(1.0 1.15)" font-size="7.1" text-anchor="middle" fill="#222" stroke="#222" stroke-width="0.12">Sensitivity (%)</text>
<text x="0" y="2.27" transform="translate(229.90 333.50) rotate(0.05) scale(1.0 1.15)" font-size="6.3" text-anchor="end" fill="#222" stroke="#222" stroke-width="0.12">AUC = 0.95</text>
<text x="0" y="2.27" transform="translate(229.90 340.60) rotate(0.05) scale(1.0 1.15)" font-size="6.3" text-anchor="end" fill="#222" stroke="#222" stroke-width="0.12">95% CI:0.92 — 0.99</text>
<text x="0" y="2.27" transform="translate(229.90 347.60) rotate(0.05) scale(1.0 1.15)" font-size="6.3" text-anchor="end" fill="#222" stroke="#222" stroke-width="0.12"><tspan font-style="italic">P</tspan> &lt; 0.0001</text>
<text x="0" y="0" transform="translate(242.60 260.10) rotate(0.05)" font-size="18.0" font-weight="bold" fill="#000" stroke="#000" stroke-width="0.15">e</text>
<text x="0" y="3.17" transform="translate(310.60 266.40) rotate(0.05)" font-size="8.8" text-anchor="middle" fill="#111" stroke="#111" stroke-width="0.12">GSE6764</text>
<path d="M270.40,291.80V277.70H346.80V304.00" stroke="#444" stroke-width="0.9" fill="none"/>
<text x="0" y="2.16" transform="translate(308.60 274.80) rotate(0.05) scale(1.0 1.15)" font-size="6.0" text-anchor="middle" fill="#222" stroke="#222" stroke-width="0.12">****</text>
<path d="M289.50,291.80V285.60H346.80V304.00" stroke="#444" stroke-width="0.9" fill="none"/>
<text x="0" y="2.16" transform="translate(318.15 282.80) rotate(0.05) scale(1.0 1.15)" font-size="6.0" text-anchor="middle" fill="#222" stroke="#222" stroke-width="0.12">****</text>
<path d="M270.40,311.70V294.70H327.60V297.50" stroke="#444" stroke-width="0.9" fill="none"/>
<text x="0" y="2.16" transform="translate(299.00 291.70) rotate(0.05) scale(1.0 1.15)" font-size="6.0" text-anchor="middle" fill="#222" stroke="#222" stroke-width="0.12">****</text>
<path d="M308.60,316.40V303.80H346.80V310.00" stroke="#444" stroke-width="0.9" fill="none"/>
<text x="0" y="2.16" transform="translate(327.70 301.00) rotate(0.05) scale(1.0 1.15)" font-size="6.0" text-anchor="middle" fill="#222" stroke="#222" stroke-width="0.12">****</text>
<path d="M270.40,321.10V313.20H308.60V316.40" stroke="#444" stroke-width="0.9" fill="none"/>
<text x="0" y="2.16" transform="translate(289.50 310.60) rotate(0.05) scale(1.0 1.15)" font-size="6.0" text-anchor="middle" fill="#222" stroke="#222" stroke-width="0.12">****</text>
<path d="M327.60,317.40V312.10H346.80V310.00" stroke="#444" stroke-width="0.9" fill="none"/>
<text x="0" y="2.16" transform="translate(337.20 309.40) rotate(0.05) scale(1.0 1.15)" font-size="6.0" text-anchor="middle" fill="#222" stroke="#222" stroke-width="0.12">**</text>
<path d="M308.60,326.80V319.60H327.60V325.90" stroke="#444" stroke-width="0.9" fill="none"/>
<text x="0" y="2.16" transform="translate(318.10 316.80) rotate(0.05) scale(1.0 1.15)" font-size="6.0" text-anchor="middle" fill="#222" stroke="#222" stroke-width="0.12">*</text>
<path d="M270.40,343.50V323.40H289.50V328.70" stroke="#444" stroke-width="0.9" fill="none"/>
<text x="0" y="2.16" transform="translate(279.95 320.80) rotate(0.05) scale(1.0 1.15)" font-size="6.0" text-anchor="middle" fill="#222" stroke="#222" stroke-width="0.12">****</text>
<line x1="260.50" y1="302.30" x2="260.50" y2="366.50" stroke="#333" stroke-width="0.8"/>
<line x1="260.50" y1="366.50" x2="356.40" y2="366.50" stroke="#333" stroke-width="0.8"/>
<line x1="258.90" y1="355.70" x2="260.50" y2="355.70" stroke="#333" stroke-width="0.7"/>
<text x="0" y="2.23" transform="translate(259.10 355.50) rotate(0.05) scale(1.0 1.05)" font-size="6.2" text-anchor="end" fill="#222" stroke="#222" stroke-width="0.12">6</text>
<line x1="258.90" y1="334.40" x2="260.50" y2="334.40" stroke="#333" stroke-width="0.7"/>
<text x="0" y="2.23" transform="translate(259.10 334.20) rotate(0.05) scale(1.0 1.05)" font-size="6.2" text-anchor="end" fill="#222" stroke="#222" stroke-width="0.12">8</text>
<line x1="258.90" y1="313.10" x2="260.50" y2="313.10" stroke="#333" stroke-width="0.7"/>
<text x="0" y="2.23" transform="translate(259.10 312.90) rotate(0.05) scale(1.0 1.05)" font-size="6.2" text-anchor="end" fill="#222" stroke="#222" stroke-width="0.12">10</text>
<line x1="270.40" y1="366.50" x2="270.40" y2="368.70" stroke="#333" stroke-width="0.7"/>
<line x1="289.50" y1="366.50" x2="289.50" y2="368.70" stroke="#333" stroke-width="0.7"/>
<line x1="308.60" y1="366.50" x2="308.60" y2="368.70" stroke="#333" stroke-width="0.7"/>
<line x1="327.60" y1="366.50" x2="327.60" y2="368.70" stroke="#333" stroke-width="0.7"/>
<line x1="346.80" y1="366.50" x2="346.80" y2="368.70" stroke="#333" stroke-width="0.7"/>
<text x="0" y="2.09" transform="translate(246.60 333.00) rotate(-89.95) scale(1.0 1.2)" font-size="5.8" text-anchor="middle" fill="#222" stroke="#222" stroke-width="0.12"><tspan font-style="italic">ITGA6</tspan> expression</text>
<line x1="270.40" y1="344.50" x2="270.40" y2="348.20" stroke="#000" stroke-width="0.8"/>
<line x1="270.40" y1="356.40" x2="270.40" y2="358.80" stroke="#000" stroke-width="0.8"/>
<line x1="267.80" y1="344.50" x2="273.00" y2="344.50" stroke="#000" stroke-width="0.8"/>
<line x1="267.80" y1="358.80" x2="273.00" y2="358.80" stroke="#000" stroke-width="0.8"/>
<rect x="264.00" y="348.20" width="12.80" height="8.20" fill="#ffffff" stroke="#111" stroke-width="0.7"/>
<line x1="264.00" y1="351.80" x2="276.80" y2="351.80" stroke="#111" stroke-width="0.7"/>
<path d="M271.08,344.50m-0.9,0a0.9,0.9 0 1,0 1.8,0a0.9,0.9 0 1,0 -1.8,0M271.69,358.80m-0.9,0a0.9,0.9 0 1,0 1.8,0a0.9,0.9 0 1,0 -1.8,0M271.88,355.28m-0.9,0a0.9,0.9 0 1,0 1.8,0a0.9,0.9 0 1,0 -1.8,0M267.35,356.02m-0.9,0a0.9,0.9 0 1,0 1.8,0a0.9,0.9 0 1,0 -1.8,0M270.43,353.63m-0.9,0a0.9,0.9 0 1,0 1.8,0a0.9,0.9 0 1,0 -1.8,0M269.87,356.78m-0.9,0a0.9,0.9 0 1,0 1.8,0a0.9,0.9 0 1,0 -1.8,0M268.47,356.55m-0.9,0a0.9,0.9 0 1,0 1.8,0a0.9,0.9 0 1,0 -1.8,0M266.05,350.19m-0.9,0a0.9,0.9 0 1,0 1.8,0a0.9,0.9 0 1,0 -1.8,0" stroke="none" stroke-width="0" fill="#000"/>
<line x1="289.50" y1="329.40" x2="289.50" y2="335.30" stroke="#000" stroke-width="0.8"/>
<line x1="289.50" y1="342.00" x2="289.50" y2="349.20" stroke="#000" stroke-width="0.8"/>
<line x1="286.90" y1="329.40" x2="292.10" y2="329.40" stroke="#000" stroke-width="0.8"/>
<line x1="286.90" y1="349.20" x2="292.10" y2="349.20" stroke="#000" stroke-width="0.8"/>
<rect x="283.10" y="335.30" width="12.80" height="6.70" fill="#1e1ef0" stroke="#111" stroke-width="0.7"/>
<line x1="283.10" y1="338.50" x2="295.90" y2="338.50" stroke="#111" stroke-width="0.7"/>
<path d="M290.55,329.40m-0.9,0a0.9,0.9 0 1,0 1.8,0a0.9,0.9 0 1,0 -1.8,0M291.79,349.20m-0.9,0a0.9,0.9 0 1,0 1.8,0a0.9,0.9 0 1,0 -1.8,0M293.66,338.06m-0.9,0a0.9,0.9 0 1,0 1.8,0a0.9,0.9 0 1,0 -1.8,0M285.78,339.44m-0.9,0a0.9,0.9 0 1,0 1.8,0a0.9,0.9 0 1,0 -1.8,0M287.40,334.13m-0.9,0a0.9,0.9 0 1,0 1.8,0a0.9,0.9 0 1,0 -1.8,0M291.93,335.80m-0.9,0a0.9,0.9 0 1,0 1.8,0a0.9,0.9 0 1,0 -1.8,0M287.00,334.84m-0.9,0a0.9,0.9 0 1,0 1.8,0a0.9,0.9 0 1,0 -1.8,0M287.60,339.79m-0.9,0a0.9,0.9 0 1,0 1.8,0a0.9,0.9 0 1,0 -1.8,0M284.96,331.58m-0.9,0a0.9,0.9 0 1,0 1.8,0a0.9,0.9 0 1,0 -1.8,0M290.08,342.81m-0.9,0a0.9,0.9 0 1,0 1.8,0a0.9,0.9 0 1,0 -1.8,0M287.72,331.77m-0.9,0a0.9,0.9 0 1,0 1.8,0a0.9,0.9 0 1,0 -1.8,0M286.61,334.14m-0.9,0a0.9,0.9 0 1,0 1.8,0a0.9,0.9 0 1,0 -1.8,0" stroke="none" stroke-width="0" fill="#000"/>
<line x1="308.60" y1="327.70" x2="308.60" y2="333.20" stroke="#000" stroke-width="0.8"/>
<line x1="308.60" y1="343.20" x2="308.60" y2="354.80" stroke="#000" stroke-width="0.8"/>
<line x1="306.00" y1="327.70" x2="311.20" y2="327.70" stroke="#000" stroke-width="0.8"/>
<line x1="306.00" y1="354.80" x2="311.20" y2="354.80" stroke="#000" stroke-width="0.8"/>
<rect x="302.20" y="333.20" width="12.80" height="10.00" fill="#a41cf0" stroke="#111" stroke-width="0.7"/>
<line x1="302.20" y1="338.00" x2="315.00" y2="338.00" stroke="#111" stroke-width="0.7"/>
<path d="M305.61,327.70m-0.9,0a0.9,0.9 0 1,0 1.8,0a0.9,0.9 0 1,0 -1.8,0M310.10,354.80m-0.9,0a0.9,0.9 0 1,0 1.8,0a0.9,0.9 0 1,0 -1.8,0M307.22,338.48m-0.9,0a0.9,0.9 0 1,0 1.8,0a0.9,0.9 0 1,0 -1.8,0M306.73,339.71m-0.9,0a0.9,0.9 0 1,0 1.8,0a0.9,0.9 0 1,0 -1.8,0M307.42,332.61m-0.9,0a0.9,0.9 0 1,0 1.8,0a0.9,0.9 0 1,0 -1.8,0M303.88,351.35m-0.9,0a0.9,0.9 0 1,0 1.8,0a0.9,0.9 0 1,0 -1.8,0M306.80,339.75m-0.9,0a0.9,0.9 0 1,0 1.8,0a0.9,0.9 0 1,0 -1.8,0M305.32,345.00m-0.9,0a0.9,0.9 0 1,0 1.8,0a0.9,0.9 0 1,0 -1.8,0M304.06,339.04m-0.9,0a0.9,0.9 0 1,0 1.8,0a0.9,0.9 0 1,0 -1.8,0M310.83,332.87m-0.9,0a0.9,0.9 0 1,0 1.8,0a0.9,0.9 0 1,0 -1.8,0M308.67,338.55m-0.9,0a0.9,0.9 0 1,0 1.8,0a0.9,0.9 0 1,0 -1.8,0M313.09,335.49m-0.9,0a0.9,0.9 0 1,0 1.8,0a0.9,0.9 0 1,0 -1.8,0M311.55,338.46m-0.9,0a0.9,0.9 0 1,0 1.8,0a0.9,0.9 0 1,0 -1.8,0M310.66,332.72m-0.9,0a0.9,0.9 0 1,0 1.8,0a0.9,0.9 0 1,0 -1.8,0" stroke="none" stroke-width="0" fill="#000"/>
<line x1="327.60" y1="326.00" x2="327.60" y2="330.10" stroke="#000" stroke-width="0.8"/>
<line x1="327.60" y1="335.80" x2="327.60" y2="341.00" stroke="#000" stroke-width="0.8"/>
<line x1="325.00" y1="326.00" x2="330.20" y2="326.00" stroke="#000" stroke-width="0.8"/>
<line x1="325.00" y1="341.00" x2="330.20" y2="341.00" stroke="#000" stroke-width="0.8"/>
<rect x="321.20" y="330.10" width="12.80" height="5.70" fill="#f06cf0" stroke="#111" stroke-width="0.7"/>
<line x1="321.20" y1="333.00" x2="334.00" y2="333.00" stroke="#111" stroke-width="0.7"/>
<path d="M328.79,326.00m-0.9,0a0.9,0.9 0 1,0 1.8,0a0.9,0.9 0 1,0 -1.8,0M325.52,341.00m-0.9,0a0.9,0.9 0 1,0 1.8,0a0.9,0.9 0 1,0 -1.8,0M332.13,334.16m-0.9,0a0.9,0.9 0 1,0 1.8,0a0.9,0.9 0 1,0 -1.8,0M330.61,335.93m-0.9,0a0.9,0.9 0 1,0 1.8,0a0.9,0.9 0 1,0 -1.8,0M330.04,336.73m-0.9,0a0.9,0.9 0 1,0 1.8,0a0.9,0.9 0 1,0 -1.8,0M331.01,333.85m-0.9,0a0.9,0.9 0 1,0 1.8,0a0.9,0.9 0 1,0 -1.8,0M324.95,334.18m-0.9,0a0.9,0.9 0 1,0 1.8,0a0.9,0.9 0 1,0 -1.8,0M328.41,329.65m-0.9,0a0.9,0.9 0 1,0 1.8,0a0.9,0.9 0 1,0 -1.8,0M331.98,328.83m-0.9,0a0.9,0.9 0 1,0 1.8,0a0.9,0.9 0 1,0 -1.8,0M330.25,329.48m-0.9,0a0.9,0.9 0 1,0 1.8,0a0.9,0.9 0 1,0 -1.8,0M329.35,333.74m-0.9,0a0.9,0.9 0 1,0 1.8,0a0.9,0.9 0 1,0 -1.8,0M326.76,328.93m-0.9,0a0.9,0.9 0 1,0 1.8,0a0.9,0.9 0 1,0 -1.8,0M324.08,336.65m-0.9,0a0.9,0.9 0 1,0 1.8,0a0.9,0.9 0 1,0 -1.8,0M330.44,337.71m-0.9,0a0.9,0.9 0 1,0 1.8,0a0.9,0.9 0 1,0 -1.8,0" stroke="none" stroke-width="0" fill="#000"/>
<line x1="346.80" y1="309.40" x2="346.80" y2="318.00" stroke="#000" stroke-width="0.8"/>
<line x1="346.80" y1="333.20" x2="346.80" y2="337.50" stroke="#000" stroke-width="0.8"/>
<line x1="344.20" y1="309.40" x2="349.40" y2="309.40" stroke="#000" stroke-width="0.8"/>
<line x1="344.20" y1="337.50" x2="349.40" y2="337.50" stroke="#000" stroke-width="0.8"/>
<rect x="340.40" y="318.00" width="12.80" height="15.20" fill="#f01414" stroke="#111" stroke-width="0.7"/>
<line x1="340.40" y1="325.50" x2="353.20" y2="325.50" stroke="#111" stroke-width="0.7"/>
<path d="M344.15,309.40m-0.9,0a0.9,0.9 0 1,0 1.8,0a0.9,0.9 0 1,0 -1.8,0M343.03,337.50m-0.9,0a0.9,0.9 0 1,0 1.8,0a0.9,0.9 0 1,0 -1.8,0M349.14,322.41m-0.9,0a0.9,0.9 0 1,0 1.8,0a0.9,0.9 0 1,0 -1.8,0M349.28,331.96m-0.9,0a0.9,0.9 0 1,0 1.8,0a0.9,0.9 0 1,0 -1.8,0M350.33,309.58m-0.9,0a0.9,0.9 0 1,0 1.8,0a0.9,0.9 0 1,0 -1.8,0M343.18,327.22m-0.9,0a0.9,0.9 0 1,0 1.8,0a0.9,0.9 0 1,0 -1.8,0M346.76,321.76m-0.9,0a0.9,0.9 0 1,0 1.8,0a0.9,0.9 0 1,0 -1.8,0M343.91,311.71m-0.9,0a0.9,0.9 0 1,0 1.8,0a0.9,0.9 0 1,0 -1.8,0M343.20,321.05m-0.9,0a0.9,0.9 0 1,0 1.8,0a0.9,0.9 0 1,0 -1.8,0M346.41,330.68m-0.9,0a0.9,0.9 0 1,0 1.8,0a0.9,0.9 0 1,0 -1.8,0M342.70,310.06m-0.9,0a0.9,0.9 0 1,0 1.8,0a0.9,0.9 0 1,0 -1.8,0M344.39,321.85m-0.9,0a0.9,0.9 0 1,0 1.8,0a0.9,0.9 0 1,0 -1.8,0" stroke="none" stroke-width="0" fill="#000"/>
<text x="0" y="2.20" transform="translate(270.20 371.40) rotate(-44.95)" font-size="6.1" text-anchor="end" fill="#222" stroke="#222" stroke-width="0.12">NL</text>
<text x="0" y="2.20" transform="translate(289.30 371.40) rotate(-44.95)" font-size="6.1" text-anchor="end" fill="#222" stroke="#222" stroke-width="0.12">LC</text>
<text x="0" y="2.20" transform="translate(308.40 371.40) rotate(-44.95)" font-size="6.1" text-anchor="end" fill="#222" stroke="#222" stroke-width="0.12">DN</text>
<text x="0" y="2.20" transform="translate(327.40 371.40) rotate(-44.95)" font-size="6.1" text-anchor="end" fill="#222" stroke="#222" stroke-width="0.12">eHCC</text>
<text x="0" y="2.20" transform="translate(346.60 371.40) rotate(-44.95)" font-size="6.1" text-anchor="end" fill="#222" stroke="#222" stroke-width="0.12">aHCC</text>
<text x="0" y="3.17" transform="translate(422.80 265.70) rotate(0.05)" font-size="8.8" text-anchor="middle" fill="#111" stroke="#111" stroke-width="0.12">GSE6764</text>
<line x1="382.20" y1="354.00" x2="462.40" y2="274.70" stroke="#444" stroke-width="0.75" stroke-dasharray="1.4 0.9"/>
<polyline points="382.20,354.00 382.20,330.21 383.80,328.62 383.80,320.69 385.41,318.31 390.22,318.31 391.82,314.35 391.82,308.80 395.83,308.80 397.44,306.42 398.24,306.42 398.24,284.22 404.66,284.22 406.26,281.04 408.67,278.66 410.27,277.08 418.29,277.08 418.29,274.70 462.40,274.70" fill="none" stroke="#b80000" stroke-width="1.3" stroke-linejoin="miter"/>
<rect x="382.20" y="274.70" width="80.20" height="79.30" fill="none" stroke="#333" stroke-width="0.8"/>
<line x1="379.60" y1="354.00" x2="382.20" y2="354.00" stroke="#333" stroke-width="0.7"/>
<text x="0" y="2.45" transform="translate(379.00 354.00) rotate(0.05) scale(1.0 1.15)" font-size="6.8" text-anchor="end" fill="#222" stroke="#222" stroke-width="0.12">0</text>
<line x1="382.20" y1="354.00" x2="382.20" y2="356.60" stroke="#333" stroke-width="0.7"/>
<text x="0" y="2.45" transform="translate(382.20 361.00) rotate(0.05) scale(1.0 1.15)" font-size="6.8" text-anchor="middle" fill="#222" stroke="#222" stroke-width="0.12">0</text>
<line x1="379.60" y1="338.14" x2="382.20" y2="338.14" stroke="#333" stroke-width="0.7"/>
<text x="0" y="2.45" transform="translate(379.00 338.14) rotate(0.05) scale(1.0 1.15)" font-size="6.8" text-anchor="end" fill="#222" stroke="#222" stroke-width="0.12">20</text>
<line x1="398.24" y1="354.00" x2="398.24" y2="356.60" stroke="#333" stroke-width="0.7"/>
<text x="0" y="2.45" transform="translate(398.24 361.00) rotate(0.05) scale(1.0 1.15)" font-size="6.8" text-anchor="middle" fill="#222" stroke="#222" stroke-width="0.12">20</text>
<line x1="379.60" y1="322.28" x2="382.20" y2="322.28" stroke="#333" stroke-width="0.7"/>
<text x="0" y="2.45" transform="translate(379.00 322.28) rotate(0.05) scale(1.0 1.15)" font-size="6.8" text-anchor="end" fill="#222" stroke="#222" stroke-width="0.12">40</text>
<line x1="414.28" y1="354.00" x2="414.28" y2="356.60" stroke="#333" stroke-width="0.7"/>
<text x="0" y="2.45" transform="translate(414.28 361.00) rotate(0.05) scale(1.0 1.15)" font-size="6.8" text-anchor="middle" fill="#222" stroke="#222" stroke-width="0.12">40</text>
<line x1="379.60" y1="306.42" x2="382.20" y2="306.42" stroke="#333" stroke-width="0.7"/>
<text x="0" y="2.45" transform="translate(379.00 306.42) rotate(0.05) scale(1.0 1.15)" font-size="6.8" text-anchor="end" fill="#222" stroke="#222" stroke-width="0.12">60</text>
<line x1="430.32" y1="354.00" x2="430.32" y2="356.60" stroke="#333" stroke-width="0.7"/>
<text x="0" y="2.45" transform="translate(430.32 361.00) rotate(0.05) scale(1.0 1.15)" font-size="6.8" text-anchor="middle" fill="#222" stroke="#222" stroke-width="0.12">60</text>
<line x1="379.60" y1="290.56" x2="382.20" y2="290.56" stroke="#333" stroke-width="0.7"/>
<text x="0" y="2.45" transform="translate(379.00 290.56) rotate(0.05) scale(1.0 1.15)" font-size="6.8" text-anchor="end" fill="#222" stroke="#222" stroke-width="0.12">80</text>
<line x1="446.36" y1="354.00" x2="446.36" y2="356.60" stroke="#333" stroke-width="0.7"/>
<text x="0" y="2.45" transform="translate(446.36 361.00) rotate(0.05) scale(1.0 1.15)" font-size="6.8" text-anchor="middle" fill="#222" stroke="#222" stroke-width="0.12">80</text>
<line x1="379.60" y1="274.70" x2="382.20" y2="274.70" stroke="#333" stroke-width="0.7"/>
<text x="0" y="2.45" transform="translate(379.00 274.70) rotate(0.05) scale(1.0 1.15)" font-size="6.8" text-anchor="end" fill="#222" stroke="#222" stroke-width="0.12">100</text>
<line x1="462.40" y1="354.00" x2="462.40" y2="356.60" stroke="#333" stroke-width="0.7"/>
<text x="0" y="2.45" transform="translate(462.40 361.00) rotate(0.05) scale(1.0 1.15)" font-size="6.8" text-anchor="middle" fill="#222" stroke="#222" stroke-width="0.12">100</text>
<text x="0" y="2.48" transform="translate(422.30 369.80) rotate(0.05) scale(1.0 1.15)" font-size="6.9" text-anchor="middle" fill="#222" stroke="#222" stroke-width="0.12">100% - Specificity (%)</text>
<text x="0" y="2.56" transform="translate(362.40 313.35) rotate(-89.95) scale(1.0 1.15)" font-size="7.1" text-anchor="middle" fill="#222" stroke="#222" stroke-width="0.12">Sensitivity (%)</text>
<text x="0" y="2.27" transform="translate(459.90 333.50) rotate(0.05) scale(1.0 1.15)" font-size="6.3" text-anchor="end" fill="#222" stroke="#222" stroke-width="0.12">AUC = 0.88</text>
<text x="0" y="2.27" transform="translate(459.90 340.60) rotate(0.05) scale(1.0 1.15)" font-size="6.3" text-anchor="end" fill="#222" stroke="#222" stroke-width="0.12">95% CI:0.80 — 0.95</text>
<text x="0" y="2.27" transform="translate(459.90 347.60) rotate(0.05) scale(1.0 1.15)" font-size="6.3" text-anchor="end" fill="#222" stroke="#222" stroke-width="0.12"><tspan font-style="italic">P</tspan> &lt; 0.0001</text>
<path d="M381.20,353.00h2.0v2.0h-2.0zM381.20,350.84h2.0v2.0h-2.0zM381.20,348.67h2.0v2.0h-2.0zM381.20,346.51h2.0v2.0h-2.0zM381.20,344.35h2.0v2.0h-2.0zM381.20,342.19h2.0v2.0h-2.0zM381.20,340.02h2.0v2.0h-2.0zM381.20,337.86h2.0v2.0h-2.0zM381.20,335.70h2.0v2.0h-2.0zM381.20,333.54h2.0v2.0h-2.0zM381.20,331.37h2.0v2.0h-2.0zM381.20,329.21h2.0v2.0h-2.0zM382.80,327.62h2.0v2.0h-2.0zM382.80,324.98h2.0v2.0h-2.0zM382.80,322.34h2.0v2.0h-2.0zM382.80,319.69h2.0v2.0h-2.0zM384.41,317.31h2.0v2.0h-2.0zM386.81,317.31h2.0v2.0h-2.0zM389.22,317.31h2.0v2.0h-2.0zM390.82,313.35h2.0v2.0h-2.0zM390.82,310.57h2.0v2.0h-2.0zM390.82,307.80h2.0v2.0h-2.0zM394.83,307.80h2.0v2.0h-2.0zM396.44,305.42h2.0v2.0h-2.0zM397.24,305.42h2.0v2.0h-2.0zM397.24,303.20h2.0v2.0h-2.0zM397.24,300.98h2.0v2.0h-2.0zM397.24,298.76h2.0v2.0h-2.0zM397.24,296.54h2.0v2.0h-2.0zM397.24,294.32h2.0v2.0h-2.0zM397.24,292.10h2.0v2.0h-2.0zM397.24,289.88h2.0v2.0h-2.0zM397.24,287.66h2.0v2.0h-2.0zM397.24,285.44h2.0v2.0h-2.0zM397.24,283.22h2.0v2.0h-2.0zM399.38,283.22h2.0v2.0h-2.0zM401.52,283.22h2.0v2.0h-2.0zM403.66,283.22h2.0v2.0h-2.0zM405.26,280.04h2.0v2.0h-2.0zM407.67,277.67h2.0v2.0h-2.0zM409.27,276.08h2.0v2.0h-2.0zM411.94,276.08h2.0v2.0h-2.0zM414.62,276.08h2.0v2.0h-2.0zM417.29,276.08h2.0v2.0h-2.0zM417.29,273.70h2.0v2.0h-2.0z" stroke="none" stroke-width="0" fill="#c00000"/>
<polyline points="418.29,274.70 462.40,274.70" stroke="#c00000" stroke-width="1.6" fill="none"/>
<text x="0" y="0" transform="translate(7.60 400.50) rotate(0.05)" font-size="18.0" font-weight="bold" fill="#000" stroke="#000" stroke-width="0.15">f</text>
<line x1="21.00" y1="388.20" x2="206.00" y2="388.20" stroke="#555" stroke-width="1.0"/>
<line x1="21.00" y1="396.40" x2="206.00" y2="396.40" stroke="#555" stroke-width="1.0"/>
<line x1="21.00" y1="541.60" x2="206.00" y2="541.60" stroke="#555" stroke-width="1.0"/>
<text x="0" y="2.23" transform="translate(49.20 392.40) rotate(0.05) scale(1.0 1.02)" font-size="6.2" text-anchor="middle" fill="#111" stroke="#111" stroke-width="0.2">HCC Dataset</text>
<text x="0" y="2.23" transform="translate(97.90 392.40) rotate(0.05) scale(1.0 1.02)" font-size="6.2" text-anchor="middle" fill="#111" stroke="#111" stroke-width="0.2">P-value</text>
<text x="0" y="2.23" transform="translate(135.60 392.40) rotate(0.05) scale(1.0 1.02)" font-size="6.2" text-anchor="middle" fill="#111" stroke="#111" stroke-width="0.2">Type</text>
<text x="0" y="2.23" transform="translate(166.10 392.40) rotate(0.05) scale(1.0 1.02)" font-size="6.2" text-anchor="middle" fill="#111" stroke="#111" stroke-width="0.2">Nums</text>
<text x="0" y="2.23" transform="translate(193.00 392.40) rotate(0.05) scale(1.0 1.02)" font-size="6.2" text-anchor="middle" fill="#111" stroke="#111" stroke-width="0.2">Mean</text>
<text x="0" y="2.23" transform="translate(49.20 404.40) rotate(0.05) scale(1.0 1.02)" font-size="6.2" text-anchor="middle" fill="#111" stroke="#111" stroke-width="0.2">GSE10143</text>
<text x="0" y="2.23" transform="translate(82.20 404.40) rotate(0.05) scale(1.0 1.02)" font-size="6.2" text-anchor="start" fill="#111" stroke="#111" stroke-width="0.2">3.90 × 10</text>
<text x="0" y="1.44" transform="translate(108.60 401.80) rotate(0.05) scale(1.0 1.02)" font-size="4.0" text-anchor="start" fill="#111" stroke="#111" stroke-width="0.2">-9</text>
<text x="0" y="2.23" transform="translate(135.60 400.40) rotate(0.05) scale(1.0 1.02)" font-size="6.2" text-anchor="middle" fill="#111" stroke="#111" stroke-width="0.2">HCC</text>
<text x="0" y="2.23" transform="translate(135.60 408.44) rotate(0.05) scale(1.0 1.02)" font-size="6.2" text-anchor="middle" fill="#111" stroke="#111" stroke-width="0.2">Adjacent</text>
<text x="0" y="2.23" transform="translate(166.10 400.40) rotate(0.05) scale(1.0 1.02)" font-size="6.2" text-anchor="middle" fill="#111" stroke="#111" stroke-width="0.2">80</text>
<text x="0" y="2.23" transform="translate(166.10 408.44) rotate(0.05) scale(1.0 1.02)" font-size="6.2" text-anchor="middle" fill="#111" stroke="#111" stroke-width="0.2">82</text>
<text x="0" y="2.23" transform="translate(193.00 400.40) rotate(0.05) scale(1.0 1.02)" font-size="6.2" text-anchor="middle" fill="#111" stroke="#111" stroke-width="0.2">14.01</text>
<text x="0" y="2.23" transform="translate(193.00 408.44) rotate(0.05) scale(1.0 1.02)" font-size="6.2" text-anchor="middle" fill="#111" stroke="#111" stroke-width="0.2">13.5</text>
<text x="0" y="2.23" transform="translate(49.20 420.47) rotate(0.05) scale(1.0 1.02)" font-size="6.2" text-anchor="middle" fill="#111" stroke="#111" stroke-width="0.2">GSE14520</text>
<text x="0" y="2.23" transform="translate(82.20 420.47) rotate(0.05) scale(1.0 1.02)" font-size="6.2" text-anchor="start" fill="#111" stroke="#111" stroke-width="0.2">1.63 × 10</text>
<text x="0" y="1.44" transform="translate(108.60 417.87) rotate(0.05) scale(1.0 1.02)" font-size="4.0" text-anchor="start" fill="#111" stroke="#111" stroke-width="0.2">-61</text>
<text x="0" y="2.23" transform="translate(135.60 416.47) rotate(0.05) scale(1.0 1.02)" font-size="6.2" text-anchor="middle" fill="#111" stroke="#111" stroke-width="0.2">HCC</text>
<text x="0" y="2.23" transform="translate(135.60 424.51) rotate(0.05) scale(1.0 1.02)" font-size="6.2" text-anchor="middle" fill="#111" stroke="#111" stroke-width="0.2">Adjacent</text>
<text x="0" y="2.23" transform="translate(166.10 416.47) rotate(0.05) scale(1.0 1.02)" font-size="6.2" text-anchor="middle" fill="#111" stroke="#111" stroke-width="0.2">225</text>
<text x="0" y="2.23" transform="translate(166.10 424.51) rotate(0.05) scale(1.0 1.02)" font-size="6.2" text-anchor="middle" fill="#111" stroke="#111" stroke-width="0.2">220</text>
<text x="0" y="2.23" transform="translate(193.00 416.47) rotate(0.05) scale(1.0 1.02)" font-size="6.2" text-anchor="middle" fill="#111" stroke="#111" stroke-width="0.2">6.052</text>
<text x="0" y="2.23" transform="translate(193.00 424.51) rotate(0.05) scale(1.0 1.02)" font-size="6.2" text-anchor="middle" fill="#111" stroke="#111" stroke-width="0.2">4.687</text>
<text x="0" y="2.23" transform="translate(49.20 436.54) rotate(0.05) scale(1.0 1.02)" font-size="6.2" text-anchor="middle" fill="#111" stroke="#111" stroke-width="0.2">GSE22058</text>
<text x="0" y="2.23" transform="translate(82.20 436.54) rotate(0.05) scale(1.0 1.02)" font-size="6.2" text-anchor="start" fill="#111" stroke="#111" stroke-width="0.2">7.95 × 10</text>
<text x="0" y="1.44" transform="translate(108.60 433.94) rotate(0.05) scale(1.0 1.02)" font-size="4.0" text-anchor="start" fill="#111" stroke="#111" stroke-width="0.2">-44</text>
<text x="0" y="2.23" transform="translate(135.60 432.54) rotate(0.05) scale(1.0 1.02)" font-size="6.2" text-anchor="middle" fill="#111" stroke="#111" stroke-width="0.2">HCC</text>
<text x="0" y="2.23" transform="translate(135.60 440.58) rotate(0.05) scale(1.0 1.02)" font-size="6.2" text-anchor="middle" fill="#111" stroke="#111" stroke-width="0.2">Adjacent</text>
<text x="0" y="2.23" transform="translate(166.10 432.54) rotate(0.05) scale(1.0 1.02)" font-size="6.2" text-anchor="middle" fill="#111" stroke="#111" stroke-width="0.2">100</text>
<text x="0" y="2.23" transform="translate(166.10 440.58) rotate(0.05) scale(1.0 1.02)" font-size="6.2" text-anchor="middle" fill="#111" stroke="#111" stroke-width="0.2">97</text>
<text x="0" y="2.23" transform="translate(193.00 432.54) rotate(0.05) scale(1.0 1.02)" font-size="6.2" text-anchor="middle" fill="#111" stroke="#111" stroke-width="0.2">11.03</text>
<text x="0" y="2.23" transform="translate(193.00 440.58) rotate(0.05) scale(1.0 1.02)" font-size="6.2" text-anchor="middle" fill="#111" stroke="#111" stroke-width="0.2">9.845</text>
<text x="0" y="2.23" transform="translate(49.20 452.61) rotate(0.05) scale(1.0 1.02)" font-size="6.2" text-anchor="middle" fill="#111" stroke="#111" stroke-width="0.2">GSE25097</text>
<text x="0" y="2.23" transform="translate(82.20 452.61) rotate(0.05) scale(1.0 1.02)" font-size="6.2" text-anchor="start" fill="#111" stroke="#111" stroke-width="0.2">5.14 × 10</text>
<text x="0" y="1.44" transform="translate(108.60 450.01) rotate(0.05) scale(1.0 1.02)" font-size="4.0" text-anchor="start" fill="#111" stroke="#111" stroke-width="0.2">-76</text>
<text x="0" y="2.23" transform="translate(135.60 448.61) rotate(0.05) scale(1.0 1.02)" font-size="6.2" text-anchor="middle" fill="#111" stroke="#111" stroke-width="0.2">HCC</text>
<text x="0" y="2.23" transform="translate(135.60 456.65) rotate(0.05) scale(1.0 1.02)" font-size="6.2" text-anchor="middle" fill="#111" stroke="#111" stroke-width="0.2">Adjacent</text>
<text x="0" y="2.23" transform="translate(166.10 448.61) rotate(0.05) scale(1.0 1.02)" font-size="6.2" text-anchor="middle" fill="#111" stroke="#111" stroke-width="0.2">268</text>
<text x="0" y="2.23" transform="translate(166.10 456.65) rotate(0.05) scale(1.0 1.02)" font-size="6.2" text-anchor="middle" fill="#111" stroke="#111" stroke-width="0.2">243</text>
<text x="0" y="2.23" transform="translate(193.00 448.61) rotate(0.05) scale(1.0 1.02)" font-size="6.2" text-anchor="middle" fill="#111" stroke="#111" stroke-width="0.2">5.708</text>
<text x="0" y="2.23" transform="translate(193.00 456.65) rotate(0.05) scale(1.0 1.02)" font-size="6.2" text-anchor="middle" fill="#111" stroke="#111" stroke-width="0.2">2.763</text>
<text x="0" y="2.23" transform="translate(49.20 468.68) rotate(0.05) scale(1.0 1.02)" font-size="6.2" text-anchor="middle" fill="#111" stroke="#111" stroke-width="0.2">GSE36376</text>
<text x="0" y="2.23" transform="translate(82.20 468.68) rotate(0.05) scale(1.0 1.02)" font-size="6.2" text-anchor="start" fill="#111" stroke="#111" stroke-width="0.2">1.79 × 10</text>
<text x="0" y="1.44" transform="translate(108.60 466.08) rotate(0.05) scale(1.0 1.02)" font-size="4.0" text-anchor="start" fill="#111" stroke="#111" stroke-width="0.2">-39</text>
<text x="0" y="2.23" transform="translate(135.60 464.68) rotate(0.05) scale(1.0 1.02)" font-size="6.2" text-anchor="middle" fill="#111" stroke="#111" stroke-width="0.2">HCC</text>
<text x="0" y="2.23" transform="translate(135.60 472.72) rotate(0.05) scale(1.0 1.02)" font-size="6.2" text-anchor="middle" fill="#111" stroke="#111" stroke-width="0.2">Adjacent</text>
<text x="0" y="2.23" transform="translate(166.10 464.68) rotate(0.05) scale(1.0 1.02)" font-size="6.2" text-anchor="middle" fill="#111" stroke="#111" stroke-width="0.2">240</text>
<text x="0" y="2.23" transform="translate(166.10 472.72) rotate(0.05) scale(1.0 1.02)" font-size="6.2" text-anchor="middle" fill="#111" stroke="#111" stroke-width="0.2">193</text>
<text x="0" y="2.23" transform="translate(193.00 464.68) rotate(0.05) scale(1.0 1.02)" font-size="6.2" text-anchor="middle" fill="#111" stroke="#111" stroke-width="0.2">6.228</text>
<text x="0" y="2.23" transform="translate(193.00 472.72) rotate(0.05) scale(1.0 1.02)" font-size="6.2" text-anchor="middle" fill="#111" stroke="#111" stroke-width="0.2">5.973</text>
<text x="0" y="2.23" transform="translate(49.20 484.75) rotate(0.05) scale(1.0 1.02)" font-size="6.2" text-anchor="middle" fill="#111" stroke="#111" stroke-width="0.2">GSE54236</text>
<text x="0" y="2.23" transform="translate(82.20 484.75) rotate(0.05) scale(1.0 1.02)" font-size="6.2" text-anchor="start" fill="#111" stroke="#111" stroke-width="0.2">1.82 × 10</text>
<text x="0" y="1.44" transform="translate(108.60 482.15) rotate(0.05) scale(1.0 1.02)" font-size="4.0" text-anchor="start" fill="#111" stroke="#111" stroke-width="0.2">-8</text>
<text x="0" y="2.23" transform="translate(135.60 480.75) rotate(0.05) scale(1.0 1.02)" font-size="6.2" text-anchor="middle" fill="#111" stroke="#111" stroke-width="0.2">HCC</text>
<text x="0" y="2.23" transform="translate(135.60 488.79) rotate(0.05) scale(1.0 1.02)" font-size="6.2" text-anchor="middle" fill="#111" stroke="#111" stroke-width="0.2">Adjacent</text>
<text x="0" y="2.23" transform="translate(166.10 480.75) rotate(0.05) scale(1.0 1.02)" font-size="6.2" text-anchor="middle" fill="#111" stroke="#111" stroke-width="0.2">81</text>
<text x="0" y="2.23" transform="translate(166.10 488.79) rotate(0.05) scale(1.0 1.02)" font-size="6.2" text-anchor="middle" fill="#111" stroke="#111" stroke-width="0.2">80</text>
<text x="0" y="2.23" transform="translate(193.00 480.75) rotate(0.05) scale(1.0 1.02)" font-size="6.2" text-anchor="middle" fill="#111" stroke="#111" stroke-width="0.2">10.09</text>
<text x="0" y="2.23" transform="translate(193.00 488.79) rotate(0.05) scale(1.0 1.02)" font-size="6.2" text-anchor="middle" fill="#111" stroke="#111" stroke-width="0.2">9.484</text>
<text x="0" y="2.23" transform="translate(49.20 500.82) rotate(0.05) scale(1.0 1.02)" font-size="6.2" text-anchor="middle" fill="#111" stroke="#111" stroke-width="0.2">GSE63898</text>
<text x="0" y="2.23" transform="translate(82.20 500.82) rotate(0.05) scale(1.0 1.02)" font-size="6.2" text-anchor="start" fill="#111" stroke="#111" stroke-width="0.2">4.34 × 10</text>
<text x="0" y="1.44" transform="translate(108.60 498.22) rotate(0.05) scale(1.0 1.02)" font-size="4.0" text-anchor="start" fill="#111" stroke="#111" stroke-width="0.2">-53</text>
<text x="0" y="2.23" transform="translate(135.60 496.82) rotate(0.05) scale(1.0 1.02)" font-size="6.2" text-anchor="middle" fill="#111" stroke="#111" stroke-width="0.2">HCC</text>
<text x="0" y="2.23" transform="translate(135.60 504.86) rotate(0.05) scale(1.0 1.02)" font-size="6.2" text-anchor="middle" fill="#111" stroke="#111" stroke-width="0.2">Adjacent</text>
<text x="0" y="2.23" transform="translate(166.10 496.82) rotate(0.05) scale(1.0 1.02)" font-size="6.2" text-anchor="middle" fill="#111" stroke="#111" stroke-width="0.2">228</text>
<text x="0" y="2.23" transform="translate(166.10 504.86) rotate(0.05) scale(1.0 1.02)" font-size="6.2" text-anchor="middle" fill="#111" stroke="#111" stroke-width="0.2">168</text>
<text x="0" y="2.23" transform="translate(193.00 496.82) rotate(0.05) scale(1.0 1.02)" font-size="6.2" text-anchor="middle" fill="#111" stroke="#111" stroke-width="0.2">8.78</text>
<text x="0" y="2.23" transform="translate(193.00 504.86) rotate(0.05) scale(1.0 1.02)" font-size="6.2" text-anchor="middle" fill="#111" stroke="#111" stroke-width="0.2">7.239</text>
<text x="0" y="2.23" transform="translate(49.20 516.89) rotate(0.05) scale(1.0 1.02)" font-size="6.2" text-anchor="middle" fill="#111" stroke="#111" stroke-width="0.2">GSE64041</text>
<text x="0" y="2.23" transform="translate(82.20 516.89) rotate(0.05) scale(1.0 1.02)" font-size="6.2" text-anchor="start" fill="#111" stroke="#111" stroke-width="0.2">2.34 × 10</text>
<text x="0" y="1.44" transform="translate(108.60 514.29) rotate(0.05) scale(1.0 1.02)" font-size="4.0" text-anchor="start" fill="#111" stroke="#111" stroke-width="0.2">-13</text>
<text x="0" y="2.23" transform="translate(135.60 512.89) rotate(0.05) scale(1.0 1.02)" font-size="6.2" text-anchor="middle" fill="#111" stroke="#111" stroke-width="0.2">HCC</text>
<text x="0" y="2.23" transform="translate(135.60 520.93) rotate(0.05) scale(1.0 1.02)" font-size="6.2" text-anchor="middle" fill="#111" stroke="#111" stroke-width="0.2">Adjacent</text>
<text x="0" y="2.23" transform="translate(166.10 512.89) rotate(0.05) scale(1.0 1.02)" font-size="6.2" text-anchor="middle" fill="#111" stroke="#111" stroke-width="0.2">60</text>
<text x="0" y="2.23" transform="translate(166.10 520.93) rotate(0.05) scale(1.0 1.02)" font-size="6.2" text-anchor="middle" fill="#111" stroke="#111" stroke-width="0.2">60</text>
<text x="0" y="2.23" transform="translate(193.00 512.89) rotate(0.05) scale(1.0 1.02)" font-size="6.2" text-anchor="middle" fill="#111" stroke="#111" stroke-width="0.2">9.323</text>
<text x="0" y="2.23" transform="translate(193.00 520.93) rotate(0.05) scale(1.0 1.02)" font-size="6.2" text-anchor="middle" fill="#111" stroke="#111" stroke-width="0.2">8.346</text>
<text x="0" y="2.23" transform="translate(49.20 532.96) rotate(0.05) scale(1.0 1.02)" font-size="6.2" text-anchor="middle" fill="#111" stroke="#111" stroke-width="0.2">TCGA-LIHC</text>
<text x="0" y="2.23" transform="translate(82.20 532.96) rotate(0.05) scale(1.0 1.02)" font-size="6.2" text-anchor="start" fill="#111" stroke="#111" stroke-width="0.2">4.22 × 10</text>
<text x="0" y="1.44" transform="translate(108.60 530.36) rotate(0.05) scale(1.0 1.02)" font-size="4.0" text-anchor="start" fill="#111" stroke="#111" stroke-width="0.2">-17</text>
<text x="0" y="2.23" transform="translate(135.60 528.96) rotate(0.05) scale(1.0 1.02)" font-size="6.2" text-anchor="middle" fill="#111" stroke="#111" stroke-width="0.2">HCC</text>
<text x="0" y="2.23" transform="translate(135.60 537.00) rotate(0.05) scale(1.0 1.02)" font-size="6.2" text-anchor="middle" fill="#111" stroke="#111" stroke-width="0.2">Adjacent</text>
<text x="0" y="2.23" transform="translate(166.10 528.96) rotate(0.05) scale(1.0 1.02)" font-size="6.2" text-anchor="middle" fill="#111" stroke="#111" stroke-width="0.2">351</text>
<text x="0" y="2.23" transform="translate(166.10 537.00) rotate(0.05) scale(1.0 1.02)" font-size="6.2" text-anchor="middle" fill="#111" stroke="#111" stroke-width="0.2">49</text>
<text x="0" y="2.23" transform="translate(193.00 528.96) rotate(0.05) scale(1.0 1.02)" font-size="6.2" text-anchor="middle" fill="#111" stroke="#111" stroke-width="0.2">10.56</text>
<text x="0" y="2.23" transform="translate(193.00 537.00) rotate(0.05) scale(1.0 1.02)" font-size="6.2" text-anchor="middle" fill="#111" stroke="#111" stroke-width="0.2">9.225</text>
<text x="0" y="0" transform="translate(211.60 400.20) rotate(0.05)" font-size="18.0" font-weight="bold" fill="#000" stroke="#000" stroke-width="0.15">g</text>
<text x="0" y="3.24" transform="translate(289.65 407.00) rotate(0.05)" font-size="9.0" text-anchor="middle" fill="#111" stroke="#111" stroke-width="0.12">TCGA (n=367)</text>
<rect x="239.30" y="417.30" width="99.90" height="99.90" fill="none" stroke="#333" stroke-width="0.8"/>
<line x1="236.90" y1="517.20" x2="239.30" y2="517.20" stroke="#333" stroke-width="0.7"/>
<text x="0" y="2.45" transform="translate(236.40 517.20) rotate(0.05) scale(1.0 1.15)" font-size="6.8" text-anchor="end" fill="#222" stroke="#222" stroke-width="0.12">0</text>
<line x1="236.90" y1="497.22" x2="239.30" y2="497.22" stroke="#333" stroke-width="0.7"/>
<text x="0" y="2.45" transform="translate(236.40 497.22) rotate(0.05) scale(1.0 1.15)" font-size="6.8" text-anchor="end" fill="#222" stroke="#222" stroke-width="0.12">20</text>
<line x1="236.90" y1="477.24" x2="239.30" y2="477.24" stroke="#333" stroke-width="0.7"/>
<text x="0" y="2.45" transform="translate(236.40 477.24) rotate(0.05) scale(1.0 1.15)" font-size="6.8" text-anchor="end" fill="#222" stroke="#222" stroke-width="0.12">40</text>
<line x1="236.90" y1="457.26" x2="239.30" y2="457.26" stroke="#333" stroke-width="0.7"/>
<text x="0" y="2.45" transform="translate(236.40 457.26) rotate(0.05) scale(1.0 1.15)" font-size="6.8" text-anchor="end" fill="#222" stroke="#222" stroke-width="0.12">60</text>
<line x1="236.90" y1="437.28" x2="239.30" y2="437.28" stroke="#333" stroke-width="0.7"/>
<text x="0" y="2.45" transform="translate(236.40 437.28) rotate(0.05) scale(1.0 1.15)" font-size="6.8" text-anchor="end" fill="#222" stroke="#222" stroke-width="0.12">80</text>
<line x1="236.90" y1="417.30" x2="239.30" y2="417.30" stroke="#333" stroke-width="0.7"/>
<text x="0" y="2.45" transform="translate(236.40 417.30) rotate(0.05) scale(1.0 1.15)" font-size="6.8" text-anchor="end" fill="#222" stroke="#222" stroke-width="0.12">100</text>
<line x1="239.30" y1="517.20" x2="239.30" y2="519.60" stroke="#333" stroke-width="0.7"/>
<text x="0" y="2.45" transform="translate(239.30 523.90) rotate(0.05) scale(1.0 1.15)" font-size="6.8" text-anchor="middle" fill="#222" stroke="#222" stroke-width="0.12">0</text>
<line x1="272.60" y1="517.20" x2="272.60" y2="519.60" stroke="#333" stroke-width="0.7"/>
<text x="0" y="2.45" transform="translate(272.60 523.90) rotate(0.05) scale(1.0 1.15)" font-size="6.8" text-anchor="middle" fill="#222" stroke="#222" stroke-width="0.12">20</text>
<line x1="305.90" y1="517.20" x2="305.90" y2="519.60" stroke="#333" stroke-width="0.7"/>
<text x="0" y="2.45" transform="translate(305.90 523.90) rotate(0.05) scale(1.0 1.15)" font-size="6.8" text-anchor="middle" fill="#222" stroke="#222" stroke-width="0.12">40</text>
<line x1="339.20" y1="517.20" x2="339.20" y2="519.60" stroke="#333" stroke-width="0.7"/>
<text x="0" y="2.45" transform="translate(339.20 523.90) rotate(0.05) scale(1.0 1.15)" font-size="6.8" text-anchor="middle" fill="#222" stroke="#222" stroke-width="0.12">60</text>
<text x="0" y="2.48" transform="translate(289.25 532.30) rotate(0.05) scale(1.0 1.15)" font-size="6.9" text-anchor="middle" fill="#222" stroke="#222" stroke-width="0.12">Time (Month)</text>
<text x="0" y="2.38" transform="translate(220.50 467.75) rotate(-89.95) scale(1.0 1.15)" font-size="6.6" text-anchor="middle" fill="#222" stroke="#222" stroke-width="0.12">PFS rate  (%)</text>
<polyline points="239.30,417.30 242.96,421.00 246.13,433.98 249.46,444.37 252.62,451.57 257.28,455.26 261.61,461.36 266.94,466.25 272.43,469.55 277.76,473.34 283.26,476.04 288.75,480.94 294.25,482.04 297.08,482.14 301.90,485.03 306.73,485.03 310.56,486.43 314.56,486.43 319.22,488.83 322.22,490.33 329.04,490.33 331.87,493.22 332.87,495.12 338.53,495.12 339.20,495.12" fill="none" stroke="#4a0000" stroke-width="1.2"/>
<path d="M238.00,416.00h2.6v2.6h-2.6zM239.62,417.63h2.6v2.6h-2.6zM241.24,419.27h2.6v2.6h-2.6zM241.66,419.70h2.6v2.6h-2.6zM242.21,421.93h2.6v2.6h-2.6zM242.75,424.17h2.6v2.6h-2.6zM243.30,426.40h2.6v2.6h-2.6zM243.84,428.63h2.6v2.6h-2.6zM244.38,430.87h2.6v2.6h-2.6zM244.83,432.68h2.6v2.6h-2.6zM245.53,434.87h2.6v2.6h-2.6zM246.23,437.06h2.6v2.6h-2.6zM246.93,439.25h2.6v2.6h-2.6zM247.63,441.44h2.6v2.6h-2.6zM248.16,443.07h2.6v2.6h-2.6zM249.08,445.18h2.6v2.6h-2.6zM250.01,447.28h2.6v2.6h-2.6zM250.93,449.39h2.6v2.6h-2.6zM251.32,450.27h2.6v2.6h-2.6zM253.12,451.69h2.6v2.6h-2.6zM254.92,453.12h2.6v2.6h-2.6zM255.98,453.96h2.6v2.6h-2.6zM257.31,455.84h2.6v2.6h-2.6zM258.65,457.71h2.6v2.6h-2.6zM259.98,459.59h2.6v2.6h-2.6zM260.31,460.06h2.6v2.6h-2.6zM262.00,461.61h2.6v2.6h-2.6zM263.70,463.17h2.6v2.6h-2.6zM265.39,464.72h2.6v2.6h-2.6zM265.64,464.95h2.6v2.6h-2.6zM267.61,466.13h2.6v2.6h-2.6zM269.58,467.32h2.6v2.6h-2.6zM271.13,468.25h2.6v2.6h-2.6zM273.01,469.58h2.6v2.6h-2.6zM274.88,470.92h2.6v2.6h-2.6zM276.46,472.04h2.6v2.6h-2.6zM278.53,473.06h2.6v2.6h-2.6zM280.59,474.07h2.6v2.6h-2.6zM281.96,474.74h2.6v2.6h-2.6zM283.67,476.27h2.6v2.6h-2.6zM285.39,477.80h2.6v2.6h-2.6zM287.11,479.33h2.6v2.6h-2.6zM287.45,479.64h2.6v2.6h-2.6zM289.71,480.09h2.6v2.6h-2.6zM291.96,480.54h2.6v2.6h-2.6zM292.94,480.74h2.6v2.6h-2.6zM295.24,480.82h2.6v2.6h-2.6zM295.78,480.84h2.6v2.6h-2.6zM297.75,482.02h2.6v2.6h-2.6zM299.72,483.20h2.6v2.6h-2.6zM300.60,483.73h2.6v2.6h-2.6zM302.90,483.73h2.6v2.6h-2.6zM305.20,483.73h2.6v2.6h-2.6zM305.43,483.73h2.6v2.6h-2.6zM307.59,484.52h2.6v2.6h-2.6zM309.26,485.13h2.6v2.6h-2.6zM311.56,485.13h2.6v2.6h-2.6zM313.26,485.13h2.6v2.6h-2.6zM315.30,486.18h2.6v2.6h-2.6zM317.35,487.23h2.6v2.6h-2.6zM317.92,487.53h2.6v2.6h-2.6zM319.98,488.56h2.6v2.6h-2.6zM320.92,489.03h2.6v2.6h-2.6zM323.22,489.03h2.6v2.6h-2.6zM325.52,489.03h2.6v2.6h-2.6zM327.74,489.03h2.6v2.6h-2.6zM329.35,490.67h2.6v2.6h-2.6zM330.57,491.92h2.6v2.6h-2.6zM331.57,493.82h2.6v2.6h-2.6zM333.87,493.82h2.6v2.6h-2.6zM336.17,493.82h2.6v2.6h-2.6zM337.23,493.82h2.6v2.6h-2.6zM337.90,493.82h2.6v2.6h-2.6z" stroke="none" stroke-width="0" fill="#4a0000"/>
<path d="M238.55,416.55h1.5v1.5h-1.5zM240.17,418.18h1.5v1.5h-1.5zM241.79,419.82h1.5v1.5h-1.5zM242.21,420.25h1.5v1.5h-1.5zM242.76,422.48h1.5v1.5h-1.5zM243.30,424.72h1.5v1.5h-1.5zM243.85,426.95h1.5v1.5h-1.5zM244.39,429.18h1.5v1.5h-1.5zM244.93,431.42h1.5v1.5h-1.5zM245.38,433.23h1.5v1.5h-1.5zM246.08,435.42h1.5v1.5h-1.5zM246.78,437.61h1.5v1.5h-1.5zM247.48,439.80h1.5v1.5h-1.5zM248.18,441.99h1.5v1.5h-1.5zM248.71,443.62h1.5v1.5h-1.5zM249.63,445.73h1.5v1.5h-1.5zM250.56,447.83h1.5v1.5h-1.5zM251.48,449.94h1.5v1.5h-1.5zM251.87,450.82h1.5v1.5h-1.5zM253.67,452.24h1.5v1.5h-1.5zM255.47,453.67h1.5v1.5h-1.5zM256.53,454.51h1.5v1.5h-1.5zM257.86,456.39h1.5v1.5h-1.5zM259.20,458.26h1.5v1.5h-1.5zM260.53,460.14h1.5v1.5h-1.5zM260.86,460.61h1.5v1.5h-1.5zM262.55,462.16h1.5v1.5h-1.5zM264.25,463.72h1.5v1.5h-1.5zM265.94,465.27h1.5v1.5h-1.5zM266.19,465.50h1.5v1.5h-1.5zM268.16,466.68h1.5v1.5h-1.5zM270.13,467.87h1.5v1.5h-1.5zM271.68,468.80h1.5v1.5h-1.5zM273.56,470.13h1.5v1.5h-1.5zM275.43,471.47h1.5v1.5h-1.5zM277.01,472.59h1.5v1.5h-1.5zM279.08,473.61h1.5v1.5h-1.5zM281.14,474.62h1.5v1.5h-1.5zM282.51,475.29h1.5v1.5h-1.5zM284.22,476.82h1.5v1.5h-1.5zM285.94,478.35h1.5v1.5h-1.5zM287.66,479.88h1.5v1.5h-1.5zM288.00,480.19h1.5v1.5h-1.5zM290.26,480.64h1.5v1.5h-1.5zM292.51,481.09h1.5v1.5h-1.5zM293.50,481.29h1.5v1.5h-1.5zM295.79,481.37h1.5v1.5h-1.5zM296.33,481.39h1.5v1.5h-1.5zM298.30,482.57h1.5v1.5h-1.5zM300.27,483.75h1.5v1.5h-1.5zM301.15,484.28h1.5v1.5h-1.5zM303.45,484.28h1.5v1.5h-1.5zM305.75,484.28h1.5v1.5h-1.5zM305.98,484.28h1.5v1.5h-1.5zM308.14,485.07h1.5v1.5h-1.5zM309.81,485.68h1.5v1.5h-1.5zM312.11,485.68h1.5v1.5h-1.5zM313.81,485.68h1.5v1.5h-1.5zM315.85,486.73h1.5v1.5h-1.5zM317.90,487.78h1.5v1.5h-1.5zM318.47,488.08h1.5v1.5h-1.5zM320.53,489.11h1.5v1.5h-1.5zM321.47,489.58h1.5v1.5h-1.5zM323.77,489.58h1.5v1.5h-1.5zM326.07,489.58h1.5v1.5h-1.5zM328.29,489.58h1.5v1.5h-1.5zM329.90,491.22h1.5v1.5h-1.5zM331.12,492.47h1.5v1.5h-1.5zM332.12,494.37h1.5v1.5h-1.5zM334.42,494.37h1.5v1.5h-1.5zM336.72,494.37h1.5v1.5h-1.5zM337.78,494.37h1.5v1.5h-1.5zM338.45,494.37h1.5v1.5h-1.5z" stroke="none" stroke-width="0" fill="#e81414"/>
<polyline points="239.30,417.30 243.63,419.00 246.79,425.99 249.96,433.98 253.95,440.38 257.12,444.37 262.61,450.87 266.94,456.36 272.43,459.06 277.76,463.45 283.26,465.65 288.75,467.75 294.25,469.95 297.08,470.55 300.90,474.84 305.73,476.74 309.56,479.24 316.39,479.24 319.22,481.14 325.05,481.14 329.04,482.93 333.71,483.53 335.70,485.93 339.20,485.93" fill="none" stroke="#00004a" stroke-width="1.2"/>
<path d="M238.00,416.00h2.6v2.6h-2.6zM240.14,416.84h2.6v2.6h-2.6zM242.28,417.68h2.6v2.6h-2.6zM242.33,417.70h2.6v2.6h-2.6zM243.28,419.79h2.6v2.6h-2.6zM244.22,421.89h2.6v2.6h-2.6zM245.17,423.98h2.6v2.6h-2.6zM245.49,424.69h2.6v2.6h-2.6zM246.34,426.83h2.6v2.6h-2.6zM247.19,428.97h2.6v2.6h-2.6zM248.03,431.11h2.6v2.6h-2.6zM248.66,432.68h2.6v2.6h-2.6zM249.87,434.63h2.6v2.6h-2.6zM251.09,436.58h2.6v2.6h-2.6zM252.31,438.53h2.6v2.6h-2.6zM252.65,439.08h2.6v2.6h-2.6zM254.08,440.88h2.6v2.6h-2.6zM255.51,442.68h2.6v2.6h-2.6zM255.82,443.07h2.6v2.6h-2.6zM257.30,444.83h2.6v2.6h-2.6zM258.79,446.58h2.6v2.6h-2.6zM260.27,448.34h2.6v2.6h-2.6zM261.31,449.57h2.6v2.6h-2.6zM262.73,451.37h2.6v2.6h-2.6zM264.16,453.18h2.6v2.6h-2.6zM265.58,454.99h2.6v2.6h-2.6zM265.64,455.06h2.6v2.6h-2.6zM267.70,456.07h2.6v2.6h-2.6zM269.77,457.09h2.6v2.6h-2.6zM271.13,457.76h2.6v2.6h-2.6zM272.91,459.22h2.6v2.6h-2.6zM274.68,460.69h2.6v2.6h-2.6zM276.46,462.15h2.6v2.6h-2.6zM276.46,462.15h2.6v2.6h-2.6zM278.60,463.01h2.6v2.6h-2.6zM280.73,463.86h2.6v2.6h-2.6zM281.96,464.35h2.6v2.6h-2.6zM284.10,465.17h2.6v2.6h-2.6zM286.25,465.99h2.6v2.6h-2.6zM287.45,466.45h2.6v2.6h-2.6zM289.59,467.30h2.6v2.6h-2.6zM291.72,468.16h2.6v2.6h-2.6zM292.94,468.65h2.6v2.6h-2.6zM295.20,469.12h2.6v2.6h-2.6zM295.78,469.25h2.6v2.6h-2.6zM297.31,470.96h2.6v2.6h-2.6zM298.84,472.68h2.6v2.6h-2.6zM299.60,473.54h2.6v2.6h-2.6zM301.75,474.38h2.6v2.6h-2.6zM303.89,475.23h2.6v2.6h-2.6zM304.43,475.44h2.6v2.6h-2.6zM306.36,476.70h2.6v2.6h-2.6zM308.26,477.94h2.6v2.6h-2.6zM310.56,477.94h2.6v2.6h-2.6zM312.86,477.94h2.6v2.6h-2.6zM315.09,477.94h2.6v2.6h-2.6zM317.00,479.22h2.6v2.6h-2.6zM317.92,479.84h2.6v2.6h-2.6zM320.22,479.84h2.6v2.6h-2.6zM322.52,479.84h2.6v2.6h-2.6zM323.75,479.84h2.6v2.6h-2.6zM325.84,480.78h2.6v2.6h-2.6zM327.74,481.63h2.6v2.6h-2.6zM330.02,481.93h2.6v2.6h-2.6zM332.31,482.22h2.6v2.6h-2.6zM332.41,482.23h2.6v2.6h-2.6zM333.88,484.00h2.6v2.6h-2.6zM334.40,484.63h2.6v2.6h-2.6zM336.70,484.63h2.6v2.6h-2.6zM337.90,484.63h2.6v2.6h-2.6z" stroke="none" stroke-width="0" fill="#00004a"/>
<path d="M238.55,416.55h1.5v1.5h-1.5zM240.69,417.39h1.5v1.5h-1.5zM242.83,418.23h1.5v1.5h-1.5zM242.88,418.25h1.5v1.5h-1.5zM243.83,420.34h1.5v1.5h-1.5zM244.77,422.44h1.5v1.5h-1.5zM245.72,424.53h1.5v1.5h-1.5zM246.04,425.24h1.5v1.5h-1.5zM246.89,427.38h1.5v1.5h-1.5zM247.74,429.52h1.5v1.5h-1.5zM248.58,431.66h1.5v1.5h-1.5zM249.21,433.23h1.5v1.5h-1.5zM250.42,435.18h1.5v1.5h-1.5zM251.64,437.13h1.5v1.5h-1.5zM252.86,439.08h1.5v1.5h-1.5zM253.20,439.63h1.5v1.5h-1.5zM254.63,441.43h1.5v1.5h-1.5zM256.06,443.23h1.5v1.5h-1.5zM256.37,443.62h1.5v1.5h-1.5zM257.85,445.38h1.5v1.5h-1.5zM259.34,447.13h1.5v1.5h-1.5zM260.82,448.89h1.5v1.5h-1.5zM261.86,450.12h1.5v1.5h-1.5zM263.28,451.92h1.5v1.5h-1.5zM264.71,453.73h1.5v1.5h-1.5zM266.13,455.54h1.5v1.5h-1.5zM266.19,455.61h1.5v1.5h-1.5zM268.25,456.62h1.5v1.5h-1.5zM270.32,457.64h1.5v1.5h-1.5zM271.68,458.31h1.5v1.5h-1.5zM273.46,459.77h1.5v1.5h-1.5zM275.23,461.24h1.5v1.5h-1.5zM277.01,462.70h1.5v1.5h-1.5zM277.01,462.70h1.5v1.5h-1.5zM279.15,463.56h1.5v1.5h-1.5zM281.28,464.41h1.5v1.5h-1.5zM282.51,464.90h1.5v1.5h-1.5zM284.65,465.72h1.5v1.5h-1.5zM286.80,466.54h1.5v1.5h-1.5zM288.00,467.00h1.5v1.5h-1.5zM290.14,467.85h1.5v1.5h-1.5zM292.27,468.71h1.5v1.5h-1.5zM293.50,469.20h1.5v1.5h-1.5zM295.75,469.67h1.5v1.5h-1.5zM296.33,469.80h1.5v1.5h-1.5zM297.86,471.51h1.5v1.5h-1.5zM299.39,473.23h1.5v1.5h-1.5zM300.15,474.09h1.5v1.5h-1.5zM302.30,474.93h1.5v1.5h-1.5zM304.44,475.78h1.5v1.5h-1.5zM304.98,475.99h1.5v1.5h-1.5zM306.91,477.25h1.5v1.5h-1.5zM308.81,478.49h1.5v1.5h-1.5zM311.11,478.49h1.5v1.5h-1.5zM313.41,478.49h1.5v1.5h-1.5zM315.64,478.49h1.5v1.5h-1.5zM317.55,479.77h1.5v1.5h-1.5zM318.47,480.39h1.5v1.5h-1.5zM320.77,480.39h1.5v1.5h-1.5zM323.07,480.39h1.5v1.5h-1.5zM324.30,480.39h1.5v1.5h-1.5zM326.39,481.33h1.5v1.5h-1.5zM328.29,482.18h1.5v1.5h-1.5zM330.57,482.48h1.5v1.5h-1.5zM332.86,482.77h1.5v1.5h-1.5zM332.96,482.78h1.5v1.5h-1.5zM334.43,484.55h1.5v1.5h-1.5zM334.95,485.18h1.5v1.5h-1.5zM337.25,485.18h1.5v1.5h-1.5zM338.45,485.18h1.5v1.5h-1.5z" stroke="none" stroke-width="0" fill="#2222e0"/>
<rect x="293.00" y="460.10" width="3.20" height="3.20" fill="#1e1ee0" stroke="#10106a" stroke-width="0.5"/>
<text x="0" y="2.52" transform="translate(300.70 461.80) rotate(0.05) scale(1.0 1.15)" font-size="7.0" text-anchor="start" fill="#2020e0" font-style="italic" stroke="#2020e0" stroke-width="0.12">ITGA6_Low</text>
<rect x="244.20" y="486.90" width="3.20" height="3.20" fill="#e81818" stroke="#701010" stroke-width="0.5"/>
<text x="0" y="2.52" transform="translate(252.40 488.60) rotate(0.05) scale(1.0 1.15)" font-size="7.0" text-anchor="start" fill="#e82020" font-style="italic" stroke="#e82020" stroke-width="0.12">ITGA6_High</text>
<text x="0" y="2.30" transform="translate(242.20 503.80) rotate(0.05) scale(1.0 1.15)" font-size="6.4" text-anchor="start" fill="#222" stroke="#222" stroke-width="0.12">HR = 1.37 (1.02 to 1.83)</text>
<text x="0" y="2.30" transform="translate(242.20 510.20) rotate(0.05) scale(1.0 1.15)" font-size="6.4" text-anchor="start" fill="#222" stroke="#222" stroke-width="0.12">Logrank <tspan font-style="italic">P</tspan> = 0.04*</text>
<text x="0" y="3.24" transform="translate(419.30 407.00) rotate(0.05)" font-size="9.0" text-anchor="middle" fill="#111" stroke="#111" stroke-width="0.12">TCGA G1 (n=54)</text>
<rect x="369.30" y="417.30" width="99.20" height="99.90" fill="none" stroke="#333" stroke-width="0.8"/>
<line x1="366.90" y1="517.20" x2="369.30" y2="517.20" stroke="#333" stroke-width="0.7"/>
<text x="0" y="2.45" transform="translate(366.40 517.20) rotate(0.05) scale(1.0 1.15)" font-size="6.8" text-anchor="end" fill="#222" stroke="#222" stroke-width="0.12">0</text>
<line x1="366.90" y1="497.22" x2="369.30" y2="497.22" stroke="#333" stroke-width="0.7"/>
<text x="0" y="2.45" transform="translate(366.40 497.22) rotate(0.05) scale(1.0 1.15)" font-size="6.8" text-anchor="end" fill="#222" stroke="#222" stroke-width="0.12">20</text>
<line x1="366.90" y1="477.24" x2="369.30" y2="477.24" stroke="#333" stroke-width="0.7"/>
<text x="0" y="2.45" transform="translate(366.40 477.24) rotate(0.05) scale(1.0 1.15)" font-size="6.8" text-anchor="end" fill="#222" stroke="#222" stroke-width="0.12">40</text>
<line x1="366.90" y1="457.26" x2="369.30" y2="457.26" stroke="#333" stroke-width="0.7"/>
<text x="0" y="2.45" transform="translate(366.40 457.26) rotate(0.05) scale(1.0 1.15)" font-size="6.8" text-anchor="end" fill="#222" stroke="#222" stroke-width="0.12">60</text>
<line x1="366.90" y1="437.28" x2="369.30" y2="437.28" stroke="#333" stroke-width="0.7"/>
<text x="0" y="2.45" transform="translate(366.40 437.28) rotate(0.05) scale(1.0 1.15)" font-size="6.8" text-anchor="end" fill="#222" stroke="#222" stroke-width="0.12">80</text>
<line x1="366.90" y1="417.30" x2="369.30" y2="417.30" stroke="#333" stroke-width="0.7"/>
<text x="0" y="2.45" transform="translate(366.40 417.30) rotate(0.05) scale(1.0 1.15)" font-size="6.8" text-anchor="end" fill="#222" stroke="#222" stroke-width="0.12">100</text>
<line x1="369.30" y1="517.20" x2="369.30" y2="519.60" stroke="#333" stroke-width="0.7"/>
<text x="0" y="2.45" transform="translate(369.30 523.90) rotate(0.05) scale(1.0 1.15)" font-size="6.8" text-anchor="middle" fill="#222" stroke="#222" stroke-width="0.12">0</text>
<line x1="402.37" y1="517.20" x2="402.37" y2="519.60" stroke="#333" stroke-width="0.7"/>
<text x="0" y="2.45" transform="translate(402.37 523.90) rotate(0.05) scale(1.0 1.15)" font-size="6.8" text-anchor="middle" fill="#222" stroke="#222" stroke-width="0.12">20</text>
<line x1="435.43" y1="517.20" x2="435.43" y2="519.60" stroke="#333" stroke-width="0.7"/>
<text x="0" y="2.45" transform="translate(435.43 523.90) rotate(0.05) scale(1.0 1.15)" font-size="6.8" text-anchor="middle" fill="#222" stroke="#222" stroke-width="0.12">40</text>
<line x1="468.50" y1="517.20" x2="468.50" y2="519.60" stroke="#333" stroke-width="0.7"/>
<text x="0" y="2.45" transform="translate(468.50 523.90) rotate(0.05) scale(1.0 1.15)" font-size="6.8" text-anchor="middle" fill="#222" stroke="#222" stroke-width="0.12">60</text>
<text x="0" y="2.48" transform="translate(418.90 532.30) rotate(0.05) scale(1.0 1.15)" font-size="6.9" text-anchor="middle" fill="#222" stroke="#222" stroke-width="0.12">Time (Month)</text>
<text x="0" y="2.38" transform="translate(350.50 467.75) rotate(-89.95) scale(1.0 1.15)" font-size="6.6" text-anchor="middle" fill="#222" stroke="#222" stroke-width="0.12">OS rate  (%)</text>
<path d="M369.30,417.30H404.35V422.69H447.34V433.68H468.50V433.68" stroke="#4a6af0" stroke-width="0.9" fill="none"/>
<path d="M379.87,415.80h3.0v3.0h-3.0zM384.66,415.80h3.0v3.0h-3.0zM389.62,415.80h3.0v3.0h-3.0zM394.42,415.80h3.0v3.0h-3.0zM402.35,415.80h3.0v3.0h-3.0zM403.51,421.19h3.0v3.0h-3.0zM408.47,421.19h3.0v3.0h-3.0zM413.27,421.19h3.0v3.0h-3.0zM419.88,421.19h3.0v3.0h-3.0zM427.98,421.19h3.0v3.0h-3.0zM435.92,421.19h3.0v3.0h-3.0zM446.66,432.18h3.0v3.0h-3.0zM451.62,432.18h3.0v3.0h-3.0zM462.21,432.18h3.0v3.0h-3.0z" stroke="#10106a" stroke-width="0.5" fill="#1e1ee0"/>
<path d="M369.30,417.30H370.29V421.10H371.95V425.29H373.43V429.29H374.43V433.28H375.91V437.28H384.18V441.28H386.16V445.27H401.37V450.77H408.32V456.26H415.59V465.25H429.48V478.24H467.18V491.23H468.50V491.23" stroke="#f05050" stroke-width="0.9" fill="none"/>
<path d="M368.79,419.60h3.0v3.0h-3.0zM370.45,423.79h3.0v3.0h-3.0zM371.93,427.79h3.0v3.0h-3.0zM372.93,431.78h3.0v3.0h-3.0zM374.41,435.78h3.0v3.0h-3.0zM382.68,439.78h3.0v3.0h-3.0zM384.66,443.77h3.0v3.0h-3.0zM389.62,443.77h3.0v3.0h-3.0zM397.06,443.77h3.0v3.0h-3.0zM399.38,443.77h3.0v3.0h-3.0zM399.87,449.27h3.0v3.0h-3.0zM406.82,454.76h3.0v3.0h-3.0zM410.95,454.76h3.0v3.0h-3.0zM414.09,463.75h3.0v3.0h-3.0zM418.23,463.75h3.0v3.0h-3.0zM427.98,476.74h3.0v3.0h-3.0zM465.68,489.73h3.0v3.0h-3.0z" stroke="#701010" stroke-width="0.5" fill="#e81818"/>
<rect x="397.90" y="430.80" width="3.20" height="3.20" fill="#1e1ee0" stroke="#10106a" stroke-width="0.5"/>
<text x="0" y="2.52" transform="translate(405.80 432.50) rotate(0.05) scale(1.0 1.15)" font-size="7.0" text-anchor="start" fill="#2020e0" font-style="italic" stroke="#2020e0" stroke-width="0.12">ITGA6_Low</text>
<rect x="417.40" y="483.50" width="3.20" height="3.20" fill="#e81818" stroke="#701010" stroke-width="0.5"/>
<text x="0" y="2.52" transform="translate(425.30 485.20) rotate(0.05) scale(1.0 1.15)" font-size="7.0" text-anchor="start" fill="#e82020" font-style="italic" stroke="#e82020" stroke-width="0.12">ITGA6_High</text>
<text x="0" y="2.30" transform="translate(372.20 503.80) rotate(0.05) scale(1.0 1.15)" font-size="6.4" text-anchor="start" fill="#222" stroke="#222" stroke-width="0.12">HR = 3.87 (1.46 to 10.31)</text>
<text x="0" y="2.30" transform="translate(372.20 510.20) rotate(0.05) scale(1.0 1.15)" font-size="6.4" text-anchor="start" fill="#222" stroke="#222" stroke-width="0.12">Logrank <tspan font-style="italic">P</tspan> = 0.005**</text></svg></body></html>
